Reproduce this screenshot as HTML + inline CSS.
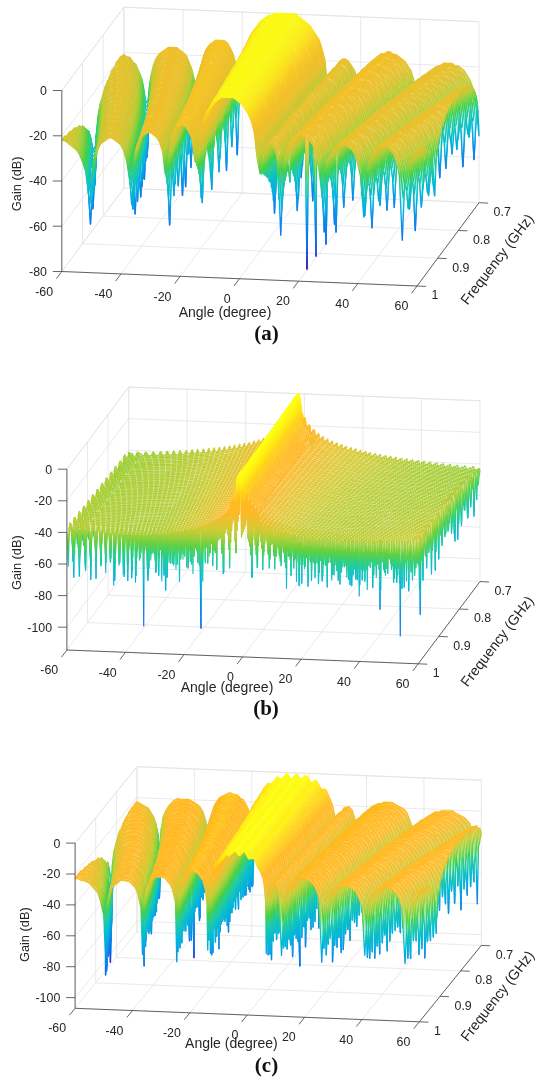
<!DOCTYPE html><html><head><meta charset="utf-8"><title>Gain plots</title><style>html,body{margin:0;padding:0;background:#fff;width:550px;height:1085px;overflow:hidden}svg{display:block}</style></head><body><svg width="550" height="1085" viewBox="0 0 550 1085"><defs><linearGradient id="ga" gradientUnits="userSpaceOnUse" x1="0" y1="0" x2="29.5" y2="-722.8"><stop offset="0.0" stop-color="#251793"/><stop offset="0.04" stop-color="#221a9f"/><stop offset="0.08" stop-color="#1d20b2"/><stop offset="0.12" stop-color="#1b32ca"/><stop offset="0.16" stop-color="#124de6"/><stop offset="0.2" stop-color="#026cf5"/><stop offset="0.24" stop-color="#0377f3"/><stop offset="0.28" stop-color="#097fee"/><stop offset="0.32" stop-color="#0b8ae8"/><stop offset="0.36" stop-color="#089be5"/><stop offset="0.4" stop-color="#04ace1"/><stop offset="0.44" stop-color="#03b7d6"/><stop offset="0.48" stop-color="#0bbfc6"/><stop offset="0.52" stop-color="#19c7b0"/><stop offset="0.56" stop-color="#2ccd8a"/><stop offset="0.6" stop-color="#42d048"/><stop offset="0.64" stop-color="#81d03e"/><stop offset="0.68" stop-color="#bdcb36"/><stop offset="0.72" stop-color="#d4c430"/><stop offset="0.76" stop-color="#e6c22e"/><stop offset="0.8" stop-color="#efbf2a"/><stop offset="0.84" stop-color="#f4c226"/><stop offset="0.88" stop-color="#f8cc20"/><stop offset="0.92" stop-color="#fade1a"/><stop offset="0.96" stop-color="#faee16"/><stop offset="1.0" stop-color="#faf814"/></linearGradient><linearGradient id="la" gradientUnits="userSpaceOnUse" x1="0" y1="0" x2="29.5" y2="-722.8"><stop offset="0.0" stop-color="#d3d1e9"/><stop offset="0.04" stop-color="#d3d1ec"/><stop offset="0.08" stop-color="#d2d2f0"/><stop offset="0.12" stop-color="#d1d6f4"/><stop offset="0.16" stop-color="#d0dbfa"/><stop offset="0.2" stop-color="#cce2fd"/><stop offset="0.24" stop-color="#cde4fd"/><stop offset="0.28" stop-color="#cee5fc"/><stop offset="0.32" stop-color="#cee8fa"/><stop offset="0.36" stop-color="#ceebfa"/><stop offset="0.4" stop-color="#cdeef9"/><stop offset="0.44" stop-color="#cdf1f7"/><stop offset="0.48" stop-color="#c8f1f2"/><stop offset="0.52" stop-color="#b7ede6"/><stop offset="0.56" stop-color="#a1e9cb"/><stop offset="0.6" stop-color="#90e393"/><stop offset="0.64" stop-color="#a5dd75"/><stop offset="0.68" stop-color="#cbd660"/><stop offset="0.72" stop-color="#ddd059"/><stop offset="0.76" stop-color="#ebce58"/><stop offset="0.8" stop-color="#f2cc55"/><stop offset="0.84" stop-color="#f6ce51"/><stop offset="0.88" stop-color="#f9d64d"/><stop offset="0.92" stop-color="#fbe548"/><stop offset="0.96" stop-color="#fbf145"/><stop offset="1.0" stop-color="#fbf943"/></linearGradient><linearGradient id="gb" gradientUnits="userSpaceOnUse" x1="0" y1="0" x2="28.4" y2="-722.1"><stop offset="0.0" stop-color="#221ba1"/><stop offset="0.05" stop-color="#1d26ba"/><stop offset="0.1" stop-color="#183fd9"/><stop offset="0.15" stop-color="#0565f3"/><stop offset="0.2" stop-color="#0376f4"/><stop offset="0.25" stop-color="#0981ed"/><stop offset="0.3" stop-color="#0b8fe6"/><stop offset="0.35" stop-color="#05a4e4"/><stop offset="0.4" stop-color="#03b4da"/><stop offset="0.45" stop-color="#09bec8"/><stop offset="0.5" stop-color="#1ac8ad"/><stop offset="0.55" stop-color="#32cf7c"/><stop offset="0.6" stop-color="#61d041"/><stop offset="0.65" stop-color="#a2cf3a"/><stop offset="0.7" stop-color="#d1cb34"/><stop offset="0.75" stop-color="#ecc02f"/><stop offset="0.8" stop-color="#ffb727"/><stop offset="0.85" stop-color="#ffbb1c"/><stop offset="0.9" stop-color="#ffd315"/><stop offset="0.95" stop-color="#ffed0f"/><stop offset="1.0" stop-color="#fdff07"/></linearGradient><linearGradient id="lb" gradientUnits="userSpaceOnUse" x1="0" y1="0" x2="28.4" y2="-722.1"><stop offset="0.0" stop-color="#7a76c7"/><stop offset="0.05" stop-color="#777dd6"/><stop offset="0.1" stop-color="#748ce8"/><stop offset="0.15" stop-color="#69a3f8"/><stop offset="0.2" stop-color="#68adf8"/><stop offset="0.25" stop-color="#6bb3f4"/><stop offset="0.3" stop-color="#6dbcf0"/><stop offset="0.35" stop-color="#69c8ef"/><stop offset="0.4" stop-color="#68d2e9"/><stop offset="0.45" stop-color="#6bd8de"/><stop offset="0.5" stop-color="#76dece"/><stop offset="0.55" stop-color="#84e2b0"/><stop offset="0.6" stop-color="#a0e38d"/><stop offset="0.65" stop-color="#c7e289"/><stop offset="0.7" stop-color="#e3e085"/><stop offset="0.75" stop-color="#f4d982"/><stop offset="0.8" stop-color="#ffd47d"/><stop offset="0.85" stop-color="#ffd677"/><stop offset="0.9" stop-color="#ffe573"/><stop offset="0.95" stop-color="#fff46f"/><stop offset="1.0" stop-color="#feff6a"/></linearGradient><linearGradient id="gc" gradientUnits="userSpaceOnUse" x1="0" y1="0" x2="25.9" y2="-659.8"><stop offset="0.0" stop-color="#251793"/><stop offset="0.05" stop-color="#211ba3"/><stop offset="0.1" stop-color="#1d28bd"/><stop offset="0.15" stop-color="#1545df"/><stop offset="0.2" stop-color="#026cf5"/><stop offset="0.25" stop-color="#0579f2"/><stop offset="0.3" stop-color="#0a85eb"/><stop offset="0.35" stop-color="#0996e5"/><stop offset="0.4" stop-color="#04ace1"/><stop offset="0.45" stop-color="#04b9d2"/><stop offset="0.5" stop-color="#11c4bc"/><stop offset="0.55" stop-color="#27cc96"/><stop offset="0.6" stop-color="#42d048"/><stop offset="0.65" stop-color="#8ed03c"/><stop offset="0.7" stop-color="#c6ce36"/><stop offset="0.75" stop-color="#e6c230"/><stop offset="0.8" stop-color="#ffbb29"/><stop offset="0.85" stop-color="#ffb81d"/><stop offset="0.9" stop-color="#ffd116"/><stop offset="0.95" stop-color="#ffec0f"/><stop offset="1.0" stop-color="#fdff07"/></linearGradient><linearGradient id="lc" gradientUnits="userSpaceOnUse" x1="0" y1="0" x2="25.9" y2="-659.8"><stop offset="0.0" stop-color="#dedcef"/><stop offset="0.05" stop-color="#deddf1"/><stop offset="0.1" stop-color="#dddff5"/><stop offset="0.15" stop-color="#dce3fa"/><stop offset="0.2" stop-color="#d9e9fe"/><stop offset="0.25" stop-color="#daebfd"/><stop offset="0.3" stop-color="#daedfc"/><stop offset="0.35" stop-color="#daeffb"/><stop offset="0.4" stop-color="#d9f3fa"/><stop offset="0.45" stop-color="#d9f4f8"/><stop offset="0.5" stop-color="#cdf3f1"/><stop offset="0.55" stop-color="#b3edda"/><stop offset="0.6" stop-color="#9be69e"/><stop offset="0.65" stop-color="#b1de78"/><stop offset="0.7" stop-color="#d2d860"/><stop offset="0.75" stop-color="#ebce59"/><stop offset="0.8" stop-color="#ffc954"/><stop offset="0.85" stop-color="#ffc64a"/><stop offset="0.9" stop-color="#ffda45"/><stop offset="0.95" stop-color="#fff03f"/><stop offset="1.0" stop-color="#fdff39"/></linearGradient></defs><rect width="550" height="1085" fill="#fff"/><line x1="123.9" y1="188.2" x2="123.9" y2="7.2" stroke="#e3e3e3" stroke-width="0.8"/><line x1="183.1" y1="190.6" x2="183.1" y2="9.6" stroke="#e3e3e3" stroke-width="0.8"/><line x1="242.3" y1="193.0" x2="242.3" y2="12.0" stroke="#e3e3e3" stroke-width="0.8"/><line x1="301.5" y1="195.4" x2="301.5" y2="14.4" stroke="#e3e3e3" stroke-width="0.8"/><line x1="360.7" y1="197.9" x2="360.7" y2="16.9" stroke="#e3e3e3" stroke-width="0.8"/><line x1="419.9" y1="200.3" x2="419.9" y2="19.3" stroke="#e3e3e3" stroke-width="0.8"/><line x1="479.1" y1="202.7" x2="479.1" y2="21.7" stroke="#e3e3e3" stroke-width="0.8"/><line x1="123.9" y1="188.2" x2="479.1" y2="202.7" stroke="#e3e3e3" stroke-width="0.8"/><line x1="123.9" y1="142.9" x2="479.1" y2="157.4" stroke="#e3e3e3" stroke-width="0.8"/><line x1="123.9" y1="97.7" x2="479.1" y2="112.2" stroke="#e3e3e3" stroke-width="0.8"/><line x1="123.9" y1="52.4" x2="479.1" y2="66.9" stroke="#e3e3e3" stroke-width="0.8"/><line x1="123.9" y1="7.2" x2="479.1" y2="21.7" stroke="#e3e3e3" stroke-width="0.8"/><line x1="123.9" y1="7.2" x2="479.1" y2="21.7" stroke="#e3e3e3" stroke-width="0.8"/><line x1="61.8" y1="271.5" x2="123.9" y2="188.2" stroke="#e3e3e3" stroke-width="0.8"/><line x1="61.8" y1="226.2" x2="123.9" y2="142.9" stroke="#e3e3e3" stroke-width="0.8"/><line x1="61.8" y1="181.0" x2="123.9" y2="97.7" stroke="#e3e3e3" stroke-width="0.8"/><line x1="61.8" y1="135.8" x2="123.9" y2="52.4" stroke="#e3e3e3" stroke-width="0.8"/><line x1="61.8" y1="90.5" x2="123.9" y2="7.2" stroke="#e3e3e3" stroke-width="0.8"/><line x1="61.8" y1="90.5" x2="123.9" y2="7.2" stroke="#e3e3e3" stroke-width="0.8"/><line x1="123.9" y1="188.2" x2="123.9" y2="7.2" stroke="#e3e3e3" stroke-width="0.8"/><line x1="103.2" y1="216.0" x2="103.2" y2="35.0" stroke="#e3e3e3" stroke-width="0.8"/><line x1="82.5" y1="243.7" x2="82.5" y2="62.7" stroke="#e3e3e3" stroke-width="0.8"/><line x1="61.8" y1="271.5" x2="61.8" y2="90.5" stroke="#e3e3e3" stroke-width="0.8"/><line x1="61.8" y1="271.5" x2="123.9" y2="188.2" stroke="#e3e3e3" stroke-width="0.8"/><line x1="121.0" y1="273.9" x2="183.1" y2="190.6" stroke="#e3e3e3" stroke-width="0.8"/><line x1="180.2" y1="276.3" x2="242.3" y2="193.0" stroke="#e3e3e3" stroke-width="0.8"/><line x1="239.4" y1="278.8" x2="301.5" y2="195.4" stroke="#e3e3e3" stroke-width="0.8"/><line x1="298.6" y1="281.2" x2="360.7" y2="197.9" stroke="#e3e3e3" stroke-width="0.8"/><line x1="357.8" y1="283.6" x2="419.9" y2="200.3" stroke="#e3e3e3" stroke-width="0.8"/><line x1="417.0" y1="286.0" x2="479.1" y2="202.7" stroke="#e3e3e3" stroke-width="0.8"/><line x1="123.9" y1="188.2" x2="479.1" y2="202.7" stroke="#e3e3e3" stroke-width="0.8"/><line x1="103.2" y1="216.0" x2="458.4" y2="230.5" stroke="#e3e3e3" stroke-width="0.8"/><line x1="82.5" y1="243.7" x2="437.7" y2="258.2" stroke="#e3e3e3" stroke-width="0.8"/><line x1="61.8" y1="271.5" x2="417.0" y2="286.0" stroke="#e3e3e3" stroke-width="0.8"/><g transform="scale(0.25)" fill="url(#la)" stroke="url(#ga)" stroke-width="5.4" stroke-linejoin="round"><path transform="translate(491,758)" d="M0 -534l12 1 24 19 23 37 12 27 12 46 12 124 12-132 11-63 12-36 24-35 24-17 35 2 36 28 11 19 12 27 12 46 12 126 12-143 12-63 12-36 11-17 24-17 36 1 11 10 24 37 12 46 12 90 12-44 11-90 24-72 24-35 12-9 11-17 24-17 12 0 12-8 83 3 59 48 35 55 12 37 12 55 12 136 12-36 12-62 11-27 12-18 12-8 12 0 12 10 12 18 12 28 11 55 12 152 12-160 12-45 12-27 23-35 24-17 12 0 12-8 12 0 11 10 12 0 36 29 12 18 11 28 12 46 12 117 12-35 12-63 12-35 12-27 11-18 24-17 12 1 12-9 35 2 12 9 12 1 12 18 12 10 11 18 12 28 12 37 12 90 12-26 4 98-12-122-12-64-12-37-23-37-24-19-12 0-12-10-35-1-47 34-12 17-12 27-12 36-12 98-12-63-12-82-11-37-24-37-36-28-11-1-12-9-12-1-12 9-12-1-23 17-24 36-12 26-12 54-12 262-11-272-12-55-24-37-12-9-12-1-12 9-11 17-12 36-12 63-12 8-12-127-12-45-11-37-36-56-59-48-83-3-12 9-12-1-35 26-36 53-12 26-11 36-24 180-12-118-12-46-12-27-11-19-12-9-36-2-23 17-12 18-12 26-12 54-12 308-12-254-12-55-23-55-36-29-35-1-36 25-12 18-11 27-12 53-12 160-12-98-12-63-23-55-12-10-12-18-12-1-12-10z"/><path transform="translate(487,764)" d="M0 -534l12 1 35 28 24 37 12 37 12 81 12-17 11-90 12-44 12-27 12-9 12-17 12 0 11-8 36 1 24 19 11 19 12 27 12 37 12 91 12-63 12-81 12-36 23-35 12-8 36 1 23 19 12 28 12 36 12 73 12 1 11-99 12-45 24-53 12-18 12-9 11-17 24-17 12 0 12-8 83 3 59 48 35 55 12 37 12 55 12 163 12-72 12-53 11-27 12-18 12-8 12 0 12 10 12 18 12 37 11 64 12 81 12-116 12-45 12-27 12-17 35-26 12 0 12-8 12 0 11 10 12 0 24 19 24 37 11 28 12 55 12 257 12-220 12-54 12-26 23-36 36-25 47 2 36 28 23 37 12 28 12 55 12 224 12-232 4 39-12 26-12-90-12-37-11-27-12-19-12-9-12-19-12 0-12-10-35-1-12 8-12 0-23 17-12 17-12 27-12 36-12 62-12 36-12-118-11-45-12-28-12-19-36-28-11-1-12-9-12-1-12 9-12-1-23 17-24 36-12 26-12 45-12 160-11-152-12-55-12-27-12-19-12-9-12-1-12 9-11 17-12 27-12 63-12 35-12-136-12-54-11-37-36-56-59-48-83-3-12 9-12-1-23 17-12 18-12 8-24 36-23 71-12 90-12 45-12-91-12-46-23-37-12-9-36-2-23 17-12 18-12 36-12 62-12 144-12-126-12-46-11-28-12-18-36-29-35-1-24 17-24 35-11 36-12 62-12 133-12-125-12-45-12-28-23-37-24-19-12-1z"/><path transform="translate(483,769)" d="M0 -543l12 10 12 0 23 19 24 37 12 37 12 55 12 171 11-225 12-53 12-27 12-18 35-25 36 1 24 19 23 37 12 37 12 64 12 27 12-117 12-45 11-26 12-18 12-8 36 1 23 19 12 19 12 36 24 119 11-126 12-45 12-36 12-26 12-18 12-9 11-17 12-9 12 1 24-17 83 3 59 48 24 37 23 55 12 55 12 208 12-117 12-53 11-27 12-18 12-8 12 0 12 10 12 18 12 37 11 82 12 36 12-98 12-36 12-27 12-17 35-26 12 0 12-8 12 0 11 10 12 0 24 19 12 19 23 55 12 73 12 116 12-124 12-45 12-26 12-18 47-34 35 1 12 10 12 0 12 10 12 18 12 10 11 27 12 37 12 73 12 27 12-98 4 21-12 233-12-225-12-55-11-27-24-37-36-29-47-2-35 26-24 35-12 27-12 53-12 221-12-258-11-54-12-28-24-37-24-19-11-1-12-9-12-1-12 9-12-1-35 26-12 18-12 26-12 45-12 117-11-82-12-64-12-36-12-19-12-9-12-1-12 9-11 17-12 27-12 54-12 71-12-163-12-54-11-37-36-56-59-48-83-3-12 9-12-1-23 17-12 18-12 8-12 18-24 53-11 45-12 99-12 0-12-73-12-37-12-27-23-19-36-2-12 9-23 35-12 36-12 81-12 62-12-91-12-36-11-28-12-18-24-20-35-1-12 9-12-1-12 18-12 8-12 27-11 45-12 89-12 18-12-82-12-36-24-37-35-29-12-1z"/><path transform="translate(479,775)" d="M0 -543l12 10 12 0 35 29 12 18 12 28 12 45 12 117 11-107 12-71 12-36 24-35 23-17 36 1 35 29 12 18 12 37 12 55 12 210 12-273 12-44 11-36 12-9 12-17 36 1 23 19 12 19 12 27 12 64 12 118 11-171 12-54 12-36 36-53 11-8 12-18 12 1 24-17 83 3 59 48 24 37 11 27 12 37 12 55 12 281 12-208 12-53 11-27 24-17 24 19 12 18 12 37 11 91 12-9 12-81 12-35 35-53 12-9 24 1 12-8 12 9 11 1 12 9 12 1 36 56 11 45 12 91 12 27 12-89 12-36 12-27 12-8 11-18 12-8 12 0 12-8 35 1 48 38 12 19 11 27 12 46 12 142 12-114 12-63 4 13-12 98-12-27-12-73-11-36-12-28-12-9-12-19-12-9-12-1-11-9-36-2-47 34-12 18-12 27-12 44-12 125-12-117-11-72-24-56-12-18-24-19-11-1-12-9-12-1-12 9-12-1-35 26-12 18-12 26-12 36-12 99-11-37-12-82-12-36-12-19-12-9-12-1-12 9-11 17-12 27-12 54-12 116-12-208-12-54-23-56-24-37-59-48-83-3-24 17-12 0-11 8-12 18-12 8-12 18-12 27-12 35-11 45-12 126-24-118-12-37-12-18-23-19-36-2-12 9-11 17-12 27-12 45-12 117-12-28-12-64-12-36-23-37-24-20-35-1-36 26-12 17-12 27-11 54-12 224-12-171-12-55-12-36-23-37-24-20-12 0-12-10z"/><path transform="translate(475,781)" d="M0 -543l12 10 24 0 11 10 12 19 12 9 12 28 12 36 12 73 11 9 12-107 12-45 12-27 12-8 12-18 11-8 36 1 12 10 12 0 23 37 12 28 12 46 12 135 12-162 12-53 11-36 12-18 24-17 35 2 12 18 12 10 12 36 12 46 12 317 11-343 12-54 12-36 12-26 24-36 59-42 83 3 59 48 24 37 11 27 12 37 12 55 12 312 12-239 12-53 11-27 24-17 24 19 12 18 12 46 11 109 24-117 12-35 12-27 12-18 23-17 12 1 12-9 12 1 12 9 11 1 36 28 12 19 12 28 11 45 12 144 24-133 12-36 24-35 35-26 47 2 36 29 24 37 11 37 12 63 12 89 12-133 12-45 4 13-12 63-12 114-12-142-11-46-12-28-12-18-47-38-36-2-12 9-12-1-11 9-12 17-12 9-12 27-12 35-12 90-12-28-11-90-12-46-36-56-12 0-11-10-12 0-12-10-12 9-24-1-11 8-36 53-12 36-12 81-11 8-12-91-12-36-12-19-24-19-23 17-12 27-12 54-12 208-12-282-12-54-11-37-12-28-24-37-59-48-83-3-24 17-12 0-11 17-12 9-36 53-12 35-11 54-12 171-12-117-12-64-12-28-12-18-23-19-36-2-12 18-11 8-12 36-12 45-12 273-12-211-12-55-12-36-11-19-36-29-35-1-24 17-24 35-12 36-11 72-12 106-12-116-12-46-12-27-12-19-35-29-12 0-12-10z"/><path transform="translate(471,786)" d="M0 -543l12 0 12 10 12 0 23 20 24 37 12 27 12 55 11 218 12-262 12-54 12-27 12-17 35-26 36 2 23 19 12 18 12 28 12 36 12 91 24-143 11-36 12-27 24-17 35 2 12 9 12 19 12 27 12 46 12 172 11-180 12-63 12-36 12-26 24-36 59-42 83 3 59 48 24 37 11 27 12 37 12 64 12 241 12-186 12-44 11-27 24-17 24 19 12 18 12 46 11 153 12-107 12-63 12-35 24-36 23-17 12 1 12-9 12 1 12 9 11 1 24 19 24 37 12 28 11 54 12 236 12-208 12-44 12-36 12-18 47-34 36 2 11 9 12 1 12 9 36 56 11 46 12 99 12-44 12-72 12-36 4 4-12 45-12 133-12-89-11-64-12-37-24-37-35-28-48-2-35 25-24 36-12 35-24 134-11-144-12-46-12-28-12-18-35-29-12 0-12-10-12 0-12 8-12 0-23 17-12 18-12 26-12 36-23 116-12-108-12-46-12-19-24-19-23 17-12 27-12 54-12 239-12-313-12-54-11-37-12-28-24-37-59-48-83-3-59 43-24 35-12 27-12 36-11 53-12 344-12-317-12-46-12-37-12-9-11-19-36-1-24 17-11 17-12 36-12 54-12 161-12-135-12-46-12-27-23-38-12 0-12-10-35-1-12 9-12 17-12 9-12 26-12 45-11 108-12-10-12-72-12-37-12-27-12-10-12-19-11-9-24-1-12-10z"/><path transform="translate(467,792)" d="M0 -543l12 0 12 10 12 0 35 29 12 19 12 27 12 46 11 99 12-89 12-72 12-36 24-35 23-17 24 1 12 1 23 19 24 37 12 36 12 73 12 1 12-108 11-45 24-35 12-9 35 2 12 9 12 19 12 27 12 37 12 127 11-108 12-72 12-36 24-53 12-18 59-42 83 3 59 48 24 37 11 27 12 37 12 73 12 198 12-161 12-35 11-27 24-17 24 19 12 27 12 46 11 232 12-213 12-54 12-26 24-36 23-17 12 1 12-9 12 1 12 9 11 1 24 19 12 18 24 56 11 72 12 99 12-116 12-35 12-27 24-35 11-9 12 1 12-9 36 2 47 38 24 55 11 55 12 226 12-234 12-54 12-36 4 13-12 35-12 72-12 44-11-99-12-46-36-55-12-10-11 0-12-10-36-1-47 34-12 18-12 35-12 45-12 208-11-236-12-55-12-28-24-37-23-19-12 0-12-10-12 0-12 8-12 0-23 17-24 35-12 36-12 63-11 107-12-153-12-46-12-19-24-19-23 17-12 27-12 45-12 186-12-242-12-63-11-37-12-28-24-37-59-48-83-3-59 43-24 35-12 27-12 36-11 62-12 180-12-172-12-45-12-28-12-18-11-10-36-1-24 17-11 26-12 36-24 144-12-91-12-37-12-27-11-19-24-19-36-1-35 25-12 18-12 26-12 54-11 262-12-218-12-54-12-28-24-37-23-19-12-1-12-9-12-1z"/><path transform="translate(462,797)" d="M0 -534l12 -9 12 1 12 9 11 1 24 19 12 19 12 27 12 37 11 63 12 19 12-108 12-45 12-26 12-18 23-17 36 2 35 28 12 19 12 36 12 55 12 108 12-179 11-45 12-27 12-17 12-9 35 2 24 19 12 27 12 37 12 100 11-54 12-81 12-45 24-53 12-8 11-18 48-34 83 3 59 48 24 37 11 27 12 46 12 64 12 172 12-135 12-45 11-17 24-17 24 19 12 27 12 55 11 202 12-201 12-45 12-35 12-18 35-26 12 1 12-9 12 1 12 9 11 1 12 9 36 56 12 46 11 91 12 18 12-81 12-35 12-27 12-18 35-25 48 2 35 28 12 19 12 27 12 37 11 73 12 27 12-98 12-45 12-27 4 4-12 35-12 54-12 234-11-226-12-55-24-55-47-38-36-1-12 8-11 0-12 8-24 36-12 26-12 36-12 116-11-99-12-73-24-55-12-19-23-19-12 0-12-10-12 0-12 8-12 0-23 17-24 35-12 27-12 54-11 212-12-231-12-46-12-28-24-19-23 17-12 27-12 36-12 161-12-198-12-73-11-37-12-28-24-37-59-48-83-3-59 43-12 18-24 53-12 36-11 72-12 107-12-127-12-36-12-28-12-18-11-10-36-1-12 8-23 35-12 45-12 108-12 0-12-73-12-37-23-37-24-19-12-1-24 0-23 17-24 35-12 36-12 71-11 89-12-99-12-45-12-28-12-18-35-29-12-1-12-9-12-1z"/><path transform="translate(458,803)" d="M0 -534l12 -9 12 1 12 9 11 1 24 19 24 37 12 28 11 54 12 218 12-262 12-53 12-27 12-18 35-25 24 1 12 9 11 1 24 37 12 27 12 46 12 178 12-213 11-54 12-27 24-35 35 2 24 19 12 27 12 37 12 82 11-18 12-99 12-45 12-26 35-53 48-34 83 3 59 48 24 37 11 27 12 46 12 73 12 145 12-117 12-45 11-17 24-17 12 9 12 19 12 27 12 64 11 108 12-134 12-45 12-26 12-18 35-26 12 1 12-9 12 10 12 0 35 29 12 18 12 28 12 46 11 153 12-89 12-54 12-35 24-36 35-25 36 1 12 10 11 0 12 10 24 37 12 27 12 46 11 125 12-97 12-63 12-35 12-18 4-5-12 26-12 45-12 98-11-27-12-72-12-37-12-28-12-18-35-29-48-2-35 26-12 17-12 27-12 36-12 80-11-18-12-91-12-45-36-56-11-10-12 0-12-10-12 0-12 8-12 0-35 26-12 17-12 36-12 45-11 200-12-201-12-55-12-28-24-19-23 17-12 18-12 45-12 134-12-171-12-64-11-46-12-28-24-37-59-48-83-3-47 34-12 18-12 9-24 53-12 45-11 81-12 53-12-100-12-36-12-28-23-19-36-1-12 8-12 18-11 26-12 45-12 180-12-108-12-55-12-37-12-18-35-29-36-1-23 17-12 17-12 27-12 45-12 107-11-18-12-64-12-36-12-28-12-19-24-19-11 0-12-10-12 0-12 8z"/><path transform="translate(454,808)" d="M0 -534l12 1 12-9 12 9 11 1 36 29 12 18 12 28 11 36 12 108 12-89 12-71 12-36 23-35 24-17 36 1 23 19 12 19 12 27 12 46 12 109 12-108 11-72 12-36 12-17 36-26 35 29 12 18 12 37 12 73 11 27 12-117 12-45 12-35 35-53 36-26 12 1 12-9 71 3 59 48 12 18 23 56 12 36 12 82 12 118 12-108 12-36 23-35 12 1 12 9 12 19 12 27 23 137 12-108 12-36 12-26 24-36 11-8 12 0 12-8 12 0 12 10 12 0 35 29 24 55 12 55 11 226 12-198 12-54 12-26 12-18 12-9 12-17 11 0 12-8 36 1 47 38 24 56 12 63 11 132 12-167 12-45 12-26 12-18 4 4-12 17-12 36-12 63-11 97-12-125-12-46-12-28-24-37-11-9-12-1-12-9-36-2-35 26-24 35-12 36-12 53-11 89-12-153-12-45-12-28-12-19-35-28-12-1-12-9-12 8-12 0-35 26-12 17-12 27-12 45-11 134-12-108-12-64-12-28-12-18-12-10-23 17-12 18-12 45-12 116-12-144-12-73-11-46-12-28-24-37-59-48-83-3-47 34-36 53-12 27-12 45-11 99-12 17-12-82-12-36-12-28-23-19-36-1-24 35-11 26-12 54-12 213-12-178-12-45-12-28-23-37-12-1-12-9-24-1-35 26-12 17-12 27-12 54-12 261-11-217-12-55-12-27-24-38-23-19-12 0-12-10-12 0-12 8z"/><path transform="translate(450,814)" d="M0 -534l12 1 12-9 12 0 11 10 12 0 24 20 12 18 12 28 11 36 12 73 12 0 12-98 12-45 12-27 11-17 24-17 12 0 24 1 23 19 24 37 12 37 12 82 12-36 11-90 12-36 12-26 24-17 35 1 24 37 12 28 12 64 11 81 12-144 12-54 24-53 23-35 36-26 12 1 12-9 71 3 59 48 12 18 23 56 12 36 24 182 12-90 12-36 11-26 12-9 12 1 12 9 12 19 12 37 12 81 11 19 12-90 12-36 12-26 12-9 12-18 11-8 12 0 12-8 12 0 12 10 12 0 23 19 24 38 12 36 12 73 11 99 12-116 12-45 36-53 12-8 11 0 12-8 36 1 35 29 12 18 12 28 12 37 12 90 11-17 12-81 12-36 12-26 12-18 4 4-12 17-12 27-12 45-11 166-12-131-12-64-24-55-47-38-36-2-11 9-12-1-12 18-12 8-12 18-12 27-12 53-11 198-12-226-12-54-24-56-35-28-12-1-12-9-12-1-12 9-11-1-12 9-24 35-12 27-12 35-11 108-24-136-12-28-12-18-12-10-12 0-23 35-12 36-12 107-12-117-12-82-11-37-24-55-12-19-59-48-71-2-12 8-12 0-35 25-36 53-12 36-12 45-11 117-12-28-12-73-12-36-12-19-35-29-36 26-12 18-11 36-12 71-12 108-12-109-12-45-12-28-12-18-23-20-36-1-23 17-24 35-12 36-12 72-12 89-11-108-12-37-12-27-12-19-36-29-11 0-12-10-12 9-12-1z"/><path transform="translate(446,819)" d="M0 -534l12 1 12-9 12 0 11 10 12 0 36 29 23 55 12 55 12 202 12-246 12-54 12-27 23-35 12 1 12-9 24 1 35 29 24 55 12 64 12 36 11-126 12-45 24-35 12-8 35 1 12 10 12 18 12 37 12 55 11 162 12-207 12-53 12-36 12-27 12-17 11-9 12-18 24-17 12 1 12-9 71 3 59 48 12 18 23 56 12 45 24 164 12-90 12-36 11-17 12-9 12 1 12 9 12 19 12 37 12 99 11-17 12-72 12-36 12-26 12-18 23-17 12 0 12-8 12 0 12 10 12 0 11 10 12 18 12 10 12 28 12 36 12 100 11 18 12-80 12-36 12-26 12-18 35-26 36 2 12 9 12 1 11 9 24 37 12 28 12 46 12 166 11-147 12-63 24-53 12-9 4-6-12 18-12 27-12 35-11 81-12 18-12-91-12-37-12-27-12-19-35-28-36-2-11 9-12-1-12 9-36 53-12 44-11 116-12-99-12-72-12-37-24-37-23-19-12-1-12-9-12-1-12 9-11-1-12 9-12 18-12 8-12 27-12 35-11 90-12-18-12-82-12-37-12-18-12-10-12 0-11 8-12 27-12 36-12 89-24-181-11-37-24-55-12-19-59-48-71-2-12 8-12 0-35 25-24 36-24 53-12 54-11 144-12-82-12-64-12-27-24-38-35-1-24 17-12 27-11 36-12 90-12 35-12-82-12-36-24-37-23-20-36-1-23 17-12 18-12 26-12 45-12 99-12-1-11-72-12-37-12-27-12-19-24-19-12-1-11-9-12-1-12 9-12-1z"/><path transform="translate(442,825)" d="M0 -525l12 -8 12 0 12-9 11 1 12 9 12 1 12 9 24 38 11 27 12 46 12 116 12-115 12-72 23-53 36-26 24 1 11 10 12 0 24 37 12 28 12 55 12 219 11-273 12-54 12-26 12-18 12-8 35 1 12 10 12 18 12 28 12 55 11 239 12-266 12-62 12-36 12-18 12-26 11-9 12-18 24-17 12 1 12-9 71 3 59 48 12 18 23 56 12 45 12 91 12 64 12-81 12-36 11-17 12-9 12 1 12 9 12 28 12 37 12 117 11-53 12-72 12-36 24-35 23-17 12 0 12-8 12 0 12 10 12 0 11 10 24 37 12 28 12 45 12 136 11-71 12-54 12-36 12-27 47-34 36 2 47 38 12 27 12 37 12 64 12 80 11-124 12-45 12-27 24-35 4 3-12 9-24 53-11 63-12 148-12-167-12-46-12-27-23-37-12-10-12 0-12-10-35-1-36 25-12 18-12 27-12 35-11 81-12-19-12-99-12-37-12-28-12-9-11-19-12-9-12-1-12-9-12-1-12 9-11-1-24 17-12 18-12 27-12 35-11 72-12 18-12-100-12-37-12-18-12-10-12 0-11 8-12 18-12 36-12 89-24-163-11-46-24-55-12-19-59-48-71-2-12 8-12 0-24 17-11 17-12 9-12 18-12 26-12 36-12 54-11 206-12-162-12-55-12-36-12-19-12-10-35-1-12 9-24 35-11 45-12 126-12-37-12-64-24-55-35-29-24-1-12 9-12 0-23 35-12 26-12 54-12 246-12-202-11-54-24-55-36-29-11-1-12-9-12-1-12 9-12-1z"/><path transform="translate(438,831)" d="M0 -525l12 -8 12 0 12-9 11 1 12 9 12 1 24 19 12 19 11 27 12 37 12 72 12-8 12-99 12-36 11-26 12-18 24-17 35 1 24 20 12 18 12 28 12 45 12 153 11-170 12-63 24-53 12-8 35 1 12 10 12 18 12 28 12 46 11 144 12-153 12-62 12-36 12-27 35-53 24-17 12 1 12-9 71 3 59 48 12 18 23 56 12 45 12 100 12 46 12-72 12-36 11-17 12-9 24 19 12 19 12 46 12 144 11-107 12-63 24-53 35-26 12 0 12-8 12 9 12 1 35 28 12 19 12 37 12 54 12 255 11-227 12-53 12-27 24-35 12-9 12 1 11-9 36 2 35 28 12 19 12 27 12 37 12 100 12-36 11-81 12-35 24-35 12-9 4-6-24 36-12 26-11 45-12 125-12-81-12-63-12-37-12-28-47-38-35-1-48 34-12 27-12 35-11 54-12 71-12-135-12-46-12-28-23-37-12-9-12-1-12-9-12-1-12 9-11-1-24 17-24 36-12 35-11 72-12 54-12-118-12-37-12-27-12-10-12 0-11 8-12 18-12 36-12 80-12-63-12-91-11-46-24-55-12-19-59-48-71-2-12 8-12 0-24 17-11 17-12 9-12 27-12 17-12 36-12 63-11 265-12-239-12-55-12-27-12-19-12-10-35-1-12 9-12 17-12 27-11 54-12 273-12-220-12-55-12-27-24-38-11 0-12-10-24-1-35 26-24 53-12 72-12 116-12-117-11-45-12-28-24-37-12-10-12 0-11-10-12 0-12 8-12 0-12 9z"/><path transform="translate(434,836)" d="M0 -516l24 -17 12 0 11-8 12 9 12 1 36 29 23 55 12 63 12 123 12-185 12-45 11-26 24-35 12-9 35 1 24 20 12 18 12 28 12 36 12 100 11-90 12-71 12-36 24-35 35 1 24 19 12 28 12 45 11 118 12-98 12-72 12-45 12-27 23-35 12-9 12-17 12-9 12 1 12-9 71 3 59 48 12 18 23 56 12 54 12 100 12 28 12-72 12-27 11-17 12-9 24 19 12 19 12 55 12 210 11-191 12-54 12-36 12-17 35-26 12 0 12-8 12 9 12 1 23 19 24 37 12 37 12 63 12 117 11-125 12-44 36-53 24-17 35 1 12 10 12 0 12 10 23 37 12 28 12 54 12 199 12-198 11-54 12-35 12-18 12-8 12-18 4 3-12 9-24 35-11 36-12 81-12 35-12-99-12-37-12-28-11-18-36-29-36-1-11 8-12 0-12 8-24 36-12 26-11 54-12 226-12-254-12-55-12-37-12-18-35-29-12 0-12-10-12 9-11-1-36 26-24 53-12 63-11 107-12-144-12-46-12-18-24-19-11 8-12 18-12 36-12 71-12-45-12-100-11-46-24-55-12-19-59-48-71-2-12 8-12 0-24 17-35 53-12 26-12 36-12 63-11 153-12-145-12-46-12-27-12-19-12-10-35-1-12 9-24 53-12 63-11 170-12-153-12-46-12-27-12-19-23-19-36-2-24 18-11 17-12 27-12 36-12 98-12 9-12-73-11-36-12-28-12-19-24-19-12 0-12-10-11 0-12 8-12 0-12 9z"/><path transform="translate(429,842)" d="M0 -516l24 -17 12 0 11-8 12 0 12 10 12 0 12 10 23 37 12 28 12 45 12 134 12-142 12-62 11-36 12-18 36-25 23 0 36 29 12 28 12 36 12 73 11-26 12-90 12-36 12-27 35-25 36 28 12 28 12 36 11 91 12-53 12-81 12-45 12-27 23-35 12-9 12-17 12-9 12 1 12-9 71 3 47 38 36 56 11 37 12 45 12 109 12 19 12-72 12-27 11-17 12-9 24 19 12 28 12 55 12 222 11-221 12-54 12-27 24-35 12-9 11 1 12-9 12 1 12 9 12 1 23 19 12 18 12 28 12 37 12 82 12 45 11-90 12-35 12-27 12-18 36-25 35 1 47 38 12 28 12 37 24 126 12-116 11-45 12-26 12-18 24-17 4-6-12 18-12 9-12 17-11 36-12 54-12 197-12-198-12-55-12-28-23-37-12-9-12-1-12-9-23-1-12-1-24 17-36 53-11 45-12 125-12-117-12-64-12-37-23-37-24-19-12 0-12-10-12 9-11-1-36 26-12 18-12 35-11 54-12 192-12-211-12-55-12-18-24-19-11 8-12 18-12 27-12 71-12-27-12-100-11-55-24-55-12-19-59-48-71-2-12 8-12 0-12 8-12 18-11 8-24 36-12 26-12 45-12 72-11 99-12-118-12-46-12-27-24-20-35-1-24 35-12 36-11 72-12 90-12-100-12-37-12-27-12-19-23-19-36-2-12 9-23 35-12 27-12 45-12 185-12-123-12-64-23-55-36-29-12 0-11-10-12 9-12-1-24 18z"/><path transform="translate(425,847)" d="M0 -507l12 -17 12-9 12 0 11-8 12 0 12 10 12 0 24 19 11 19 12 28 12 36 12 82 12-36 12-89 11-36 24-35 24-17 23 0 12 10 12 0 24 38 12 36 12 64 11 46 12-135 12-45 12-27 24-17 35 2 24 37 12 36 11 82 12-17 12-90 12-45 24-53 11-18 12-9 12-17 12 0 24-17 71 3 47 38 36 56 11 37 12 45 12 127 12-8 12-63 12-36 23-17 24 19 12 28 12 64 12 134 11-151 12-45 12-27 24-35 12-9 11 1 12-9 12 1 12 9 12 1 12 9 11 19 12 9 12 28 12 46 12 117 12-35 11-63 12-35 12-27 48-34 35 1 36 29 11 18 12 28 12 46 12 99 12-53 12-72 11-36 24-35 24-17 4-6-24 18-12 17-11 27-12 45-12 116-24-127-12-37-11-27-48-38-35-2-36 26-12 17-12 27-11 36-12 89-12-45-12-82-12-36-12-28-11-19-24-19-12 0-12-10-12 0-11 8-12 0-12 8-24 36-12 26-12 54-11 222-12-223-12-55-12-27-24-19-11 8-12 18-12 27-12 71-12-18-12-109-11-46-12-37-36-55-47-39-71-2-12 8-12 0-12 8-12 18-11 8-24 36-12 26-12 45-12 81-11 54-12-91-12-37-12-27-35-29-36 26-12 26-12 36-12 90-11 27-12-73-12-37-12-27-35-29-24-1-36 26-11 17-12 36-12 63-12 141-12-133-12-46-11-27-24-38-12-9-12-1-12-9-12-1-11 9-12-1-24 18z"/><path transform="translate(421,853)" d="M0 -507l36 -26 11 1 12-9 12 10 12 0 24 19 23 38 12 27 24 127 12-134 11-45 12-27 12-17 24-17 35 1 12 9 24 38 12 27 12 55 11 247 12-300 12-54 12-27 12-17 12-9 35 2 24 37 12 36 11 64 12 28 12-108 12-54 24-53 11-18 60-43 71 3 47 38 36 56 11 37 12 45 12 145 12-35 12-63 12-27 23-17 24 19 12 37 12 64 12 81 11-116 12-45 12-27 12-8 12-18 12-9 11 1 12-9 12 1 12 9 12 1 12 9 23 38 12 27 12 55 12 209 12-163 11-54 12-35 24-36 12-8 12 0 12-8 23 1 12 9 12 1 12 9 23 37 12 28 12 55 12 220 12-228 12-54 11-27 24-35 12-9 12 1 4-6-24 18-23 35-12 35-12 72-12 53-12-99-12-46-11-27-12-19-36-28-35-2-48 34-12 27-11 36-12 63-12 35-12-118-12-45-12-28-11-10-12-18-12-10-12 0-12-10-12 0-11 8-12 0-12 8-24 36-12 26-11 45-12 152-12-135-12-64-12-27-24-19-23 17-12 36-12 62-12 9-12-127-11-46-12-37-36-55-47-39-71-2-24 17-12-1-12 18-11 8-12 18-24 53-12 45-12 90-11 18-12-82-12-37-24-37-35-1-24 17-12 26-12 45-11 135-12-45-12-64-12-37-24-37-12-1-11-9-24-1-24 17-23 35-12 36-12 90-12 35-12-81-12-37-11-27-12-19-24-19-12-1-12-9-11-1-12 9-12-1-12 9-12 18z"/><path transform="translate(417,858)" d="M0 -498l12 -17 24-18 11 1 12-9 12 1 12 9 12 1 12 9 23 38 12 27 12 55 12 177 12-212 11-54 12-27 24-35 12-8 35 1 24 19 12 19 12 27 12 46 11 144 12-170 12-54 12-36 12-17 12-9 35 2 12 9 12 19 12 36 23 128 12-135 12-45 12-36 35-53 48-34 71 3 47 38 36 56 11 37 12 54 12 155 24-117 12-27 23-17 12 10 12 18 12 28 12 73 12 45 11-98 12-36 12-27 12-17 24-18 11 1 12-9 12 1 47 38 24 55 12 64 12 160 12-150 11-45 12-26 24-36 24-17 35 2 12 9 12 1 12 18 12 10 11 27 12 37 24 118 12-107 12-45 11-27 12-17 24-18 12 1 4-6-12 0-12 8-23 36-12 26-12 54-12 228-12-220-12-55-11-27-24-37-12-10-12 0-12-10-23-1-12 9-12-1-12 9-24 35-11 36-12 53-12 163-12-209-12-54-12-28-23-37-12-10-12 0-12-10-12 0-11 8-12 0-12 8-12 18-12 9-12 26-11 45-12 117-12-82-12-64-12-36-24-19-23 17-12 26-12 63-12 36-12-145-11-46-12-37-36-55-47-39-71-2-59 42-12 18-24 53-12 54-12 108-11-27-12-64-12-37-24-37-35-1-12 8-12 18-12 26-12 54-12 300-11-247-12-54-12-28-24-37-12-10-35-1-24 17-12 18-11 26-12 45-12 134-24-126-12-28-23-37-24-19-12-1-12-9-12 8-11 0-36 26z"/><path transform="translate(413,864)" d="M0 -489l24 -35 12-9 11 1 12-9 12 1 12 9 12 1 23 19 12 19 12 27 12 46 12 99 23-161 24-53 36-26 23 1 24 19 24 37 12 46 11 100 12-90 12-72 12-36 24-35 35 2 12 9 12 19 12 27 11 64 12 127 12-180 12-54 12-36 35-53 48-34 71 3 47 38 36 56 11 37 12 54 12 181 12-89 12-54 12-27 23-17 12 10 12 18 12 37 12 82 12 9 11-80 12-45 24-35 24-18 11 1 12-9 12 10 12 0 24 19 23 38 12 36 24 154 12-107 11-36 12-26 12-18 36-26 12 1 23 1 36 28 12 19 11 27 12 37 12 109 12-54 12-71 12-36 11-27 36-26 12 1 4-6-12 0-24 17-11 18-12 26-12 45-12 107-24-117-11-37-12-28-12-9-12-19-12 0-12-10-35-1-24 17-24 35-11 27-12 44-12 150-12-160-12-63-23-56-48-38-12 0-11 8-12 0-24 17-12 18-12 26-11 36-12 99-12-46-12-73-12-27-12-19-12-9-23 17-12 26-24 117-12-154-11-55-12-37-36-55-47-39-71-2-48 34-35 53-12 35-12 45-12 135-23-127-12-37-12-18-12-10-35-1-12 8-12 18-12 35-12 54-11 170-12-144-12-45-12-28-12-19-24-19-35-1-12 9-24 35-11 26-12 54-12 213-12-178-12-54-12-28-23-37-12-10-12 0-12-10-12 0-12 8-11 0-24 17-12 18z"/><path transform="translate(409,869)" d="M0 -480l12 -26 35-26 12 0 12-8 12 9 12 1 23 19 24 37 12 37 12 72 12 10 11-108 12-45 24-35 24-17 23 1 36 29 12 27 12 37 11 73 12-27 12-99 12-36 24-35 35 2 12 9 12 19 12 27 11 55 12 290 12-325 12-54 12-36 12-26 23-36 48-34 71 3 47 38 24 37 23 56 12 63 12 208 12-125 12-54 12-27 23-17 12 10 12 18 12 37 12 100 12-27 11-72 12-35 24-35 24-18 11 1 12-9 12 10 12 0 24 19 11 19 12 28 12 36 12 100 12 10 12-81 11-36 12-26 48-35 35 2 24 19 24 37 11 28 12 54 12 209 12-217 12-54 12-26 23-35 12-9 24 1 4-6-12 0-35 26-12 26-12 36-12 72-12 53-12-108-11-37-12-28-12-18-36-29-35-1-36 25-12 18-11 27-12 35-12 108-24-154-12-37-23-37-24-19-12-1-12-9-11 8-12 0-24 17-24 35-11 45-12 81-12-10-12-82-12-36-12-19-12-9-23 17-12 26-12 54-12 90-12-181-11-55-12-37-36-55-47-39-71-2-48 34-35 53-12 35-12 54-12 180-11-126-12-64-12-28-12-18-12-10-35-1-24 35-12 35-12 72-11 90-12-100-12-45-24-38-24-19-23-1-36 26-23 53-24 161-12-99-12-45-12-28-11-19-24-19-12 0-12-10-12 0-11 8-12 0-12 9-24 35z"/><path transform="translate(405,875)" d="M0 -471l12 -26 12-18 23-17 12 0 12-8 12 0 12 10 12 0 11 19 12 10 12 18 12 37 12 54 12 162 11-215 12-54 12-26 12-18 24-17 35 1 12 10 24 37 12 37 11 64 12 36 12-126 12-45 12-26 23-17 24 1 24 19 12 27 11 55 12 181 12-198 12-63 12-36 12-26 23-36 48-34 71 3 47 38 24 37 12 28 11 37 12 54 12 291 12-217 12-54 12-18 23-17 12 10 12 18 12 46 12 118 23-135 24-53 47-34 12 0 12 10 12 0 24 19 11 19 12 28 12 54 12 136 24-134 11-36 24-35 12-9 12 1 12-9 23 1 12 10 12 0 12 19 12 9 23 56 24 135 12-116 12-45 12-26 11-18 24-17 24 1 4-6-24-1-12 9-23 35-12 27-12 54-12 216-12-208-11-55-12-28-24-37-24-19-35-1-48 34-11 27-12 35-12 81-12-9-12-100-12-37-11-28-12-18-24-19-12-1-12-9-11 8-12 0-24 17-24 35-11 36-12 72-12 26-12-100-12-36-12-19-12-9-23 17-12 26-12 54-12 126-12-208-11-64-24-55-24-37-47-39-71-2-48 34-23 35-12 27-12 35-12 54-12 326-11-290-12-55-12-28-12-18-12-10-35-1-24 35-12 35-12 99-11 27-12-73-12-36-12-28-36-29-23-1-24 18-24 35-11 45-12 107-12-9-12-73-12-36-23-38-24-19-12 0-12-10-12 9-11-1-36 26-12 27z"/><path transform="translate(400,881)" d="M0 -462l12 -26 24-35 11-9 12 0 12-8 12 0 12 10 12 0 11 10 36 56 12 54 12 134 11-151 12-63 12-26 24-35 12-9 35 1 24 20 24 55 11 55 12 160 12-223 12-54 24-35 11-8 24 1 24 19 12 27 11 46 12 136 12-135 12-63 12-45 12-26 23-36 48-34 71 3 47 38 24 37 12 28 11 37 12 54 12 331 12-257 12-54 23-35 12 0 12 10 12 27 12 37 12 153 12-107 11-63 12-35 12-18 12-8 12-18 12 0 11-8 12 0 12 10 12 0 12 10 23 37 12 28 12 54 12 270 12-232 12-54 11-27 24-35 24-17 35 1 36 29 12 18 12 28 11 37 12 99 12-44 12-72 12-36 12-26 35-26 24 1 4-6-24-1-23 18-12 17-12 27-12 45-12 116-23-136-24-55-12-10-12-18-12-1-11-9-24-1-12 8-12 0-12 8-23 36-12 35-24 134-12-135-12-55-11-28-12-18-24-19-12-1-12-9-11-1-48 35-23 53-24 134-12-117-12-46-12-19-12-9-23 17-12 17-12 54-12 217-12-290-11-55-12-37-12-27-24-37-47-39-71-2-48 34-23 35-12 27-12 35-12 63-12 198-11-181-12-54-12-28-24-19-23-1-24 17-12 27-12 45-12 126-11-37-12-64-12-36-24-38-12-9-35-2-24 18-12 17-12 27-11 54-12 215-12-162-12-55-12-36-12-19-11-10-12-18-12-1-12-9-12-1-12 9-12-1-23 18-12 17-12 27z"/><path transform="translate(396,886)" d="M0 -443l12 -36 24-35 23-18 12 1 12-9 12 10 12 0 23 19 24 38 12 45 12 82 11-45 12-80 12-36 12-27 35-26 24 1 24 20 12 18 12 28 11 45 12 179 12-214 12-54 12-26 12-18 11-8 36 1 12 19 12 27 11 37 12 109 24-162 12-36 23-53 12-18 48-34 71 3 47 38 24 37 12 28 11 37 12 63 12 259 12-203 12-45 23-35 12 0 24 37 12 46 12 204 12-176 11-63 12-26 24-36 12-8 12 0 11-8 12 0 12 10 12 0 12 19 12 9 11 19 12 37 12 63 12 135 12-134 12-44 11-27 12-18 36-25 24 1 11 0 36 29 12 18 12 37 11 46 12 182 12-172 12-63 12-27 23-35 12-9 36 2 4-6-24-1-35 26-12 27-12 35-12 72-12 45-11-100-12-37-12-27-12-19-35-28-36-2-24 17-23 36-12 26-12 54-12 232-12-269-12-55-11-28-24-37-12-9-12-1-12-9-11-1-12 9-12-1-12 18-12 9-12 17-11 36-12 63-12 107-12-153-12-37-12-28-12-9-11-1-24 35-12 54-12 257-12-330-11-55-12-37-12-27-24-37-47-39-71-2-48 34-23 35-12 27-12 45-12 62-12 135-11-136-12-45-12-28-24-19-23-1-12 9-24 35-12 54-12 222-11-160-12-55-24-55-24-19-35-2-12 9-24 35-12 27-11 63-12 150-12-133-12-55-35-56-12-9-12-1-12-9-12-1-12 9-11-1-12 9-24 35-12 27z"/><path transform="translate(392,892)" d="M0 -425l12 -45 12-27 12-17 23-18 12 1 12-9 12 1 47 38 24 55 23 118 12-134 12-36 12-27 12-17 23-18 24 1 24 20 24 37 11 45 12 118 12-126 12-63 12-35 12-18 11-8 36 1 24 37 11 37 12 100 12-54 12-81 12-45 23-53 12-9 12-17 36-26 71 3 47 38 24 37 12 28 11 37 12 63 12 225 12-169 12-45 12-27 11-8 12 0 24 37 12 55 12 254 12-244 11-54 12-26 24-36 12-8 12 0 11-8 12 0 48 38 11 28 12 37 12 82 12 54 12-90 12-44 23-36 36-25 35 1 24 19 24 37 12 37 11 64 12 89 12-133 12-45 12-27 12-17 23-18 36 2 4-6-36-1-11 9-24 35-12 26-12 63-12 172-11-182-12-45-12-37-12-19-35-28-24-1-12-1-36 26-11 18-12 26-12 45-12 133-12-134-12-64-11-37-12-18-12-10-12-18-12-1-12-9-11-1-12 9-12-1-12 9-24 35-11 27-12 63-12 176-12-204-12-46-24-37-11-1-24 35-12 45-12 203-12-258-11-64-12-37-12-27-24-37-47-39-71-2-48 34-11 17-24 54-12 36-24 161-11-109-12-36-12-28-12-19-35-1-12 9-12 17-12 27-12 54-12 213-11-178-12-46-12-27-12-19-24-19-23-1-36 26-12 26-12 36-11 81-12 44-12-81-12-46-24-37-23-19-12-1-12-9-12 8-12 0-23 17-24 35-12 36z"/><path transform="translate(388,897)" d="M0 -389l12 -63 12-36 12-17 11-9 12-18 12 1 12-9 12 1 12 9 11 1 12 9 24 38 12 27 12 55 11 220 12-264 12-45 12-36 12-17 23-18 24 1 36 29 12 28 11 36 12 91 12-63 12-80 12-36 23-35 36 1 12 10 12 27 11 37 12 82 12-18 12-99 12-45 12-26 35-53 36-26 71 3 47 38 24 37 12 28 11 37 12 73 12 189 12-152 12-36 12-27 11-8 24 19 12 27 12 55 12 153 12-161 11-54 12-26 12-18 24-17 12 0 11-8 12 9 12 1 24 19 12 18 11 28 12 37 12 100 12 0 12-72 12-35 11-27 12-18 12-8 12 0 12-8 24 1 11 9 12 1 12 18 12 10 12 27 12 37 11 91 12-18 12-80 12-36 12-27 35-26 36 2 4-6-36-1-23 17-12 18-12 26-12 45-12 134-11-90-12-63-12-37-24-37-23-19-36-2-36 26-23 35-12 45-12 89-12-54-12-82-11-36-12-28-48-38-11-1-12 9-12-1-12 9-24 35-11 27-12 54-12 243-12-253-12-55-24-37-11-1-12 9-12 26-12 45-12 170-12-225-11-64-12-37-12-27-24-37-47-39-71-2-36 25-12 18-11 8-24 54-12 45-12 81-12 53-11-100-12-36-24-38-35-1-12 9-12 17-12 36-12 63-12 126-11-118-12-46-24-37-24-19-23-1-24 17-12 18-12 26-12 36-11 135-24-118-24-56-47-38-12 0-12 8-12 0-23 17-12 18-12 26-12 45z"/><path transform="translate(384,903)" d="M0 -353l12 -81 12-45 23-35 24-17 12 0 12-8 12 9 11 1 24 19 12 19 12 27 12 46 11 116 12-115 12-63 12-36 24-35 11-9 24 1 12 1 12 9 24 38 11 36 12 73 12-8 12-99 12-45 23-35 36 1 12 10 12 18 11 37 12 73 12 18 12-108 12-45 12-35 35-53 36-26 71 3 47 38 24 37 12 28 11 37 12 73 12 171 12-134 12-45 12-18 11-8 24 19 12 27 12 64 12 100 12-126 11-45 12-26 12-18 24-17 12 0 11-8 12 9 12 1 24 19 12 18 11 28 12 46 12 153 12-89 12-54 12-35 23-36 24-17 36 2 35 28 12 19 12 28 12 45 11 152 12-133 12-63 12-26 24-35 11-9 48 2 4-6-36-1-35 26-12 26-12 36-12 81-11 17-12-90-12-37-12-28-12-9-12-19-11 0-12-10-24-1-12 9-12-1-12 9-11 17-12 27-12 36-12 72-12-1-12-100-11-36-12-28-12-19-24-19-12 0-11-10-12 9-12-1-24 17-12 18-11 27-12 54-12 160-12-152-12-55-12-28-23-19-12 9-12 26-12 36-12 153-12-190-11-73-12-37-12-27-24-37-47-39-71-2-36 25-35 53-12 27-12 45-12 99-12 17-11-82-12-36-12-28-12-10-35-1-24 35-12 36-12 81-12 63-11-91-12-37-12-28-36-28-23-1-24 17-12 18-12 35-12 45-11 264-12-220-12-54-12-28-24-37-11-10-12 0-12-10-12 0-12 8-12 0-11 18-12 8-12 18-12 35-12 63z"/><path transform="translate(380,908)" d="M0 -252l12 -164 12-45 23-53 24-17 12 0 12-8 12 0 35 29 24 37 12 37 11 81 12-26 12-90 12-36 12-26 35-26 24 1 24 19 23 55 24 137 12-153 12-45 12-27 23-17 24 1 12 10 12 18 11 37 24 118 12-126 12-54 23-53 24-35 36-26 71 3 47 38 24 37 12 28 11 46 12 73 12 144 12-116 12-45 12-18 11-8 24 19 12 27 24 137 12-108 11-36 12-26 12-18 24-17 12 0 11-8 12 9 12 1 12 9 24 38 11 27 12 55 12 263 12-235 12-45 12-35 11-18 36-26 36 2 23 19 24 37 12 28 12 63 11 141 12-167 12-54 12-26 12-18 23-17 48 2 4-6-47-2-12 9-24 35-12 27-12 63-11 132-12-151-12-46-12-28-12-18-35-29-36-1-24 17-23 35-12 36-12 54-12 88-12-153-11-45-12-28-12-19-24-19-12 0-11-10-12 9-12-1-24 17-12 18-11 27-12 45-12 125-12-99-12-64-12-28-23-19-12 9-12 17-12 45-12 135-12-172-11-73-12-37-12-27-24-37-47-39-71-2-36 25-35 53-12 36-12 45-12 108-12-19-11-73-12-36-12-19-12-10-35-1-24 35-12 45-12 99-12 9-11-73-12-37-24-37-12-10-24-1-11 0-12 8-24 36-12 35-12 63-11 116-12-117-12-45-12-28-12-19-23-19-12 0-12-10-12 9-12-1-23 18-24 35-12 44-12 81z"/><path transform="translate(376,914)" d="M0 -252l12 -137 12-63 12-35 23-35 12-9 12 0 12-8 12 0 11 10 12 0 12 10 24 37 12 37 23 126 12-134 12-45 12-26 12-18 23-17 24 1 24 19 12 19 11 27 12 55 12 271 12-324 12-54 12-27 23-17 24 1 12 10 12 18 11 28 12 64 12 99 12-162 12-54 23-53 24-35 24-17 12 0 12-8 59 2 47 38 24 37 12 28 11 46 12 73 12 136 12-117 12-36 12-18 11-8 24 19 12 36 12 73 12 37 12-90 11-45 24-35 36-26 11 1 12 9 12 1 12 9 24 38 11 36 12 64 12 134 12-133 12-45 12-26 11-18 36-26 24 1 12 10 11 0 12 10 12 18 12 28 12 37 12 72 11 19 12-99 12-36 12-26 35-26 36 1 12 10 4-15-47-2-24 18-12 17-12 27-12 54-11 167-12-141-12-64-12-28-24-37-23-19-36-1-35 25-12 18-12 36-12 44-12 236-12-264-11-54-12-28-24-37-12-10-12 0-11-10-12 9-12-1-24 17-12 18-11 27-12 35-12 108-24-136-12-28-23-19-12 9-12 17-12 45-12 117-12-145-11-73-12-46-12-27-24-37-47-39-71-2-36 25-23 36-24 53-12 54-12 126-23-119-12-36-12-19-12-10-24-1-23 18-12 26-12 45-12 153-23-136-24-56-24-19-24-1-35 26-12 27-12 35-12 90-11 27-12-82-12-36-24-38-35-28-12-1-12 9-12-1-24 18-23 53-12 45-12 164z"/><path transform="translate(371,919)" d="M0 -318l12 -17 12-98 12-45 23-35 24-18 12 1 12-9 11 10 12 0 12 10 24 37 12 28 11 45 12 204 12-230 12-63 12-26 12-18 23-17 24 1 24 19 12 19 11 27 12 46 12 144 12-170 12-63 12-27 11-17 12-9 24 1 12 10 12 18 11 28 12 55 12 189 12-234 12-54 12-35 11-27 12-18 12-8 12-18 12-8 12 0 12-8 59 2 47 38 24 37 12 28 11 46 12 82 12 109 12-99 12-36 12-18 11-8 12 9 12 19 12 27 12 91 12 1 12-81 11-36 12-26 48-35 11 1 12 9 12 1 12 18 12 10 12 28 11 36 24 137 12-90 12-45 12-26 11-9 12-18 12 1 12-9 24 1 35 29 12 18 12 28 12 37 12 117 11-80 12-63 12-36 24-35 12-8 11 0 12-9 12 10 12 0 12 10 4-6-12-9-35-2-36 26-12 27-12 36-11 98-12-18-12-73-12-37-12-27-12-19-11-9-12-1-12-9-24-1-35 25-12 18-12 27-12 44-12 134-12-135-11-63-12-37-24-37-12-10-12 0-11-10-12 0-36 25-23 36-12 44-12 90-12-36-12-73-12-37-23-19-12 9-12 17-12 36-12 117-12-136-11-73-12-46-12-27-24-37-47-39-59-2-12 9-12-1-24 17-23 36-24 53-12 54-12 162-12-100-11-64-12-27-12-19-12-10-24-1-23 18-12 26-12 54-12 324-12-271-11-54-12-28-12-19-24-19-24-1-23 18-12 17-12 27-12 45-12 134-23-127-12-37-24-37-12-9-11-1-12-9-12-1-12 9-12-1-12 9-23 35-12 36-12 63-12 137z"/><path transform="translate(367,925)" d="M0 -353l12 140 12-202 12-45 23-53 24-18 12 1 12-9 11 10 12 0 24 19 12 19 12 28 11 36 12 117 12-107 12-63 12-35 23-35 12-9 24 1 36 29 11 27 12 37 12 109 12-99 12-72 12-36 11-17 12-9 24 1 24 19 11 28 12 54 12 249 12-275 12-63 12-35 11-27 12-18 12-8 12-18 12-8 12 0 12-8 59 2 47 38 24 37 23 74 24 182 12-90 12-36 12-18 11-8 12 9 12 19 12 37 12 99 12-26 12-81 23-53 12-18 12-9 12 1 12-9 11 1 36 28 24 38 11 45 12 100 12 1 12-72 12-36 12-26 11-18 24-17 36 1 35 29 12 18 12 37 12 46 12 244 11-252 12-45 12-36 12-17 24-17 35 1 24 19 4-15-12-9-12-1-12-9-11 8-12 0-12 9-24 35-12 35-11 63-12 80-12-117-12-37-12-27-12-19-35-28-24-1-12 8-12 0-11 17-12 9-12 27-12 44-12 90-23-136-12-37-12-28-12-9-12-19-12 0-11-10-12 0-48 34-11 27-12 35-12 81-12 0-12-91-12-28-12-18-11-10-12 9-12 17-12 36-12 99-12-109-11-82-12-46-12-27-24-37-47-39-59-2-12 9-12-1-12 9-12 17-12 9-11 18-12 26-12 36-12 54-12 233-12-189-11-55-12-27-12-19-12-10-24-1-11 9-12 18-12 26-12 63-12 170-12-144-11-45-12-28-12-19-24-19-24-1-23 18-12 17-12 27-12 63-12 230-11-204-12-46-12-28-24-37-12-9-11-1-12-9-12 8-12 0-24 17-23 35-12 45-12 98-12 17z"/><path transform="translate(363,931)" d="M0 -380l12 113 12-112 12-72 11-36 24-35 12-9 12 1 12-9 11 1 48 38 12 28 11 36 12 82 12-27 12-89 12-36 12-27 11-17 12-9 36 1 12 10 23 37 12 37 12 91 12-54 12-81 12-36 11-26 12-9 36 1 12 19 11 28 12 45 12 163 12-171 12-63 12-35 23-54 12-8 12-18 12-8 12 0 12-8 59 2 47 38 24 37 23 74 24 172 12-89 12-27 12-18 11-8 12 9 12 19 12 37 12 117 24-125 11-36 24-35 12-9 12 1 12-9 11 1 36 28 12 19 12 28 11 45 12 136 12-71 12-54 12-36 23-35 24-17 36 1 23 19 24 37 12 37 24 127 11-116 12-45 24-35 24-17 35 1 24 19 4-6-24-19-35-1-24 17-12 18-12 35-11 45-12 253-12-245-12-45-12-37-12-19-35-28-36-2-23 17-12 18-12 27-12 35-12 72-12 0-11-100-12-46-24-37-35-29-12 0-12 8-12 0-12 8-12 18-23 53-12 81-12 27-12-100-12-37-12-18-11-10-12 9-12 17-12 36-12 90-23-182-24-73-24-37-47-39-59-2-12 9-12-1-12 9-12 17-12 9-11 18-12 26-12 36-12 63-12 274-12-248-11-55-12-27-24-20-24-1-11 9-12 18-12 35-12 72-12 99-12-109-11-36-12-28-36-29-24-1-11 9-24 35-12 36-12 63-12 107-11-117-12-37-12-28-12-18-24-19-11-1-12-9-12 8-12 0-24 17-23 53-12 45-12 203-12-141z"/><path transform="translate(359,936)" d="M0 -398l12 72 12-9 12-98 11-45 24-35 36-26 11 1 12 9 12 1 12 9 24 38 11 36 24 127 12-143 12-45 12-27 35-26 24 1 12 10 23 37 12 37 12 64 12 9 12-108 12-45 23-35 36 1 23 38 12 45 12 127 12-117 12-72 12-35 11-27 24-35 12-9 12-17 12 0 12-8 59 2 47 38 12 19 24 55 11 46 12 91 12 63 12-80 12-36 23-17 12 9 12 19 12 46 12 144 12-107 12-63 11-27 24-35 12-9 12 1 12-9 11 10 12 0 24 19 12 19 12 37 11 45 12 262 12-215 12-54 12-36 12-18 35-25 24 1 12 9 12 1 11 9 12 19 12 28 12 36 12 100 12-36 11-80 12-36 24-35 12-9 47 2 12 10 12 18 4-15-24-19-12 0-23-1-24 17-24 35-11 45-12 117-24-127-12-37-23-37-24-19-36-2-23 17-24 36-12 35-12 54-12 71-11-135-12-46-12-28-12-18-35-29-12 0-12 8-12 0-12 8-23 36-12 35-24 126-12-118-12-37-12-18-11-10-12 9-12 17-12 27-12 90-23-173-24-73-24-37-47-39-59-2-12 9-12-1-12 9-12 17-12 9-23 53-12 36-12 63-12 171-12-163-11-46-12-27-12-19-36-2-11 9-12 27-12 35-12 81-12 54-12-91-11-36-24-38-12-9-36-2-11 9-12 18-12 26-12 36-12 90-12 26-11-81-12-37-12-28-47-38-12 0-12 8-12 0-12 8-23 36-12 35-12 72-12 113-12-114z"/><path transform="translate(355,942)" d="M0 -416l12 54 12 159 12-212 11-45 12-35 12-18 24-17 12 0 11-8 12 9 12 1 24 19 12 18 11 37 12 46 12 213 12-248 12-54 12-27 11-17 24-18 24 1 24 19 11 19 12 37 12 54 12 82 12-153 12-45 11-26 12-18 36 1 23 38 12 36 12 109 24-152 12-45 11-27 24-35 12-9 12-17 12 0 12-8 59 2 47 38 12 19 24 55 11 46 12 91 12 63 12-80 12-36 23-17 12 9 12 28 12 46 12 187 12-168 12-54 23-53 24-18 12 1 12-9 11 10 12 0 12 10 24 37 12 28 11 63 12 161 12-151 12-44 12-27 12-18 35-25 24 1 35 28 12 19 12 28 12 45 12 152 12-133 11-63 24-53 24-17 35 1 24 20 12 18 4-14-12-19-12-10-47-2-12 9-24 35-11 36-12 81-12 35-12-99-12-37-12-28-11-18-12-10-12 0-12-10-24-1-35 26-12 18-12 35-12 54-12 216-11-262-12-46-12-37-12-18-24-19-11-1-12-9-12 8-12 0-12 8-23 36-12 26-12 63-12 108-12-145-12-46-12-18-11-10-24 17-12 36-12 81-12-64-11-91-12-46-24-55-12-18-47-39-59-2-12 9-12-1-12 18-12 8-23 36-12 26-12 36-12 72-12 117-12-127-11-46-24-37-36-2-23 36-12 44-12 109-12-10-12-64-11-36-24-38-12-9-24-1-35 26-12 26-12 45-12 143-23-126-12-37-24-37-12-10-12 0-11-10-12 0-36 25-23 36-12 44-12 99-12 8-12-72z"/><path transform="translate(351,947)" d="M0 -425l12 45 12 114 12-122 11-63 12-35 24-36 12-8 12 0 11-8 12 0 36 29 12 18 11 28 12 37 12 117 12-107 12-72 23-53 24-18 24 1 24 19 11 19 12 28 12 54 12 272 12-325 12-54 11-26 24-17 24 0 12 10 11 28 12 36 12 91 12-44 12-90 12-45 11-27 24-35 48-34 59 2 47 38 12 19 24 55 11 46 12 100 12 45 12-71 12-36 23-17 12 9 12 28 12 46 12 290 12-280 12-45 11-36 12-17 24-18 12 1 12-9 11 10 12 0 12 10 24 37 12 37 11 73 12 90 12-108 12-44 12-27 12-9 11-17 12 0 12-8 24 1 35 28 24 56 12 54 12 150 12-176 11-45 12-26 12-18 24-17 12 1 23 0 24 20 12 18 4-5-12-19-24-19-35-2-24 18-23 53-12 63-12 132-12-151-12-46-12-28-11-18-36-29-24-1-35 26-12 18-12 26-12 45-12 150-11-160-12-64-12-27-24-38-12-9-11-1-12-9-12 8-12 0-24 17-23 53-12 54-12 169-12-188-12-46-12-27-11-10-24 17-12 36-12 81-12-64-11-91-12-46-24-55-12-18-47-39-59-2-12 9-12-1-12 18-12 8-23 36-12 26-12 45-24 153-12-109-11-37-24-37-36-2-11 18-12 27-12 45-12 153-12-82-12-55-11-36-12-19-24-19-24-1-23 17-12 18-12 26-12 54-12 248-12-213-11-45-12-37-12-19-24-19-12 0-11-10-12 9-12-1-24 17-12 18-11 36-12 44-12 212-12-158-12-55z"/><path transform="translate(347,953)" d="M0 -434l12 36 12 72 12-8 11-99 12-44 24-35 35-26 12 0 12 10 12 0 12 19 12 9 11 28 12 37 12 81 12-35 12-90 12-36 23-35 12-9 24 1 35 29 12 28 12 45 12 162 12-188 12-54 11-26 12-18 12-8 24 0 12 10 11 19 12 36 12 82 12-17 12-90 12-45 11-36 24-35 48-34 59 2 47 38 12 19 24 55 11 46 12 109 12 27 12-71 12-27 23-17 12 9 12 28 12 55 12 186 12-185 12-54 11-27 12-17 36-26 12 0 11 10 12 0 12 10 12 18 12 28 12 37 11 91 12 27 12-81 12-35 12-27 12-18 23-17 36 2 24 19 23 37 12 37 12 72 12 28 12-99 11-36 12-26 12-18 12-8 47 1 12 10 24 37 4-14-12-19-24-19-35-2-24 18-12 17-11 27-12 45-12 176-12-150-12-55-23-55-36-29-24-1-12 9-11-1-12 18-12 9-12 26-12 45-12 107-11-90-12-73-12-36-24-38-12-9-11-1-12-9-12 8-12 0-24 17-11 18-12 35-12 45-12 280-12-290-12-46-12-27-11-10-24 17-12 36-12 72-12-46-11-100-12-46-24-55-12-18-47-39-59-2-48 34-23 36-12 26-12 45-12 90-12 45-12-91-11-37-12-28-12-9-24-1-23 17-12 27-12 54-12 325-12-272-12-55-11-27-12-19-24-19-24-1-23 17-24 53-12 72-12 107-12-117-11-36-12-28-12-19-36-28-11-1-12 9-12-1-12 9-24 35-12 36-11 63-12 121-12-113-12-46z"/><path transform="translate(342,958)" d="M0 -443l12 27 12 55 12 149 11-202 12-54 12-27 12-17 24-18 11 1 12-9 12 10 12 0 12 10 23 37 12 37 12 63 12 46 12-126 12-45 11-26 12-18 12-9 36 2 12 9 11 19 12 28 12 36 12 118 12-117 12-72 11-26 12-18 12-8 24 0 12 10 11 19 12 36 12 73 12 10 12-108 12-45 23-54 12-17 48-34 59 2 47 38 12 19 24 55 11 55 12 109 12 18 12-71 12-27 23-17 24 37 12 64 12 126 12-143 12-45 11-27 12-17 36-26 12 0 35 29 24 37 12 46 11 118 12-36 12-63 12-35 24-36 23-17 36 2 24 19 11 18 12 28 12 46 12 99 12-53 12-72 11-36 24-35 12-8 35 1 24 19 12 19 12 27 4-23-24-38-12-9-47-2-12 9-12 17-11 27-12 36-12 98-12-27-12-73-12-37-23-37-24-19-36-1-23 17-12 18-12 26-12 36-12 81-11-28-12-91-12-36-12-28-12-19-12-9-11-1-12-9-12-1-36 26-11 18-12 26-12 54-12 186-12-187-12-55-12-27-11-10-24 17-12 27-12 72-12-28-11-109-12-46-24-55-12-18-47-39-59-2-48 34-23 36-12 35-12 45-12 90-12 18-12-82-11-37-12-19-12-9-24-1-12 9-11 17-12 27-12 54-12 188-12-162-12-46-11-28-36-28-24-1-12 8-23 36-12 35-12 90-12 36-12-82-11-36-12-28-12-10-12-18-12-1-12-9-11-1-36 26-24 35-11 45-12 98-12 9-12-72-12-37z"/><path transform="translate(338,964)" d="M0 -453l12 28 12 46 12 113 11-121 12-63 12-36 24-35 12-9 11 1 12-9 12 10 12 0 24 19 11 19 12 37 12 54 12 223 12-267 12-54 11-26 12-18 24-17 24 1 12 9 23 38 12 36 12 91 12-63 12-81 11-35 12-18 12-8 24 0 12 10 11 19 12 27 12 73 12 37 12-117 12-54 23-54 12-17 48-34 59 2 47 38 12 19 24 55 11 55 12 118 12 0 12-62 12-27 12-18 11 1 12 18 12 28 12 64 12 90 12-125 12-45 23-35 36-26 12 0 35 29 12 19 12 27 12 46 11 170 12-115 12-54 12-35 12-18 35-26 24 1 12 10 12 0 23 37 12 28 12 55 12 189 12-188 12-63 11-27 12-17 24-17 35 1 24 19 24 55 4-14-12-28-12-18-23-20-36-1-12 9-23 35-12 36-12 71-12 54-12-100-12-46-11-27-12-19-24-19-36-1-23 17-24 35-12 36-12 63-11 35-12-118-12-45-24-38-35-28-12-1-36 26-11 18-12 26-12 45-12 143-12-126-12-64-23-37-24 17-12 27-12 72-12-19-11-109-12-55-24-55-12-18-47-39-59-2-48 34-12 18-23 53-12 45-12 108-12-9-12-73-11-37-12-19-12-9-12-1-12 0-12 9-11 17-12 27-12 72-12 117-12-118-12-37-11-28-12-18-12-10-36-1-12 8-11 18-12 27-12 44-12 126-12-45-12-64-11-37-24-37-12-9-12-1-12-9-11 8-12 0-24 17-12 18-12 26-11 54-12 203-12-150-12-54-12-28z"/><path transform="translate(334,969)" d="M0 -462l12 28 12 37 12 72 11-18 12-98 12-36 12-26 12-9 12-18 11 1 12-9 12 1 36 28 11 19 12 28 12 45 12 134 12-142 12-63 11-35 12-18 24-17 24 1 23 19 24 55 12 82 12-18 12-99 11-35 12-27 12-8 24 0 23 20 12 36 12 64 12 82 12-144 12-54 11-36 12-27 12-17 48-34 47 2 12 0 47 38 12 19 24 55 11 55 12 127 12-9 12-62 12-27 12-18 11 1 12 18 12 28 12 73 12 54 12-98 12-45 11-27 12-8 12-18 12 0 12-8 12 0 35 29 12 19 12 36 12 55 11 240 12-212 12-54 12-26 24-36 11 1 12-9 24 1 36 29 23 55 12 64 12 107 12-151 12-45 11-27 12-8 12-18 47 2 12 10 24 37 12 45 4-23-24-55-23-20-36-1-24 17-11 18-12 26-12 63-12 188-12-189-12-54-11-28-24-37-12-1-12-9-24-1-35 25-12 18-12 36-12 54-11 115-12-171-12-45-12-28-12-19-35-28-12-1-36 26-23 35-12 45-12 126-12-91-12-64-12-27-11-19-12 0-12 17-12 27-12 63-12-1-11-118-12-55-24-55-12-18-47-39-59-2-48 34-12 18-23 53-12 54-12 117-12-36-12-73-11-28-12-19-12-9-24-1-12 9-11 17-12 36-12 81-12 63-12-91-12-37-23-37-12-10-24-1-24 18-11 17-12 27-12 54-12 266-12-222-12-55-11-37-12-18-24-19-12-1-12-9-11 8-12 0-12 8-24 36-12 35-11 63-12 122-12-114-12-45-12-28z"/><path transform="translate(330,975)" d="M0 -471l24 56 12 63 11 102 12-173 12-45 12-26 12-18 35-26 12 1 12 9 12 1 12 18 11 10 12 28 12 36 12 91 12-54 12-81 11-35 12-27 24-17 24 1 23 19 12 19 12 36 12 64 12 46 12-135 11-45 24-35 24 0 23 20 12 27 12 64 12 136 12-189 12-54 11-36 36-53 36-25 59 2 47 38 12 19 12 27 12 37 11 46 12 145 12-36 12-63 24-35 23 19 12 28 12 82 12 27 12-89 12-36 11-27 12-17 12-9 12 0 12-8 12 9 11 1 24 19 24 55 12 64 11 135 12-134 12-45 12-26 12-9 12-18 11-8 36 1 24 19 23 38 12 36 12 82 12 9 12-89 12-45 23-35 12-9 47 2 24 37 12 28 12 46 4-24-12-46-24-37-11-10-48-1-12 17-11 9-12 26-12 45-12 152-12-108-12-63-23-56-36-28-24-1-11 8-12 0-24 35-12 27-12 53-11 212-12-240-12-54-12-37-12-19-35-28-12-1-12 9-12-1-12 18-11 9-12 26-12 45-12 99-12-55-12-73-12-27-11-19-12 0-12 17-12 27-12 63-12 8-11-127-12-55-24-55-12-18-47-39-59-2-48 34-12 18-11 27-12 35-12 54-12 144-12-81-12-64-11-37-24-19-24-1-12 9-11 26-12 36-12 99-12 18-12-82-23-56-24-19-24-1-24 18-11 17-12 36-12 63-12 142-12-134-12-46-11-28-12-18-36-29-12 0-11 8-12 0-12 17-12 9-12 27-12 35-11 99-12 17-12-72-12-37-12-27z"/><path transform="translate(326,980)" d="M0 -471l12 19 12 28 12 45 11 137 12-154 12-63 12-26 24-36 11-8 12 0 12-8 12 9 12 1 12 9 23 38 12 36 12 73 12 9 12-108 11-35 12-27 12-18 12-8 24 1 23 19 12 19 12 27 12 55 12 144 12-206 11-45 12-27 12-17 36 1 11 19 12 27 12 55 12 263 12-298 12-63 23-53 24-36 36-25 59 2 47 38 12 19 12 27 12 37 11 55 12 145 12-45 12-63 12-26 12-9 23 19 12 37 12 82 12 9 12-80 12-45 23-35 12-9 12 0 12-8 12 9 11 1 12 9 24 38 12 36 23 146 12-99 12-36 12-26 12-18 23-17 36 1 24 19 12 19 11 28 12 45 12 109 24-143 23-54 24-17 36 2 23 19 12 18 12 37 12 64 4-33-12-46-12-27-23-38-48-1-12 8-23 35-12 45-12 90-12-10-12-81-11-37-24-37-24-19-35-2-12 9-12 17-12 9-12 27-12 44-11 134-12-135-12-63-24-56-23-19-12 0-12-10-12 9-12-1-12 9-11 18-12 26-12 36-12 90-12-28-12-82-12-27-23-19-24 35-12 63-12 35-11-145-12-45-12-37-12-28-12-18-47-39-59-2-36 26-35 53-12 35-12 54-12 189-12-136-12-63-11-28-24-19-24-1-23 35-12 45-12 135-12-46-12-63-12-37-11-19-24-19-24-1-24 18-11 26-12 36-12 81-12 53-12-90-12-37-11-28-12-9-12-19-12 0-12-10-12 0-35 25-12 18-12 27-12 44-11 174-12-103-12-63-24-55z"/><path transform="translate(322,986)" d="M0 -480l12 19 12 28 12 36 11 81 12-44 12-81 12-35 12-27 12-18 11-8 12 0 12-8 12 9 12 1 23 19 12 18 12 37 12 55 12 124 12-177 11-54 12-27 12-8 12-18 36 1 11 19 12 9 12 28 12 55 12 203 12-247 11-54 12-27 12-17 36 1 11 19 12 27 12 46 12 216 12-233 12-63 11-36 12-26 24-36 36-25 59 2 47 38 12 19 12 27 12 37 11 55 12 172 12-81 12-54 12-26 12-9 23 19 12 37 12 100 12-27 12-72 12-35 23-35 12-9 12 0 12-8 12 9 11 1 12 9 12 19 12 28 12 36 12 91 11 19 12-81 12-36 24-35 23-17 24 1 12 9 12 1 24 37 11 28 12 54 12 218 12-226 12-54 12-26 11-18 24-17 36 2 11 9 24 37 12 46 12 91 4-51-12-64-12-36-12-19-23-19-36-1-23 17-24 53-24 143-12-108-11-46-12-28-12-18-24-19-35-2-24 17-12 18-12 27-12 35-11 99-24-145-12-37-24-37-11-10-12 0-12-10-12 9-12-1-12 9-23 35-12 45-12 81-12-10-12-82-12-36-23-19-12 8-12 27-12 63-12 44-11-145-12-54-12-37-12-28-12-18-47-39-59-2-36 26-24 35-23 53-12 63-12 299-12-264-12-54-11-28-12-19-36-1-12 18-11 26-12 45-12 206-12-144-12-54-12-28-11-19-24-19-24-1-12 9-12 18-11 26-12 36-12 108-12-10-12-72-12-37-23-37-12-10-12 0-12-10-12 9-11-1-12 9-24 35-12 27-12 63-11 153-12-136-12-46-12-28-12-18z"/><path transform="translate(318,992)" d="M0 -489l12 19 24 55 23 134 12-142 12-44 12-27 12-18 35-25 12 0 35 29 12 18 12 28 12 46 12 174 12-200 11-54 12-27 12-17 24-18 24 1 11 10 12 18 12 28 12 46 12 126 12-143 11-63 12-36 24-17 24 1 23 37 12 46 12 163 12-162 12-72 11-36 12-26 24-36 36-25 59 2 47 38 12 19 12 27 12 37 11 55 12 190 12-99 12-54 12-26 12-9 11 10 12 18 12 37 12 109 24-117 12-35 11-27 24-17 12 0 12-8 12 9 11 1 12 18 12 10 12 28 12 45 12 118 11-35 12-72 24-53 35-26 24 1 36 28 12 19 11 37 12 63 12 90 12-134 12-45 12-26 11-18 12-8 48 2 23 37 12 27 12 46 12 177 4-110-12-91-12-45-23-37-12-10-36-1-23 17-12 17-12 27-12 54-12 225-12-217-11-55-12-28-24-37-12 0-12-10-23-1-24 17-24 36-12 35-11 81-12-18-12-91-12-37-12-28-12-18-11-10-12 0-12-10-12 9-12-1-12 9-23 35-12 36-12 72-12 26-12-100-12-36-23-19-12 8-12 27-12 54-12 80-11-172-12-54-12-37-12-28-12-18-47-39-59-2-36 26-24 35-11 27-12 35-12 63-12 233-12-216-12-45-11-28-12-19-36-1-12 18-11 26-12 54-12 247-12-203-12-54-12-28-11-10-12-18-36-2-12 18-12 9-11 26-12 54-12 178-12-125-12-54-12-37-11-19-24-19-12 0-12-10-12 9-11-1-12 9-12 18-12 26-12 36-12 80-11 44-12-80-12-37-12-28-12-18z"/><path transform="translate(313,997)" d="M0 -489l24 37 12 28 11 55 12 158 12-193 12-54 12-36 12-18 35-25 12 0 12 10 12 0 11 19 12 9 12 28 12 46 12 108 12-98 11-72 12-36 12-17 24-18 24 1 11 10 24 37 12 46 12 100 12-99 11-72 12-27 12-17 12-9 24 1 11 10 12 27 12 46 12 127 12-126 12-63 11-45 12-26 24-36 36-25 59 2 47 38 12 28 12 18 12 37 11 55 12 226 12-144 12-45 12-26 12-9 11 10 12 18 12 37 12 136 12-90 12-63 23-53 36-26 12 1 35 28 12 19 12 28 12 45 12 179 11-123 12-54 12-36 12-17 35-26 24 1 24 19 24 37 11 37 12 81 12 1 12-81 12-45 23-35 12-8 36 1 23 19 12 19 12 36 12 64 12 108 4 36-12-177-12-45-12-28-23-37-48-2-11 9-12 17-12 27-12 45-12 134-12-90-12-64-11-37-12-18-36-29-12 0-11-1-36 26-24 53-11 72-12 36-12-118-12-46-12-28-12-9-11-19-12 0-12-10-12 9-12-1-24 18-11 26-12 36-24 116-12-109-12-36-11-19-12-9-12 8-12 27-12 54-12 98-11-190-12-54-12-37-12-28-12-18-47-39-59-2-36 26-24 35-11 27-12 35-12 72-12 162-12-163-12-45-23-38-24-1-24 18-11 35-12 63-12 144-12-127-12-45-12-28-12-19-11-9-24-1-24 17-12 18-11 26-12 54-12 201-12-175-12-45-12-28-11-19-36-28-12-1-35 26-12 18-12 26-12 45-12 141-23-134-24-55-12-18z"/><path transform="translate(309,1003)" d="M0 -489l12 10 12 18 12 28 11 37 12 98 24-151 12-36 23-35 12-9 12 1 12-9 12 10 12 0 11 10 24 37 12 37 12 81 12-26 11-90 12-36 12-26 24-18 12 1 12 0 23 19 12 28 12 37 12 82 12-45 11-90 12-36 12-17 12-9 24 1 11 10 12 27 12 37 12 109 24-162 23-71 24-36 36-25 59 2 35 29 36 55 12 37 11 64 12 284 12-211 12-54 12-17 12-9 11 10 12 18 12 46 12 162 12-134 12-54 12-35 11-18 36-26 12 1 35 28 12 19 12 28 12 54 12 244 11-215 12-45 12-27 24-35 12-9 35 2 24 19 12 18 12 28 11 46 12 108 24-143 12-36 12-17 23-17 36 1 12 10 23 37 12 36 12 91 12 1 4 65-12-107-12-64-12-37-11-18-24-20-36-1-11 9-24 35-12 45-12 80-12 0-11-82-12-37-24-37-24-19-23-1-36 26-12 18-12 35-11 54-12 124-12-179-12-46-12-28-12-18-35-29-12 0-35 26-24 53-12 63-12 89-12-136-12-36-11-19-12-9-12 8-12 27-12 45-12 143-11-226-12-54-12-37-12-19-12-27-47-39-59-2-36 26-24 35-11 27-12 44-12 63-12 126-12-127-12-45-11-28-12-10-24-1-12 9-12 18-11 26-12 72-12 99-12-100-12-45-23-38-12-9-24-1-24 17-12 18-11 35-12 72-12 98-12-108-12-46-12-27-11-10-12-18-12-1-12-9-12-1-35 26-12 18-12 35-12 54-12 194-11-159-12-55-12-27-24-37z"/><path transform="translate(305,1008)" d="M0 -498l12 10 12 18 12 28 11 37 12 63 12 18 12-107 12-45 12-26 11-9 12-18 12 1 12-9 12 10 12 0 23 19 24 56 12 72 12 37 11-126 12-36 12-26 12-18 12-9 24 1 23 19 12 19 12 37 12 73 12-9 11-99 12-45 12-17 12-9 24 1 11 10 12 18 12 37 12 100 12-54 12-90 11-36 24-53 12-9 12-17 24-17 59 2 35 29 36 55 12 37 11 64 12 355 12-282 12-54 12-17 12-9 11 10 12 18 12 46 12 229 12-210 12-54 12-26 11-18 36-26 12 1 35 28 12 19 12 37 12 64 12 134 11-134 12-44 12-27 12-18 24-17 35 2 12 9 24 37 12 28 11 46 12 216 12-215 12-54 12-27 23-35 48 2 12 10 11 18 12 28 12 45 12 170 12-132 4 30-12 0-12-91-12-37-23-37-12-10-36-1-23 17-12 18-12 35-24 144-12-109-11-45-12-28-12-19-24-19-35-1-12 8-24 36-12 26-11 45-12 216-12-244-12-55-12-28-12-18-35-29-12 0-36 26-11 17-12 36-12 54-12 134-12-162-12-46-11-19-12-9-12 8-12 18-12 54-12 211-11-285-12-63-12-37-36-56-35-29-59-2-36 26-24 35-23 71-24 162-12-109-12-36-11-28-12-10-24-1-12 9-12 18-11 35-12 90-12 45-12-82-12-36-12-28-23-19-24-1-24 17-12 27-11 35-12 90-12 27-12-82-12-37-23-37-12-9-12-1-12-9-12 8-12 0-11 8-24 36-12 35-24 151-12-98-11-37-12-27-12-19-12-9z"/><path transform="translate(301,1014)" d="M0 -498l12 10 24 37 11 28 12 54 12 189 12-233 12-54 12-26 11-18 36-26 12 1 35 28 12 19 12 28 12 54 12 199 11-243 12-54 12-26 12-18 12-9 24 1 23 19 12 19 12 28 24 118 11-135 12-45 12-26 12-9 24 1 11 10 12 18 12 37 12 82 12-27 12-90 11-45 24-53 12-9 12-17 24-17 59 2 35 29 36 55 12 37 11 64 12 299 12-235 12-45 12-17 12-9 11 10 12 18 12 55 12 263 12-253 12-54 12-26 11-18 36-26 12 1 35 28 12 28 12 37 24 145 11-99 12-35 12-27 12-18 24-17 23 1 36 29 12 18 12 37 11 64 12 99 12-143 12-45 12-27 12-17 11-9 36 2 24 19 11 18 12 37 12 55 12 125 12-142 4 21-12 132-12-169-12-46-11-27-12-19-12-10-47-1-24 35-12 26-12 54-12 216-11-217-12-45-12-28-24-37-12-10-35-1-24 17-12 18-12 26-11 45-12 134-12-135-12-64-12-37-12-18-35-29-12 0-35 26-12 17-12 27-12 54-12 209-12-228-12-46-11-19-12-9-12 8-12 18-12 54-12 282-11-356-12-63-12-37-36-56-35-29-59-2-24 17-12 18-12 8-23 54-12 35-12 90-12 54-12-100-12-36-11-19-12-10-24-1-12 9-12 18-11 44-12 99-12 9-12-73-12-37-12-18-23-19-24-1-12 8-12 18-12 27-11 35-12 126-12-36-12-73-24-55-23-19-12-1-12-9-12 8-12 0-11 17-12 9-12 27-12 44-12 108-12-19-11-63-12-37-12-27-12-19-12-9z"/><path transform="translate(297,1019)" d="M0 -507l12 19 12 9 12 19 11 27 12 46 12 115 12-114 12-72 23-53 24-17 12 0 12-8 12 9 11 1 36 56 12 54 12 143 11-160 12-63 12-26 12-18 24-17 23 1 12 18 12 10 12 37 12 54 12 153 11-215 12-54 24-35 24 1 11 10 12 18 12 28 12 82 12 0 12-108 11-45 12-26 36-53 24-17 59 2 35 29 24 37 12 27 12 37 11 64 12 251 12-196 12-45 12-17 12-9 11 10 12 27 12 55 12 170 12-178 12-45 12-26 23-36 12 1 12-9 12 10 12 0 11 10 24 37 12 46 12 82 12 27 11-81 12-35 12-27 36-26 23 1 36 29 12 28 12 36 11 73 12 18 12-89 12-45 24-35 11-9 36 2 24 19 11 27 12 37 12 82 12 18 12-90 4 13-12 142-12-125-12-55-11-36-12-19-24-19-35-1-12 8-12 18-12 26-12 45-12 143-12-99-11-63-12-37-12-19-36-28-23-1-24 17-12 18-12 26-11 36-12 99-24-146-12-36-12-28-35-29-12 0-36 26-11 17-12 27-12 54-12 252-12-262-12-55-11-19-12-9-12 8-12 18-12 45-12 235-11-300-12-63-12-37-36-56-35-29-59-2-24 17-12 18-12 8-23 54-12 44-12 90-12 27-12-82-12-36-11-19-12-10-24-1-12 9-12 27-11 44-12 136-24-119-12-28-12-18-23-19-24-1-12 8-12 18-12 27-11 53-12 243-12-198-12-55-12-28-12-18-35-29-12 0-35 25-12 18-12 27-12 53-12 233-12-188-12-55-11-28-24-37-12-9z"/><path transform="translate(293,1025)" d="M0 -507l12 10 35 55 12 37 12 81 12-26 12-90 12-35 11-27 12-18 12-8 12 0 12-8 12 9 11 1 12 9 12 19 12 28 12 36 12 100 23-153 12-35 12-18 24-17 23 1 12 9 12 19 12 28 12 54 12 203 11-247 12-54 12-26 12-18 24 1 23 19 12 37 12 73 12 18 12-108 11-45 12-35 36-53 24-17 59 2 35 29 24 37 12 27 12 37 11 64 12 225 12-170 12-45 12-17 12-9 11 10 12 27 12 55 12 127 12-144 12-45 12-26 11-18 12-9 12 1 12-9 12 10 12 0 11 10 12 19 12 27 12 37 12 118 12-27 11-72 12-35 12-18 36-26 23 1 24 19 12 19 12 28 12 36 11 109 24-134 12-36 12-18 23-17 36 2 12 9 12 19 11 27 12 46 12 135 12-98 12-63 4 13-12 90-12-19-12-82-11-36-12-28-24-19-35-1-12 8-24 35-12 45-12 90-11-19-12-72-12-37-12-28-36-28-23-1-36 25-12 27-11 36-12 81-12-28-12-82-12-45-23-38-12-9-12-1-12-9-12 8-12 0-23 35-12 27-12 45-12 178-12-170-12-55-11-28-12-9-12 8-12 18-12 45-12 195-11-251-12-63-12-37-12-28-24-37-35-29-59-2-24 17-36 53-11 27-12 44-12 109-12-1-12-82-12-27-11-19-12-10-24-1-24 36-11 54-12 214-12-152-12-55-12-37-12-9-11-19-24-1-24 17-12 18-12 27-11 63-12 159-12-142-12-55-35-56-12 0-12-10-12 9-12-1-23 17-24 54-12 71-12 114-12-114-11-46-12-28-12-18-12-10-12-18z"/><path transform="translate(289,1030)" d="M0 -507l24 19 23 37 12 37 12 63 12 79 12-150 12-53 35-53 12 0 12-8 12 9 11 1 12 9 24 37 12 37 12 82 11-18 12-99 12-35 12-27 24-17 23 1 12 9 12 19 12 28 12 36 12 145 11-162 12-63 12-26 12-18 35 1 12 19 12 37 24 118 12-135 11-45 12-35 36-53 24-17 59 2 35 29 24 37 12 27 12 37 11 64 12 199 12-153 12-36 12-17 12-9 11 10 12 27 12 64 12 91 12-117 12-45 12-26 11-18 12-9 12 1 12-9 12 10 12 0 11 10 12 19 12 27 12 46 12 162 12-98 11-63 12-26 24-36 12 1 12-9 23 1 24 19 12 19 12 28 12 54 11 176 12-175 12-53 12-27 24-35 11 0 12-8 12 9 12 1 24 37 11 27 12 55 12 176 12-175 12-54 4 4-12 63-12 98-12-136-11-45-12-28-12-18-12-10-35-1-24 17-12 17-12 36-24 134-11-108-12-37-12-28-12-18-24-19-23-1-36 25-12 18-11 36-12 72-12 26-12-118-12-36-12-28-11-19-12-9-12-1-12-9-12 8-12 0-12 8-11 18-12 27-12 45-12 143-12-126-12-55-11-28-12-9-12 8-12 18-12 45-12 170-11-226-12-63-12-37-12-28-24-37-35-29-59-2-24 17-36 53-11 36-12 45-12 108-12-19-12-73-12-37-23-19-12 0-12-1-12 18-12 27-11 54-12 247-12-203-12-55-12-28-12-18-12-10-23-1-24 17-12 18-12 36-23 152-12-99-12-37-12-28-12-18-11-10-12 0-12-10-12 9-12-1-12 9-11 17-12 27-12 36-12 89-12 27-12-82-12-36-35-56-12-9z"/><path transform="translate(284,1036)" d="M0 -507l12 1 12 18 12 10 11 18 12 37 12 46 12 156 12-183 12-53 11-36 12-18 36-25 12 0 35 29 12 18 12 37 23 118 12-135 12-44 24-36 12-8 23 1 24 19 12 28 12 45 12 100 11-99 12-72 12-35 24-18 23 1 12 19 12 28 12 64 12 90 12-153 11-54 24-53 24-35 24-17 59 2 35 29 24 37 12 27 12 37 11 73 12 181 12-144 12-36 12-17 12-9 11 10 12 36 24 128 12-108 12-36 12-26 11-18 12-9 12 1 12-9 12 10 12 0 23 38 12 27 12 55 12 279 12-242 11-54 12-26 24-36 12-8 35 1 12 10 24 37 12 28 12 63 11 134 12-169 12-45 12-26 12-18 12-8 35 1 24 19 23 55 12 82 12 37 12-99 12-36 4 4-12 54-12 174-12-175-11-55-12-28-24-37-12 0-12-10-11 9-12-1-24 35-12 27-12 54-11 175-12-176-12-55-12-28-12-18-24-19-23-1-12 8-12 0-24 35-11 27-12 63-12 97-12-162-12-45-12-28-11-19-12-9-12-1-12-9-12 8-12 0-11 8-12 18-12 27-12 45-12 116-12-90-12-64-11-28-12-9-12 8-12 18-12 36-12 152-11-199-12-63-12-37-12-28-24-37-35-29-59-2-24 17-36 53-11 36-12 45-12 135-24-119-12-37-11-18-36-2-12 18-12 27-11 63-12 161-12-144-12-37-12-28-12-18-11-10-24-1-24 17-12 27-12 36-11 99-12 17-12-81-12-37-24-37-11-10-12 0-12-10-12 9-12-1-35 53-12 54-12 150-12-79-12-64-11-36-24-37-24-19z"/><path transform="translate(280,1042)" d="M0 -516l24 19 23 37 12 28 12 37 12 98 24-151 11-36 12-27 36-25 12 0 35 29 12 18 12 28 12 55 11 220 12-264 12-54 12-27 12-18 12-8 23 1 24 19 12 28 12 36 12 82 11-54 12-81 12-35 12-18 12-9 23 1 12 19 12 28 12 54 12 145 12-189 11-63 24-53 24-35 24-17 59 2 35 29 24 37 12 27 12 37 11 73 12 163 12-126 12-45 24-17 11 19 12 27 12 73 12 37 12-90 12-45 23-35 12-9 12 1 12-9 35 29 12 19 12 27 12 64 12 169 12-159 11-45 12-26 12-18 24-17 23 1 36 28 12 19 12 37 12 72 11 37 12-99 12-45 24-35 12-8 35 1 12 10 24 37 11 45 12 118 24-125 12-36 4 4-12 35-12 99-12-36-11-82-24-55-24-19-35-2-12 9-12 17-12 27-12 45-12 168-11-133-12-64-12-28-24-37-12-9-35-2-12 9-24 35-11 27-12 54-12 242-12-280-12-54-12-28-23-37-12-1-12-9-12 8-12 0-12 8-11 18-12 27-12 35-12 108-24-127-11-37-12-9-12 8-12 18-12 36-12 143-11-181-12-72-12-37-12-28-24-37-35-29-59-2-24 17-24 35-23 54-12 54-12 153-12-91-12-64-12-28-11-18-24-1-24 17-12 36-11 72-12 99-12-100-12-46-12-28-24-19-23-1-12 9-24 35-12 45-11 135-24-118-12-37-12-19-35-28-12-1-36 26-11 18-12 35-12 54-12 183-12-157-12-46-12-36-11-19-12-9-12-19-12 0z"/><path transform="translate(276,1047)" d="M0 -516l36 29 11 18 12 28 12 37 12 72 12 0 12-107 11-36 12-26 12-18 12-9 12 1 12-9 11 10 12 0 12 10 12 18 12 28 12 46 11 151 12-159 12-63 12-27 24-35 23 1 24 19 12 19 12 36 12 73 11-18 12-99 12-35 12-18 12-9 23 1 24 38 12 54 12 258 12-293 11-54 12-35 12-27 12-18 12-8 12-18 12 1 11-9 48 2 35 29 24 37 12 27 12 37 11 73 12 154 12-117 12-45 24-17 11 19 12 27 12 82 12 19 12-90 12-36 23-35 24-17 12 0 35 29 12 19 12 36 12 73 12 99 12-116 2 290 9-326 12-26 12-18 24-17 12 0 11 1 24 19 24 37 12 46 12 90 11-35 12-81 24-53 24-17 35 1 12 10 12 18 12 37 11 46 12 262 12-252 12-54 12-27 4 4-12 35-24 125-11-117-12-46-24-37-12-9-35-2-12 9-24 35-12 45-11 98-12-36-12-73-12-37-12-18-35-29-24-1-24 17-12 18-11 27-12 44-12 160-12-170-12-63-12-28-11-19-36-28-12 8-12 0-11 8-24 36-12 44-12 90-12-36-12-73-11-28-12-18-24 17-12 45-12 125-11-163-12-72-12-37-12-28-24-37-35-29-59-2-24 17-24 35-23 54-12 63-12 189-12-145-12-55-12-28-11-18-24-1-12 9-12 17-12 36-11 81-12 54-12-82-12-37-12-28-23-19-24-1-12 9-12 18-12 26-12 54-11 264-12-220-12-55-12-27-12-19-35-28-12-1-36 26-11 27-12 35-24 151-12-98-12-37-11-27-24-37-24-19z"/><path transform="translate(272,1053)" d="M0 -516l36 29 23 37 12 27 12 64 12 145 12-207 11-45 12-26 24-36 12 1 12-9 11 10 12 0 12 10 12 18 12 28 12 37 11 99 24-152 12-36 12-17 24-18 23 1 24 38 12 27 12 64 11 37 12-127 12-44 12-18 12-9 23 1 12 10 12 28 12 54 12 233 12-259 11-63 12-35 12-27 12-18 12-8 12-18 12 1 11-9 48 2 35 29 24 37 12 27 12 37 11 82 12 136 12-117 12-36 24-17 11 19 12 27 12 91 12-8 12-72 12-36 12-26 35-26 12 0 35 29 12 28 12 36 12 82 12 46 12-90 11-36 12-26 36-26 23 1 24 19 12 18 12 28 12 46 12 143 11-124 12-63 12-27 24-35 35 2 24 19 12 18 12 37 11 64 12 81 12-117 12-44 12-18 4-5-12 26-12 54-12 252-11-262-12-46-12-36-12-19-12-9-35-2-24 17-24 54-12 80-11 36-12-91-12-45-24-38-23-19-24-1-24 17-12 18-11 27-10 325-2-290-12 117-12-99-12-73-12-37-11-19-36-28-12-1-24 17-23 36-12 35-12 90-12-18-12-82-11-28-12-18-24 17-12 45-12 116-11-154-12-72-12-37-12-28-24-37-35-29-48-1-11 8-12 0-12 17-12 9-12 17-12 27-11 36-12 54-12 292-12-257-12-55-23-37-24-1-12 9-12 17-12 36-11 99-12 17-12-72-12-37-12-19-24-19-23-1-24 36-12 26-12 63-11 160-12-152-12-46-12-27-12-19-12-9-11-1-12-9-12 8-12 0-12 8-12 18-11 27-12 35-12 108-12-1-12-72-12-37-12-27-11-19-36-28z"/><path transform="translate(268,1058)" d="M0 -516l12 1 24 19 23 37 12 27 12 46 12 138 12-146 11-63 12-35 12-18 36-26 11 1 36 28 12 28 12 37 11 81 12-26 12-90 12-36 12-26 24-18 23 1 12 10 12 18 12 37 12 55 11 99 12-171 12-44 12-27 24-17 23 19 12 28 12 45 12 172 12-180 11-72 12-35 12-27 12-18 12-8 12-18 12 1 11-9 48 2 35 29 24 37 12 27 12 46 11 73 12 127 12-108 12-36 12-17 12 0 11 19 12 37 12 99 12-35 12-72 12-36 12-17 35-26 12 0 24 19 23 38 12 45 6 365 6-274 12 10 12-81 23-53 36-26 23 1 24 19 12 18 12 37 12 55 12 229 11-246 12-54 12-27 12-17 12-9 35 2 24 19 12 27 12 37 11 100 12-18 12-81 12-35 12-18 4 4-12 17-12 45-12 116-11-81-12-64-12-36-12-19-24-19-35-1-24 35-12 26-11 63-12 125-12-144-12-45-12-28-12-19-23-19-24-1-36 26-11 27-12 35-12 90-12-45-12-82-12-37-11-28-36-28-12-1-35 26-12 27-12 35-12 72-12 9-12-91-11-28-12-18-24 17-12 36-12 116-11-136-12-81-12-37-12-28-24-37-35-29-47-1-12 8-12 0-12 17-12 9-12 17-12 27-11 36-12 63-12 259-12-233-12-55-12-28-11-9-24-1-12 9-12 17-12 45-11 126-12-37-12-63-12-28-24-37-23-1-24 17-12 18-12 35-23 153-12-100-12-37-12-27-12-19-12-9-11-1-12-9-12 8-12 0-24 35-11 27-12 44-12 207-12-145-12-63-12-28-23-37-36-28z"/><path transform="translate(264,1064)" d="M0 -516l12 1 35 28 12 19 12 27 12 46 12 81 12-53 11-81 12-35 12-27 36-26 11 1 36 28 12 19 12 37 11 63 12 46 12-126 12-45 24-35 12-9 23 1 12 10 12 18 12 28 12 55 11 281 12-334 12-54 12-27 12-9 23 1 12 10 12 28 12 36 12 145 12-144 11-63 12-35 24-54 47-34 48 2 35 29 24 37 12 27 12 46 11 82 12 109 12-99 12-36 12-17 23 19 12 37 12 117 12-62 8 71 4-134 12-36 12-17 35-26 12 9 12 1 12 9 11 19 12 28 12 36 12 127 12-44 12-63 11-36 24-35 12-9 24 1 11 1 12 9 24 38 12 36 24 136 11-125 12-45 24-35 12-9 35 2 12 9 12 19 12 27 12 46 11 170 12-142 12-54 24-53 4 4-12 17-12 36-12 81-11 17-12-100-12-36-12-28-24-19-35-1-12 8-12 18-12 26-12 54-11 246-12-229-12-54-12-37-12-19-23-19-24-1-36 26-23 53-12 81-12-9-6 273-6-364-12-46-23-37-24-19-12-1-35 26-12 18-12 35-12 72-12 36-12-100-11-37-12-18-12-1-12 18-12 36-12 107-11-127-12-72-12-46-12-28-24-37-35-29-48-1-11 8-12 0-12 17-12 9-12 17-12 27-11 36-12 72-12 180-12-172-12-46-12-28-23-19-24 18-12 26-12 45-11 171-12-100-12-54-12-37-12-19-12-9-23-1-24 17-12 27-12 35-12 90-11 27-12-82-12-37-12-27-35-29-12 0-36 25-12 18-11 36-12 62-12 147-12-139-12-45-12-28-23-37-24-19-12 0z"/><path transform="translate(260,1069)" d="M0 -525l47 38 24 37 12 37 12 72 12 27 11-116 12-44 12-27 12-18 12-8 12 0 11-8 12 9 12 1 24 37 12 28 11 54 12 173 12-226 12-45 12-26 12-18 12-9 23 1 12 10 12 18 12 28 12 46 11 170 12-205 12-54 12-27 12-18 23 1 12 10 12 19 12 45 12 118 12-108 11-72 12-35 12-27 24-35 35-26 48 2 35 29 24 37 12 27 12 46 23 182 12-90 12-36 12-17 23 19 12 46 12 126 12-89 12-54 12-36 23-35 12 0 12-8 12 9 12 1 12 9 9 485 2-466 12 28 12 45 12 180 12-124 12-54 11-27 24-35 12-9 24 1 35 29 12 28 12 36 12 82 12 0 11-89 12-36 12-27 24-17 35 2 24 37 12 27 12 64 11 134 12-151 12-45 12-26 12-18 4-6-24 54-12 54-11 141-12-170-12-45-12-28-12-18-12-10-35-1-12 8-24 35-11 45-12 126-24-136-12-37-24-37-11-10-36-1-12 8-23 36-12 35-12 63-12 45-12-127-12-37-11-28-12-18-12-10-12 0-12-10-35 26-12 18-12 35-4 135-8-72-12 63-12-118-11-37-24-19-12 18-12 36-12 98-11-108-12-82-12-46-12-28-24-37-35-29-47-1-48 34-24 53-11 36-12 63-12 144-12-145-12-37-12-28-11-9-24-1-12 9-12 26-12 54-11 334-12-281-12-54-12-28-12-19-12-9-23-1-12 8-24 36-12 44-12 126-11-45-12-64-12-37-12-18-35-29-12 0-36 25-12 27-11 36-12 80-12 53-12-81-12-45-12-28-11-18-36-29-12 0z"/><path transform="translate(255,1075)" d="M0 -525l12 10 12 0 12 10 11 18 12 10 24 55 12 55 12 188 11-242 12-44 12-27 24-35 12 0 11-8 12 9 12 1 12 9 12 19 12 27 11 46 12 168 12-185 12-54 12-35 12-18 12-9 23 1 24 19 12 28 12 46 11 126 12-143 12-63 12-27 12-18 23 1 12 10 12 19 12 36 12 109 23-153 12-44 12-27 24-35 35-26 48 2 35 29 24 37 12 27 12 46 23 173 12-90 12-27 12-17 12 9 11 19 9 211 3-174 12 162 12-125 12-63 12-27 23-35 12 0 12-8 12 9 12 1 12 9 11 19 12 37 12 54 12 273 12-244 12-54 11-27 12-17 24-18 24 1 23 19 24 38 12 45 12 109 23-134 12-36 24-35 35 1 24 19 12 19 12 36 12 82 11 28 12-90 12-36 12-26 12-9 4-6-12 18-12 27-12 44-11 152-12-134-12-64-12-28-24-37-35-1-24 17-12 26-11 36-12 90-12-1-12-81-12-37-12-28-35-28-24-1-12 8-23 36-12 26-12 54-12 124-12-179-12-46-11-28-2 466-10-484-12-10-12 0-12-10-12 9-11-1-24 36-12 35-12 54-12 90-12-127-11-46-24-19-12 18-12 36-12 89-23-181-12-46-12-28-24-37-35-29-47-1-36 25-24 35-12 27-11 36-12 72-12 108-12-118-12-46-12-19-11-9-24-1-12 18-12 26-12 54-11 206-12-171-12-45-12-28-12-19-12-9-23-1-12 8-12 18-12 27-12 44-12 226-11-172-12-55-12-28-24-37-12 0-11-10-12 9-12-1-12 9-12 17-12 27-11 45-12 116-12-27-12-73-12-36-23-37-48-38z"/><path transform="translate(251,1080)" d="M0 -525l12 10 12 0 23 19 24 37 12 28 12 46 12 122 11-131 12-62 12-36 12-18 35-25 12 9 12 1 12 9 12 19 12 27 11 37 12 108 12-98 12-72 12-26 24-36 23 1 24 19 12 28 12 37 11 100 12-90 12-72 12-36 12-18 23 1 12 10 12 19 12 36 12 91 12-54 11-81 12-44 12-27 24-35 35-26 48 2 35 29 24 37 12 27 12 46 23 173 12-90 12-27 12-17 12 9 11 19 12 46 12 205 12-186 12-54 12-27 23-35 12 0 12-8 12 9 6 536 6-535 23 37 12 28 12 64 12 161 12-151 12-45 11-27 12-17 24-18 24 1 23 19 12 19 12 28 12 45 12 177 12-167 11-53 12-36 12-18 12-8 35 1 12 10 24 37 12 46 12 117 23-134 12-27 24-35 4 3-12 9-12 27-12 35-11 90-12-27-12-82-12-37-12-18-23-19-36-2-24 35-11 36-24 134-12-108-12-46-24-37-23-19-24-1-24 17-11 18-12 26-12 54-12 244-12-272-12-55-11-37-12-18-12-10-12 0-12-10-12 9-11-1-24 36-12 26-12 63-12 125-12-162-3 175-8-212-12-18-12-10-12 18-12 27-12 89-23-172-12-46-12-28-24-37-35-29-47-1-36 25-24 35-12 27-11 45-24 153-12-109-12-37-12-19-11-9-24-1-12 18-12 26-12 63-11 144-12-127-12-46-12-27-24-19-23-1-12 8-12 18-12 36-12 54-12 184-11-167-12-46-12-28-12-18-12-10-12 0-11-10-12 9-12-1-24 35-12 27-11 45-12 242-12-189-12-55-24-55-11-9-12-19-12-9-12-1-12-9z"/><path transform="translate(247,1086)" d="M0 -525l12 1 47 38 12 18 12 28 12 36 12 90 11-53 12-80 12-36 12-27 35-25 12 0 36 29 12 27 11 37 12 82 12-36 12-90 12-35 12-18 23-17 12 0 24 19 12 19 12 37 11 91 12-54 12-90 12-27 12-17 12-9 11 0 12 10 12 19 12 27 12 91 12-26 11-100 12-44 12-27 24-35 35-26 48 2 35 29 24 37 12 27 12 46 11 100 12 64 12-81 12-27 12-17 12 9 11 19 12 46 12 299 12-289 12-54 12-27 12-17 11-9 12 0 12-8 36 28 11 19 12 37 12 64 12 108 12-117 12-44 23-35 24-18 24 1 23 19 12 19 12 37 12 54 12 159 12-185 11-44 12-27 12-18 12-8 35 1 12 10 12 18 12 28 12 55 12 263 11-253 12-54 12-27 12-17 12-9 4-6-24 36-12 26-23 135-12-118-12-46-24-37-11-9-36-2-12 9-12 17-11 36-12 54-12 167-12-177-12-46-12-28-12-18-23-19-24-1-24 17-11 18-12 26-12 45-12 151-12-161-12-64-11-27-24-38-6 535-6-535-12-10-12 9-11-1-24 36-12 26-12 54-12 186-12-205-11-46-12-18-12-10-12 18-12 27-12 89-23-172-12-46-12-28-24-37-35-29-47-1-36 25-24 35-12 27-11 45-12 81-12 54-12-91-12-37-12-19-11-9-24-1-12 18-12 35-12 72-11 90-12-100-12-37-12-27-24-19-23-1-24 35-12 27-12 72-12 98-11-108-12-37-12-28-12-18-12-10-12 0-11-10-36 26-12 17-12 36-11 63-12 131-12-123-12-46-12-27-23-37-24-19-12-1-12-9z"/></g><line x1="61.8" y1="271.5" x2="61.8" y2="90.5" stroke="#404040" stroke-width="0.8"/><line x1="61.8" y1="271.5" x2="417.0" y2="286.0" stroke="#404040" stroke-width="0.8"/><line x1="417.0" y1="286.0" x2="479.1" y2="202.7" stroke="#404040" stroke-width="0.8"/><line x1="61.8" y1="271.5" x2="52.8" y2="271.5" stroke="#404040" stroke-width="0.8"/><line x1="61.8" y1="226.2" x2="52.8" y2="226.2" stroke="#404040" stroke-width="0.8"/><line x1="61.8" y1="181.0" x2="52.8" y2="181.0" stroke="#404040" stroke-width="0.8"/><line x1="61.8" y1="135.8" x2="52.8" y2="135.8" stroke="#404040" stroke-width="0.8"/><line x1="61.8" y1="90.5" x2="52.8" y2="90.5" stroke="#404040" stroke-width="0.8"/><line x1="61.8" y1="271.5" x2="56.4" y2="278.7" stroke="#404040" stroke-width="0.8"/><line x1="121.0" y1="273.9" x2="115.6" y2="281.1" stroke="#404040" stroke-width="0.8"/><line x1="180.2" y1="276.3" x2="174.8" y2="283.5" stroke="#404040" stroke-width="0.8"/><line x1="239.4" y1="278.8" x2="234.0" y2="286.0" stroke="#404040" stroke-width="0.8"/><line x1="298.6" y1="281.2" x2="293.2" y2="288.4" stroke="#404040" stroke-width="0.8"/><line x1="357.8" y1="283.6" x2="352.4" y2="290.8" stroke="#404040" stroke-width="0.8"/><line x1="417.0" y1="286.0" x2="411.6" y2="293.2" stroke="#404040" stroke-width="0.8"/><line x1="479.1" y1="202.7" x2="488.1" y2="203.1" stroke="#404040" stroke-width="0.8"/><line x1="458.4" y1="230.5" x2="467.4" y2="230.8" stroke="#404040" stroke-width="0.8"/><line x1="437.7" y1="258.2" x2="446.7" y2="258.6" stroke="#404040" stroke-width="0.8"/><line x1="417.0" y1="286.0" x2="426.0" y2="286.4" stroke="#404040" stroke-width="0.8"/><g font-size="12.4" font-family="Liberation Sans, Arial, Helvetica, sans-serif" fill="#262626"><text x="47.0" y="275.9" text-anchor="end">-80</text><text x="47.0" y="230.7" text-anchor="end">-60</text><text x="47.0" y="185.4" text-anchor="end">-40</text><text x="47.0" y="140.2" text-anchor="end">-20</text><text x="47.0" y="94.9" text-anchor="end">0</text><text x="53.1" y="295.7" text-anchor="end">-60</text><text x="112.3" y="298.1" text-anchor="end">-40</text><text x="171.5" y="300.5" text-anchor="end">-20</text><text x="230.7" y="303.0" text-anchor="end">0</text><text x="289.9" y="305.4" text-anchor="end">20</text><text x="349.1" y="307.8" text-anchor="end">40</text><text x="408.3" y="310.2" text-anchor="end">60</text><text x="493.6" y="216.1">0.7</text><text x="472.9" y="243.8">0.8</text><text x="452.2" y="271.6">0.9</text><text x="431.5" y="299.4">1</text></g><text transform="translate(21.0,183.8) rotate(-90)" text-anchor="middle" font-size="12.8" font-family="Liberation Sans, Arial, Helvetica, sans-serif" fill="#262626">Gain (dB)</text><text x="225" y="317.3" text-anchor="middle" font-size="14" font-family="Liberation Sans, Arial, Helvetica, sans-serif" fill="#262626">Angle (degree)</text><text transform="translate(467.6,305.8) rotate(-52.5)" font-size="14.3" font-family="Liberation Sans, Arial, Helvetica, sans-serif" fill="#262626">Frequency (GHz)</text><text x="266.6" y="339.9" text-anchor="middle" font-family="Liberation Serif, serif" font-weight="bold" font-size="21" fill="#111">(a)</text><line x1="128.7" y1="567.8" x2="128.7" y2="387.0" stroke="#e3e3e3" stroke-width="0.8"/><line x1="187.2" y1="570.1" x2="187.2" y2="389.3" stroke="#e3e3e3" stroke-width="0.8"/><line x1="245.8" y1="572.4" x2="245.8" y2="391.6" stroke="#e3e3e3" stroke-width="0.8"/><line x1="304.4" y1="574.7" x2="304.4" y2="393.9" stroke="#e3e3e3" stroke-width="0.8"/><line x1="362.9" y1="577.0" x2="362.9" y2="396.2" stroke="#e3e3e3" stroke-width="0.8"/><line x1="421.4" y1="579.3" x2="421.4" y2="398.5" stroke="#e3e3e3" stroke-width="0.8"/><line x1="480.0" y1="581.6" x2="480.0" y2="400.8" stroke="#e3e3e3" stroke-width="0.8"/><line x1="128.7" y1="545.0" x2="480.0" y2="558.8" stroke="#e3e3e3" stroke-width="0.8"/><line x1="128.7" y1="513.4" x2="480.0" y2="527.2" stroke="#e3e3e3" stroke-width="0.8"/><line x1="128.7" y1="481.8" x2="480.0" y2="495.6" stroke="#e3e3e3" stroke-width="0.8"/><line x1="128.7" y1="450.2" x2="480.0" y2="464.0" stroke="#e3e3e3" stroke-width="0.8"/><line x1="128.7" y1="418.6" x2="480.0" y2="432.4" stroke="#e3e3e3" stroke-width="0.8"/><line x1="128.7" y1="387.0" x2="480.0" y2="400.8" stroke="#e3e3e3" stroke-width="0.8"/><line x1="128.7" y1="387.0" x2="480.0" y2="400.8" stroke="#e3e3e3" stroke-width="0.8"/><line x1="66.9" y1="627.2" x2="128.7" y2="545.0" stroke="#e3e3e3" stroke-width="0.8"/><line x1="66.9" y1="595.6" x2="128.7" y2="513.4" stroke="#e3e3e3" stroke-width="0.8"/><line x1="66.9" y1="564.0" x2="128.7" y2="481.8" stroke="#e3e3e3" stroke-width="0.8"/><line x1="66.9" y1="532.4" x2="128.7" y2="450.2" stroke="#e3e3e3" stroke-width="0.8"/><line x1="66.9" y1="500.8" x2="128.7" y2="418.6" stroke="#e3e3e3" stroke-width="0.8"/><line x1="66.9" y1="469.2" x2="128.7" y2="387.0" stroke="#e3e3e3" stroke-width="0.8"/><line x1="66.9" y1="469.2" x2="128.7" y2="387.0" stroke="#e3e3e3" stroke-width="0.8"/><line x1="128.7" y1="567.8" x2="128.7" y2="387.0" stroke="#e3e3e3" stroke-width="0.8"/><line x1="108.1" y1="595.2" x2="108.1" y2="414.4" stroke="#e3e3e3" stroke-width="0.8"/><line x1="87.5" y1="622.6" x2="87.5" y2="441.8" stroke="#e3e3e3" stroke-width="0.8"/><line x1="66.9" y1="650.0" x2="66.9" y2="469.2" stroke="#e3e3e3" stroke-width="0.8"/><line x1="66.9" y1="650.0" x2="128.7" y2="567.8" stroke="#e3e3e3" stroke-width="0.8"/><line x1="125.5" y1="652.3" x2="187.2" y2="570.1" stroke="#e3e3e3" stroke-width="0.8"/><line x1="184.0" y1="654.6" x2="245.8" y2="572.4" stroke="#e3e3e3" stroke-width="0.8"/><line x1="242.6" y1="656.9" x2="304.4" y2="574.7" stroke="#e3e3e3" stroke-width="0.8"/><line x1="301.1" y1="659.2" x2="362.9" y2="577.0" stroke="#e3e3e3" stroke-width="0.8"/><line x1="359.6" y1="661.5" x2="421.4" y2="579.3" stroke="#e3e3e3" stroke-width="0.8"/><line x1="418.2" y1="663.8" x2="480.0" y2="581.6" stroke="#e3e3e3" stroke-width="0.8"/><line x1="128.7" y1="567.8" x2="480.0" y2="581.6" stroke="#e3e3e3" stroke-width="0.8"/><line x1="108.1" y1="595.2" x2="459.4" y2="609.0" stroke="#e3e3e3" stroke-width="0.8"/><line x1="87.5" y1="622.6" x2="438.8" y2="636.4" stroke="#e3e3e3" stroke-width="0.8"/><line x1="66.9" y1="650.0" x2="418.2" y2="663.8" stroke="#e3e3e3" stroke-width="0.8"/><g transform="scale(0.25)" fill="url(#lb)" stroke="url(#gb)" stroke-width="4.4" stroke-linejoin="round"><path transform="translate(511,2277)" d="M0 -443l5 -15 2-4 5 1 4 11 7 44 5 0 2-2 7-47 3-6 2-2 2 0 5 10 3 11 4 35 5 0 7-43 2-8 5-6 5 8 2 10 5 39 4-1 7-45 3-8 2-3 2 0 5 11 5 39 2 6 2 0 3-3 4-42 3-8 2-4 2 0 5 13 5 43 5 0 7-49 4-9 5 10 5 40 2 7 2-1 7-48 5-9 5 11 4 45 5 0 7-51 2-6 3 0 4 17 5 39 2 0 3-8 5-41 2-7 2-2 5 15 5 42 2-1 2-5 5-44 2-7 3-1 4 17 5 39 2 0 5-40 5-18 2 1 2 7 5 48 5 0 4-47 3-9 2-2 5 17 4 39 3 0 5-43 4-15 3 3 2 10 5 43 2 0 5-42 4-16 3 2 2 11 5 43 2-1 5-42 4-16 3 4 2 12 5 40 2 0 5-46 2-10 2-2 5 21 2 33 3 1 2 0 2-34 5-24 3 1 2 10 5 44 2 0 5-44 2-11 2-3 5 20 2 34 3 1 2-2 2-35 5-21 2 2 3 11 4 42 3-1 4-49 3-8 2-1 2 9 5 46 2-1 5-46 2-11 3-1 2 6 5 48 2 0 5-45 2-12 3-2 4 22 3 32 2 0 5-44 2-13 2-3 5 22 2 33 3-1 4-44 3-13 2-3 5 23 2 31 2-1 5-45 2-12 3-3 2 6 5 47 2-1 5-47 2-11 2-2 3 7 5 45 2-1 7-60 2-1 3 9 4 41 3-1 2-33 5-29 2 0 2 11 3 28 2 9 2-2 3-39 4-26 3 2 2 13 2 33 3-3 4-49 5-24 2 6 5 50 2-67 3 0 7-64 2-9 5-8 5 4 2 7 9 72 3 0 2 64 2-36 3-15 2-1 5 32 2 38 2 4 5-37 2-8 3 1 7 65 2 2 5-43 2-6 2 3 3 13 4 48 3 2 2-32 2-15 3-5 4 21 3 35 2 8 3-5 2-32 2-12 3-2 4 25 3 35 2 2 5-41 2-11 2 0 3 9 4 51 3 1 4-45 3-8 2 2 7 58 2 1 5-47 2-6 3 2 2 12 5 46 2 0 2-31 5-23 2 4 3 13 5 43 2 1 2-33 3-17 2-5 2 4 3 14 4 42 3 1 2-34 5-21 2 4 2 13 5 43 2 0 3-33 4-22 3 4 2 12 5 44 2 0 2-30 5-24 2 2 3 11 4 45 3 1 4-46 3-8 2 0 3 9 4 49 3 0 4-41 3-11 2-2 5 21 2 34 2 4 3 0 2-34 5-21 2 2 2 11 5 45 2 1 5-44 2-9 3-2 4 22 3 33 2 4 2 0 3-33 4-22 3 1 2 9 5 48 2 0 5-37 5-18 2 3 2 11 5 45 2 0 5-40 5-15 2 3 2 11 5 44 2 1 5-39 5-17 2 3 2 9 5 47 2 0 3-5 2-30 5-20 2 1 2 7 5 45 2 5 3 0 5-43 2-10 2-2 5 13 5 45 2 0 2-2 5-45 2-7 3-1 4 17 5 41 2 1 3-6 4-42 3-7 2-1 5 16 4 42 5 1 5-45 4-11 5 11 5 43 2 5 2 0 8-49 2-6 2 0 5 13 5 44 4 1 7-49 3-5 2-2 5 12 4 39 3 8 2 0 2-5 5-39 5-12 2 1 2 5 3 9 4 43 5 1 7-44 2-8 3-3 2 0 5 11 7 46 5 1 4-37 3-10 4-9 5 5 2 7 7 46 5 1 7-43 2-8 5-5 5 6 2 7 7 45 5 1 2-1 7-46 3-5 4-4 4 8-4 27-3 29-2 5-2 0-10-66-4-10-3-1-2 2-7 25-5 47-5 0-4-52-5-20-5-5-4 7-3 10-7 57-2 0-7-61-2-10-5-6-5 8-2 10-5 50-2 6-2 0-5-54-5-20-2-3-2 1-5 14-5 49-2 10-3 0-4-56-3-12-4-9-5 8-7 67-2-1-7-65-5-12-2 1-3 6-2 12-5 56-2-1-7-66-5-11-2 2-2 7-7 65-3 0-4-58-3-13-2-5-3-1-4 17-5 57-2 0-5-55-2-14-3-7-2-1-5 16-4 58-3 0-4-57-3-13-2-7-2 0-5 19-5 55-2 0-5-63-4-15-3 2-2 9-5 60-2 3-5-54-2-15-3-7-2 0-5 21-4 52-3-10-2-39-5-27-2-1-2 5-3 14-4 55-3-6-4-61-3-9-2-2-5 20-4 54-3-11-4-57-3-9-2 0-5 23-4 50-5-56-5-21-2 1-3 9-4 63-3 0-4-63-3-12-2-3-5 19-4 55-5-53-5-24-2 1-2 9-5 63-2 0-5-66-2-10-3-2-4 23-3 39-2 11-5-60-4-18-3 4-2 14-5 55-4-55-5-23-3 2-2 12-5 59-2-9-2-43-5-26-2 1-3 11-4 61-3-4-2-46-5-28-2 0-2 10-5 62-2-2-5-68-2-9-3 1-2 10-5 62-2-5-2-47-5-28-2 2-3 10-4 60-3-10-2-44-5-25-2 1-3 12-4 58-5-57-5-23-2 3-2 13-5 55-5-61-4-20-3 4-2 16-2 39-3 11-4-65-3-14-2-3-5 24-2 46-2-2-3-43-4-37-3-2-2 7-5 61-2-3-3-51-4-32-3-1-2 9-5 54-7-82-2-10-2 1-5 50-2-64-3 0-9-71-2-7-5-5-5 8-2 9-7 64-2 1-3 85-2-45-5-30-4 20-5 72-3-2-2-42-2-16-3-4-4 21-5 65-5-50-2-14-2-4-5 23-5 60-4-54-3-13-2-2-5 24-4 57-5-58-2-11-3-2-4 27-3 43-2 10-5-59-2-11-2-1-5 27-3 45-2 7-5-60-2-11-2-1-5 27-2 44-3 8-4-60-3-11-2-2-5 25-2 41-2 12-5-58-2-12-3-3-4 22-5 56-5-55-2-14-2-4-5 18-5 60-2-12-2-39-5-23-3 2-2 11-5 65-2 0-5-64-2-9-2-1-5 25-5 52-4-56-5-18-2 4-3 12-4 62-3 0-4-65-3-8-2-1-5 23-4 54-5-53-5-21-2 1-2 9-5 65-3 1-4-57-5-17-2 3-3 10-4 64-3 0-4-59-5-16-2 3-3 10-4 64-3 0-4-57-5-17-2 1-3 9-4 56-3 10-7-67-2-7-2 0-5 19-5 57-2 0-5-60-5-15-2 3-2 8-7 66-7-64-3-9-2-2-5 13-4 56-3 8-7-64-4-11-5 11-7 65-2 0-5-60-5-15-2 1-2 6-3 12-4 58-3 0-7-65-5-11-4 9-7 68-3 0-4-49-3-15-4-11-3 1-2 5-2 11-5 55-2 4-3-3-4-55-3-10-4-7-5 9-2 12-5 55-2 0-3-6-4-51-3-11-5-7-4 6-3 10-7 60-2 0-7-61-2-9-5-6-5 7-2 9-7 60-2 0-3-7-4-47-5-17-5-4-4 7-3 8-7 61-4 0-8-59-4-14-5-2z"/><path transform="translate(507,2282)" d="M0 -424l5 0 7-32 4-6 5 3 2 7 5 26 2 1 7 0 3-4 4-25 5-9 5 4 2 7 5 27 9-1 5-26 2-8 3-3 2 0 5 10 4 27 7 0 3-3 4-28 5-8 5 8 4 30 7 0 3-3 4-29 3-5 2-1 5 10 5 27 7 0 4-29 5-10 5 10 4 28 5 0 2 0 5-30 2-7 3-2 4 12 5 26 5-1 2-4 2-19 5-15 2 1 3 7 4 29 8 0 2-21 5-17 2 0 2 6 5 31 7-1 2-22 5-16 2 1 3 8 4 28 5 0 5-28 2-9 2-2 5 16 2 21 7 0 3-22 4-17 3 2 2 9 5 26 5 0 4-33 3-5 2 1 2 8 5 27 5 0 4-33 3-6 2 2 2 8 5 27 5-1 4-34 3-4 2 2 2 11 3 24 4-1 3-5 2-22 2-10 3-2 2 6 5 31 4-1 8-39 2 2 5 32 2 3 2-1 3-4 2-23 2-10 3-2 7 36 4 0 5-35 2-5 3 4 4 33 5-1 7-39 2 2 3 11 2 23 5-1 7-39 2 1 2 10 3 24 5 0 7-40 2 1 2 10 3 23 4 0 7-39 3 1 2 10 2 24 5-1 7-40 2 1 3 11 2 23 5-2 7-41 2 2 5 33 4-2 5-36 2-6 3 4 5 31 4-3 3-24 2-14 2-4 7 33 5-7 5-37 2-2 2 8 3 23 4-3 7-45 3 0 4 29 5-7 7-50 2 3 5 33 2-48 3 0 7-63 2-9 5-9 2 0 3 3 4 18 7 62 3 0 2 47 5-34 2-1 7 51 5 8 2-22 2-8 3 2 7 45 2 3 7-31 2 4 5 40 5 3 4-30 3-2 2 6 5 36 5 3 2-22 2-11 3 0 4 32 3 10 2 1 7-34 2 3 3 12 2 26 5 2 4-29 3-5 2 4 5 37 4 1 5-32 2-3 3 7 4 34 5 2 2-22 3-12 2-1 7 40 5 1 2-24 3-10 2-1 7 40 2 0 3-2 2-23 2-9 3 0 4 31 3 8 2 1 2-3 5-32 2 0 5 31 2 8 3 1 2-1 5-33 2-1 7 39 5 1 2-23 2-11 3-2 7 40 5 1 4-33 3-4 2 5 5 35 4 1 7-36 3 2 2 10 2 22 3 5 2 1 2-1 3-23 2-10 2-2 3 6 4 33 5 1 7-36 2 1 3 10 4 28 5 1 3-21 2-12 2-4 5 16 2 23 5 1 2-2 3-22 2-10 2-2 5 17 2 22 5 1 2-4 3-21 2-9 2-3 5 17 2 22 7 1 3-22 4-14 3 3 7 36 4 1 8-37 2 1 2 6 5 32 5 1 2-4 2-20 5-13 5 11 4 28 5 1 5-26 4-11 5 12 5 27 4 1 3-6 2-18 5-13 2 2 2 7 5 30 7 1 5-30 2-6 3-1 4 14 5 25 7 1 5-31 2-5 2-1 5 13 5 26 7 1 4-29 5-8 5 8 4 31 10 0 4-29 5-7 5 8 5 29 2 2 7 1 5-26 4-11 3 0 2 4 2 7 5 28 9 1 7-32 5-5 5 6 7 33 9 1 7-31 5-6 5 3 4 15 4-23-4 3-3 6-7 45-2 1-5 0-7-45-2-8-5-5-4 5-3 8-7 42-5 0-7-46-2-8-5-4-4 8-3 11-4 36-5 0-7-46-5-12-2 0-2 4-3 7-7 44-4 0-5-43-2-10-3-4-2-1-5 11-5 40-2 4-2 0-3-8-4-39-5-11-2 1-3 6-7 48-4 0-5-45-5-13-2 1-2 6-7 48-3 0-2-5-5-43-4-10-5 10-5 46-4-1-5-43-5-15-2 1-3 7-4 41-3 6-2 0-5-42-4-16-3 1-2 7-5 45-2 2-2 0-5-45-5-14-2 3-2 9-5 44-2 0-3-6-4-45-3-7-2 0-5 20-2 29-2 5-3 0-5-46-2-10-2-2-5 16-5 39-2 0-5-45-2-10-2-4-5 16-5 40-2-1-5-45-2-10-2-3-5 17-5 38-2 0-5-48-2-9-2-2-5 23-2 33-3-1-2-4-2-33-5-21-3 1-2 10-5 43-2 0-5-45-2-11-2-3-5 21-2 35-3-1-2-4-2-33-5-22-2 2-3 12-4 41-3-1-4-49-3-8-2 0-2 8-5 46-2-1-5-46-2-11-3-2-4 25-3 30-2-1-5-43-2-13-3-3-4 22-3 33-2-1-5-42-2-14-2-3-5 20-2 34-3 0-4-43-3-13-2-4-2 5-3 16-2 33-2 0-5-44-2-13-3-3-4 23-3 31-2-1-5-45-2-12-2-3-3 7-4 47-3-1-7-59-2-1-3 8-4 44-3-1-4-50-3-9-2 0-2 10-5 41-2-1-3-35-4-26-3 2-2 13-2 32-3 4-2-7-2-35-5-21-2 4-3 16-2 32-2-2-5-48-2-13-3-4-2 7-5 43-2-3-7-64-3-2-2 9-5 36-2-3-2-39-5-31-2 1-3 15-2 36-2-65-3 0-9-72-2-7-5-4-5 8-2 10-7 64-2 0-3 66-4-50-3-5-4 23-5 49-3 4-2-34-2-12-3-2-4 25-3 39-2 3-2-9-3-28-2-11-2-1-5 29-2 33-3 2-4-42-3-9-2 1-7 60-2 2-5-45-2-8-3 2-2 12-5 47-2 1-5-47-2-7-2 3-3 13-5 45-2 1-2-32-5-22-2 3-3 13-4 43-3 1-2-32-5-22-2 3-2 13-5 43-2 1-3-32-4-23-3 3-2 12-5 44-2 1-5-48-2-7-2 2-3 10-4 47-3 0-4-46-3-8-2 0-3 9-4 49-3 0-4-42-3-11-2-2-5 22-2 34-2 3-3-2-2-33-5-21-2 3-2 11-5 45-2 0-5-45-2-9-3-1-4 23-3 34-2 1-2-2-3-33-4-20-3 1-2 10-5 46-2 1-5-41-2-12-3-3-4 15-5 43-2 0-5-43-2-10-3-3-4 17-5 41-2 1-5-43-2-11-3-2-4 15-5 42-2 1-5-40-5-16-2 2-2 9-5 46-5 1-4-48-3-7-2-1-5 18-5 39-2 0-5-39-4-17-3 2-2 7-5 43-2 6-2 0-5-41-5-15-2 1-2 7-5 42-2 7-3 1-4-39-5-17-2 0-3 5-7 52-4 0-5-45-5-11-5 8-7 49-2 0-2-7-5-39-5-10-4 8-7 49-5 0-5-42-4-14-3 0-2 4-2 9-5 41-2 3-3 0-2-5-5-39-4-12-3 0-2 4-3 8-7 45-4 0-5-38-2-11-5-7-5 5-2 8-7 44-5 0-4-36-3-11-4-9-3-1-2 3-2 5-7 47-3 2-4 0-7-44-5-11-5 0-2 3-5 16z"/><path transform="translate(502,2288)" d="M0 -449l7 72 7-67 5-22 4-8 5 3 5 14 7 71 2 2 5-58 5-24 4-9 14 10 141-4 117-9 70-8 59-10 47-11 46-15 36-16 23-15 25-23 18-29 7 0 1-10 3 0 1-6 7-61 3-11 4-4 4 4 3 12 7 61 1 7 3 0 1 9 7 1 14 24 20 23 23 20 24 14 46 22 47 16 59 16 82 17 105 17 117 14 150 14 2-4 8 34 4 86 4-100-4-15-5-4-5 7-7 30-9-1-7-32-5-7-5 6-7 31-9-1-5-28-2-7-2-3-3 0-4 10-5 26-7 0-2-3-5-28-5-9-4 7-5 29-9 0-5-30-5-8-5 8-4 28-7 0-5-26-5-13-2 0-2 6-5 30-7 0-5-26-4-13-3 1-2 6-5 30-7-1-4-30-3-8-2-1-5 12-2 19-2 5-5 0-5-27-5-12-4 11-5 25-5 0-4-28-5-12-5 14-2 20-2 3-5-1-5-31-2-7-2 0-7 36-5-1-7-36-2-3-5 14-2 23-8-1-2-23-5-16-2 2-2 10-3 21-2 3-5-1-2-21-5-18-2 3-2 10-3 21-2 3-5-1-2-24-5-15-2 3-2 12-3 21-4 0-5-29-2-9-3-2-7 36-4 0-5-34-3-6-2 2-2 10-3 24-2 0-2 0-3-5-2-23-2-10-3-2-7 36-4-1-5-35-2-4-3 4-4 32-5-1-7-39-2 2-3 11-2 23-5-1-7-39-2 0-5 33-2 2-2-1-3-9-5-30-2 0-5 32-2 3-2-1-3-9-4-30-3 0-2 9-2 23-3 2-2-1-7-39-2 0-3 10-2 25-5-2-7-40-2 2-2 11-3 22-4-1-5-35-2-6-3 3-4 32-5-2-5-36-2-5-3 5-4 30-5-2-2-27-3-12-2-2-7 33-2-1-3-9-4-32-3 0-2 10-2 23-5-3-5-36-2-7-2 3-5 30-5-4-4-39-3-5-7 31-2-2-7-46-3-2-2 8-2 22-5-7-7-51-2 1-5 34-2-48-3 0-7-61-4-18-3-3-2-1-5 9-2 10-7 63-2 0-3 47-4-32-3-4-7 50-5 7-4-28-3 0-7 45-4 2-3-22-2-8-2 2-5 37-5 7-7-33-2 3-2 14-3 25-4 2-5-30-2-4-3 5-4 36-5 2-5-32-2-2-7 40-5 2-2-23-3-11-2-1-7 40-5 2-2-25-2-10-3 0-7 39-4 0-3-24-2-10-2 0-7 39-5 1-2-24-3-11-2-1-7 40-5 1-2-23-2-12-3-2-7 40-5 0-4-32-3-4-2 4-5 35-4 1-7-36-3 1-2 11-2 23-3 4-2 0-2-2-5-33-2-1-7 39-5 0-5-31-2-5-2 2-3 10-2 22-2 5-5 0-3-23-2-11-2-3-3 5-4 34-5 0-5-26-2-9-2-1-3 6-4 32-5 1-5-28-2-8-2-1-3 6-4 32-5 1-5-26-2-9-2-2-5 16-2 22-7 1-3-22-4-15-3 2-2 9-5 27-5 1-4-28-3-8-2-1-5 16-2 22-7 0-5-30-2-6-2-1-5 18-2 20-7 1-5-30-2-6-3-1-4 14-3 20-2 4-5 0-4-25-5-12-3 2-2 6-5 30-2 0-5 0-4-28-5-9-5 10-4 28-7 1-5-27-5-11-2 1-2 6-5 29-2 2-7 1-5-30-5-8-4 8-5 28-3 2-7 0-4-27-5-10-2 0-3 4-2 7-5 27-9 0-5-27-2-7-5-3-4 8-5 25-2 5-7 0-3-2-4-26-3-6-4-4-5 7-7 31-5 0z"/><path transform="translate(498,2293)" d="M0 -474l5 10 4 24 5 55 2 1 7-71 5-16 5-3 4 7 3 9 7 73 2 0 5-59 5-24 11 3 106-3 82-4 82-6 105-15 47-10 35-10 47-18 35-21 25-24 18-29 7 0 2-10 2 0 1-5 7-62 4-11 3-4 4 4 3 12 7 63 1 5 3 0 1 9 7 1 19 31 26 27 36 23 46 22 47 16 47 13 117 24 164 23 185 17 5 74 2 104 3-98 4-58 4 90-4-86-7-35-3 4-150-14-117-14-105-17-82-17-59-16-46-16-47-21-24-15-23-19-20-23-14-24-7-1-1-10-3 0-1-6-7-62-3-11-4-4-3 3-4 11-7 61-1 7-2 0-2 9-7 0-18 30-25 23-23 15-36 16-46 15-47 11-59 9-70 9-117 8-141 5-14-10-4 8-5 24-5 58-2-1-7-71-5-15-4-3-5 8-5 22-7 68-7-72z"/><path transform="translate(494,2299)" d="M0 -467l2 -5 5-2 5 7 2 9 9 80 7-76 7-20 3-1 2 3 5 15 7 75 2-8 3-35 11-40 152-5 129-9 106-16 47-11 35-11 35-14 35-21 25-23 19-29 7-1 1-10 2 0 1-3 7-64 4-11 3-4 4 4 3 12 7 64 2 4 2 0 1 9 6 0 20 33 26 26 36 24 46 21 47 17 47 13 117 23 164 23 185 17 2 62 5-47 7-22 4 23-4 58-3 99-2-105-5-73-185-18-164-22-117-24-47-13-46-16-47-22-35-23-27-27-19-31-7-1-1-10-2 0-2-5-7-63-3-11-4-4-3 3-4 12-7 62-1 5-2 0-1 9-7 1-19 29-25 23-35 21-47 18-35 10-47 10-105 15-82 7-82 4-106 3-11-3-5 24-5 58-2 0-7-72-2-9-5-8-5 4-4 16-7 70-3 0-5-55-4-24-5-10z"/><path transform="translate(490,2304)" d="M0 -419l7 -46 2-6 5-4 5 7 4 20 7 72 7-77 3-11 4-11 3 0 2 3 3 6 7 52 11-51 164-5 129-10 59-8 58-12 47-12 35-13 24-11 23-15 25-24 20-31 7 1 1-10 2-1 6-59 4-15 5-7 4 7 4 15 6 60 2 2 1 9 7 0 20 33 26 27 36 23 46 22 47 16 59 16 129 24 140 18 187 18 3-6 5-3 4 6 4-10-7 22-4 48-3-63-185-17-164-22-117-24-47-13-46-16-47-22-35-23-27-27-20-32-6 0-1-10-2 0-1-3-8-65-3-11-4-4-3 3-4 12-7 64-1 3-2 0-1 9-7 1-19 29-25 24-35 21-35 14-35 11-47 10-106 16-128 10-153 4-11 41-3 35-2 8-7-76-5-15-2-2-2 0-7 21-7 75-10-80-2-8-5-8-5 2-2 5z"/><path transform="translate(486,2310)" d="M0 -426l5 49 7-75 4-18 3-4 2-1 2 1 7 24 7 75 7-79 3-11 5-10 2 0 2 3 3 7 140-3 129-8 70-8 59-10 47-11 46-15 36-16 23-15 26-25 19-30 7 1 1-10 3 0 7-66 3-12 4-4 3 4 4 12 7 68 2 0 1 9 7 0 20 33 26 27 24 16 35 19 47 19 58 17 59 14 82 14 140 19 153 14 44 4 2-9 8 18 4 37 4-53-4-7-5 4-2 6-188-18-140-18-129-25-59-16-46-16-47-22-35-23-27-27-20-32-7 0-1-10-2-1-6-60-4-15-4-7-5 6-4 15-5 59-3 2-1 9-7 0-20 31-25 23-23 15-24 11-35 13-47 13-58 11-59 8-129 10-164 5-11 52-7-53-3-6-2-2-2 0-5 10-2 11-7 78-7-73-5-20-5-6-5 4-2 6-7 46z"/><path transform="translate(482,2315)" d="M0 -470l7 37 5 58 4-55 5-31 5-13 2-2 2 2 3 4 4 20 7 74 8-80 2-11 5-8 11 10 141-4 117-7 58-6 59-10 47-10 47-13 35-14 35-21 27-25 18-31 7 1 1-10 3 0 7-66 3-12 4-4 3 4 4 13 7 67 2 0 1 9 7 0 19 32 27 28 24 17 35 18 47 19 47 14 47 12 70 14 164 22 208 19 7 57 3 64 4-69 4-10-4-37-7-19-3 9-44-3-152-15-141-18-82-15-58-13-59-18-47-18-35-19-23-17-27-26-20-33-7 0-1-10-2 0-7-67-4-12-3-4-4 4-3 11-7 67-3 0-1 9-7 0-19 30-26 25-23 15-36 16-46 14-47 11-59 10-70 8-129 8-140 3-3-6-2-3-2 0-5 9-2 11-7 80-7-75-7-24-3-2-2 1-2 5-5 18-7 74-5-48z"/><path transform="translate(478,2321)" d="M0 -474l2 -2 3 1 2 4 5 17 7 76 9-83 5-13 2-2 2 2 5 12 2 13 8 69 7-79 11-7 152-3 129-9 94-13 47-10 35-10 47-18 35-21 27-25 18-30 7 0 2-10 2 0 7-66 3-12 4-4 4 4 3 13 7 67 2 0 2 9 7 1 18 32 27 27 36 24 46 22 47 16 59 16 105 20 164 21 185 16 2 160 5-118 7-43 4 47-4 70-3-65-7-56-208-19-164-23-70-13-47-12-47-15-47-18-35-19-23-16-28-28-18-32-7 0-2-10-2 0-7-67-4-12-3-4-4 4-3 12-7 66-2 0-2 9-7 0-18 30-27 25-35 21-35 14-47 14-47 10-58 9-59 7-117 7-141 3-11-10-5 9-2 11-7 80-7-74-5-21-2-4-3-1-2 2-5 12-4 31-5 55-5-58-7-36z"/><path transform="translate(474,2326)" d="M0 -447l7 -27 2-2 3 0 2 3 7 32 5 61 7-68 4-22 5-6 5 7 5 23 4 62 3-5 11-77 152-3 129-8 59-8 58-10 47-12 35-12 36-15 23-15 27-26 19-30 7 0 1-10 2 0 7-65 4-13 3-4 4 5 3 12 7 67 3 0 1 9 7 1 18 32 27 27 36 24 46 22 47 16 59 16 105 20 164 21 185 15 2 17 5-20 3-4 2-2 2 2 4 1-7 43-4 118-3-160-185-16-164-21-105-20-59-16-46-16-47-22-35-23-28-28-18-32-7 0-1-10-3 0-7-67-3-12-4-4-3 4-4 12-7 66-2 0-1 9-7 0-19 31-27 25-35 21-47 18-35 9-47 10-94 14-128 8-153 4-11 7-7 79-7-69-3-13-4-13-3-1-2 1-5 14-9 83-7-77-5-17-2-3-3-1-2 1z"/><path transform="translate(469,2331)" d="M0 -386l2 0 7-72 3-9 4-9 3 0 2 3 5 16 7 78 7-70 4-22 5-5 5 8 5 27 11-25 176-4 82-5 47-5 58-8 59-12 47-14 35-14 23-13 24-17 20-22 14-25 7 0 1-10 2 0 7-65 4-13 3-4 4 5 3 12 7 67 3 0 1 9 7 1 19 32 26 28 36 23 35 17 58 22 59 16 129 22 140 17 157 14 28 1 2-8 3-1 5 7 4 21 4-31-2-1-2 1-3 4-4 20-3-16-185-16-164-21-105-19-59-16-46-17-47-21-35-24-27-28-19-31-7-1-1-10-3 0-7-66-3-13-4-4-3 4-4 12-7 66-2 0-1 9-7 1-19 30-27 25-23 15-36 16-35 12-46 11-59 11-59 7-128 9-153 3-11 76-3 5-4-61-5-24-5-6-4 6-5 22-7 68-5-61-7-32-2-3-3 0-2 2-7 27z"/><path transform="translate(465,2337)" d="M0 -460l9 81 7-77 5-17 2-3 3 0 2 3 7 32 5 65 7-76 2-13 5-11 2 0 3 3 11 7 141-2 117-7 58-6 59-9 47-10 47-14 35-14 35-20 27-26 20-31 6 0 1-10 2 0 7-65 4-13 3-4 4 5 3 13 8 66 2 0 1 9 6 0 20 34 26 27 36 24 46 22 47 16 59 16 105 19 82 11 94 10 140 12 33 2 2-2 8 47 4 93 4-124-4-21-5-7-2 1-3 8-28-2-157-13-140-17-129-23-59-16-58-21-35-17-35-24-27-27-19-32-7-1-1-10-3 0-7-66-3-13-4-4-3 4-4 12-7 66-2 0-1 9-7 1-14 24-20 22-24 18-23 12-35 15-47 13-59 12-58 9-47 5-82 5-176 4-11 24-5-27-5-8-4 6-5 21-7 70-7-78-5-16-2-3-2 1-5 8-3 10-7 71-2 1z"/><path transform="translate(461,2342)" d="M0 -477l5 6 4 21 7 74 7-80 5-17 2-3 3 0 2 3 7 35 5 64 5-64 7-36 11 8 24 0 128-3 106-5 47-5 58-9 47-9 47-12 35-13 35-18 24-17 15-17 11-14 9-17 6 0 1-10 3 0 5-58 4-16 5-8 3 5 4 13 7 66 2 0 1 9 6 0 20 34 26 27 36 24 46 22 47 16 59 16 105 19 164 20 185 14 5 108 2 3 3-59 4-41 4 123-4-93-7-47-3 1-33-2-140-11-94-10-82-11-105-20-59-16-46-16-47-22-35-24-27-27-20-33-6 0-1-10-2 0-7-66-4-13-3-4-4 4-3 13-7 65-3 0-1 9-6 0-20 32-27 25-35 21-35 14-47 14-47 9-58 10-59 6-117 6-141 2-11-6-3-4-2 1-5 11-2 12-7 76-5-64-7-33-2-3-2 0-3 4-4 16-8 77-9-81z"/><path transform="translate(457,2348)" d="M0 -464l2 -7 5-6 5 5 2 8 5 31 4 57 7-80 5-18 2-3 3 1 2 3 5 20 7 75 5-66 11-22 152-2 129-8 106-15 47-11 35-11 35-14 35-20 27-26 20-32 6 0 1-10 3 0 7-64 3-14 4-3 3 4 4 13 7 66 2 0 1 9 6 0 11 21 11 16 24 24 24 17 35 19 35 15 47 15 47 13 117 20 152 18 185 14 2 47 5-39 3-9 4-8 4 15-4 41-3 58-2-2-5-108-185-14-164-20-105-19-59-16-46-17-47-22-35-23-27-27-20-34-6 0-1-10-2 0-7-66-4-13-3-4-5 7-3 17-6 58-3 0-1 9-6 0-9 17-11 15-15 16-24 18-35 18-35 12-47 13-47 9-58 9-47 4-105 6-129 2-24 0-11-7-7 36-5 64-5-64-7-36-2-3-2 0-3 3-4 18-7 79-8-74-4-20-5-7z"/><path transform="translate(453,2353)" d="M0 -397l5 -52 4-22 5-6 5 5 4 20 7 75 5-65 5-27 4-8 5 6 5 23 5 64 11-83 152-1 129-7 59-8 58-10 47-12 47-16 35-18 24-17 20-23 15-26 6 0 2-10 2 0 1-7 6-57 3-13 4-4 3 4 4 13 7 66 2 0 1 9 6 0 10 19 10 16 15 16 23 20 35 21 35 15 47 17 59 16 93 17 129 16 164 14 68 4 7-9 5 5 2 8 4-17-4 7-3 9-4 39-3-47-185-14-152-17-117-21-47-12-47-16-35-14-35-19-23-17-24-24-12-17-11-20-6 0-1-10-2 0-7-65-4-14-3-4-4 4-3 13-7 65-3 0-1 9-6 0-19 32-28 26-35 21-35 14-35 10-47 11-106 16-128 7-153 2-11 22-5 67-7-75-5-20-2-4-2 0-3 3-4 17-7 81-5-57-5-32-2-7-5-6-5 6-2 8z"/><path transform="translate(449,2359)" d="M0 -444l5 60 2-7 7-71 5-14 2-2 2 2 5 12 2 13 7 69 5-64 5-25 5-6 4 8 3 10 11-8 141-1 129-6 58-7 59-10 47-10 46-15 36-16 23-14 28-26 10-15 10-18 7 0 3-16 6-58 4-13 3-4 4 4 3 14 6 58 3 16 7 1 15 26 20 24 23 20 35 21 47 20 59 19 47 12 81 14 129 16 141 12 91 6 2-9 8 26 4 58 4-77-2-7-5-5-7 9-68-5-164-13-128-17-94-17-59-16-46-16-36-16-35-21-23-19-15-17-10-15-10-19-5 0-2-10-2 0-7-65-3-14-4-4-3 4-4 13-6 57-1 8-2 0-2 9-5 0-16 27-20 22-24 18-35 17-47 17-46 11-59 11-59 7-128 7-153 2-11 83-5-65-5-23-4-5-5 8-5 27-4 65-7-76-5-20-5-5-5 7-4 21-5 53z"/><path transform="translate(445,2364)" d="M0 -476l7 30 5 59 2-1 7-74 5-14 2-2 2 2 3 5 4 23 5 63 2-6 5-60 3-14 4-12 3 0 11 10 141-1 117-5 47-4 58-9 47-9 47-13 47-18 35-20 28-26 10-15 10-18 7 0 3-14 6-60 4-13 3-4 4 4 3 14 6 60 4 14 7 1 18 33 27 28 36 24 35 17 47 18 46 13 36 9 70 12 82 11 82 9 208 15 5 40 5 112 4-121 4 40-4-59-7-25-3 8-91-6-141-12-128-16-82-14-47-11-59-19-47-20-35-22-23-19-20-25-14-26-7 0-4-16-6-59-3-14-4-4-3 4-4 14-6 58-3 15-7 0-10 18-10 15-28 26-23 15-36 15-46 15-47 11-59 10-58 6-129 7-141 1-11 8-3-11-4-8-5 7-5 25-4 64-7-69-3-14-4-12-3-1-2 2-5 14-7 71-2 7-5-60z"/><path transform="translate(441,2370)" d="M0 -474l2 -4 3 0 2 2 5 14 7 76 2-3 7-74 5-14 2-1 2 2 5 16 2 17 5 68 5-63 5-30 46 1 106-1 140-6 106-16 47-11 35-10 35-14 35-20 28-27 11-15 9-18 7 0 1-10 2-3 6-60 4-14 3-4 4 4 3 14 6 61 3 4 1 9 7 1 18 33 27 28 36 24 46 22 47 17 59 16 93 16 164 19 197 13 2 141 5-112 7-34 4 32-4 121-5-112-5-40-208-15-82-9-82-11-70-13-35-8-47-14-47-17-35-17-35-24-28-29-18-33-7 0-4-15-6-60-3-14-4-4-3 4-4 14-6 59-3 14-7 1-9 18-11 14-28 27-35 20-47 18-47 12-47 10-58 8-47 5-117 5-141 0-11-9-3 0-4 12-3 14-4 59-3 7-4-63-5-24-2-5-3-1-2 2-5 14-7 73-2 2-5-60-7-29z"/><path transform="translate(437,2375)" d="M0 -436l7 -38 2-4 3-1 2 2 7 31 5 64 7-70 4-21 3-4 2-1 5 10 2 12 7 78 3-42 11-47 152-1 129-6 59-7 58-11 47-11 35-12 36-16 23-14 28-26 11-15 9-18 7-1 1-10 2 1 6-64 4-14 3-4 4 4 4 14 5 63 3 2 1 9 7 2 9 18 12 18 24 25 24 17 35 19 35 14 47 16 47 12 70 13 70 10 141 14 173 11 2 10 5-16 3-3 4 4 4-5-7 33-4 112-3-140-196-14-164-18-94-17-59-16-46-16-47-22-35-24-27-28-19-33-7-1-1-10-3-3-6-61-3-14-4-5-3 4-4 14-5 61-3 3-1 9-7 1-9 18-11 15-28 26-35 20-35 14-35 11-47 11-106 15-140 7-105 1-47-2-5 31-5 63-4-69-3-16-4-16-3-2-2 1-5 13-7 74-2 3-7-75-5-15-2-2-3 1-2 3z"/><path transform="translate(432,2381)" d="M0 -414l2 37 7-77 5-20 5-5 4 9 5 26 5 68 7-80 2-12 5-10 2 1 3 4 2 9 5 41 11-45 152 0 129-5 59-8 58-11 47-11 47-16 35-18 24-17 21-23 16-28 6 0 1-10 3 0 6-63 3-14 4-4 3 4 4 15 6 63 2 1 1 9 6 0 20 35 26 28 36 24 35 17 58 21 59 16 117 20 129 14 152 10 56 3 2-9 3 1 5 10 4 30 4-42-4-3-3 2-4 17-3-11-173-11-141-14-70-10-70-12-47-13-47-15-35-15-35-19-23-17-25-25-12-17-9-19-7-1-1-10-3-2-5-62-4-14-3-5-4 4-3 14-6 64-3 0-1 9-7 1-9 18-11 15-28 26-23 15-36 16-35 11-46 12-59 10-59 8-128 6-153 0-11 47-3 43-7-78-2-12-5-10-2 0-2 4-5 22-7 69-5-64-7-30-2-2-3 1-2 4-7 38z"/><path transform="translate(428,2386)" d="M0 -470l5 27 4 66 5-57 5-33 4-11 3-1 2 3 5 18 2 19 5 64 4-68 5-28 5-7 5 8 11 2 141 1 129-5 46-5 59-10 47-9 47-14 35-14 35-20 28-27 11-15 11-19 5 0 2-10 2 1 6-64 3-14 4-4 3 4 4 15 6 64 2 0 1 9 6 0 20 35 26 28 24 17 35 19 47 19 47 15 35 9 70 12 82 11 94 9 208 14 2 1 3 12 5 55 2 119 2-114 4-46-4-30-5-11-2 0-3 9-56-3-152-11-129-14-117-19-59-16-58-21-35-18-35-24-27-28-20-34-6 0-1-10-2 0-6-64-4-14-3-5-4 4-3 15-6 63-2 0-2 9-6 0-16 28-21 24-24 17-35 17-47 17-46 11-59 10-59 8-128 6-153 0-11 44-5-40-2-9-3-5-2 0-5 10-2 12-7 79-5-67-4-27-5-8-5 5-5 20-7 77-2-37z"/><path transform="translate(424,2392)" d="M0 -480l2 0 3 3 4 17 7 84 7-80 3-12 4-11 3 1 2 3 2 8 5 36 2 39 3 6 5-65 2-15 5-12 11 10 141 1 117-4 35-3 70-10 47-9 47-13 35-12 35-18 24-17 17-17 10-15 11-20 5 0 2-10 2 1 6-63 3-15 4-4 3 4 4 15 6 64 2 0 1 9 6 0 10 19 10 17 15 17 23 19 35 22 35 15 47 17 59 16 93 16 164 17 197 12 5 189 2-118 3-37 4-31 4 66-2 113-2-118-5-55-2-12-3-2-208-13-94-9-82-11-70-13-35-9-47-15-47-18-35-19-23-17-27-28-20-35-6 0-1-10-2 0-6-64-4-14-3-5-4 4-3 15-6 63-2 0-2 9-5 0-11 20-10 15-29 26-35 21-35 14-47 13-47 10-58 9-47 5-129 5-141 0-11-2-5-9-5 8-4 27-5 69-5-64-2-19-5-18-2-3-2 0-5 12-5 32-5 57-4-65-5-27z"/><path transform="translate(420,2397)" d="M0 -459l2 -11 5-10 2 0 3 3 2 7 5 30 4 65 7-85 5-17 2-2 3 1 4 15 3 16 5 71 7-83 11-9 152 1 129-5 106-16 47-11 35-10 35-14 35-20 12-9 18-19 10-16 10-18 6 0 1-10 2 1 6-63 4-15 3-4 4 4 3 15 6 64 2 0 1 9 6 0 11 22 12 17 23 25 24 17 35 19 35 14 47 16 47 12 105 17 164 17 185 10 2 35 5-32 3-7 2-4 2 0 4 6-4 32-3 37-2 118-5-189-196-12-164-18-94-15-59-17-46-16-36-16-35-21-23-20-15-17-10-16-10-19-6 0-1-10-2 0-6-63-3-15-4-5-4 5-3 14-6 63-2 0-1 9-6 0-11 20-10 15-17 18-24 17-35 17-35 13-47 12-47 9-70 10-35 3-117 4-141 0-11-10-5 12-2 14-5 66-2-7-3-38-4-36-3-8-2-4-2 0-5 10-2 12-7 81-8-84-4-17-3-3-2 0z"/><path transform="translate(416,2403)" d="M0 -376l7 -83 2-11 5-10 2 0 3 4 4 20 7 77 7-84 5-15 2-1 3 3 5 19 7 76 11-87 152 1 129-5 71-9 58-12 47-12 47-18 23-12 24-17 22-24 16-29 6 0 1-10 2 1 6-63 4-15 3-4 4 4 3 16 6 63 2 0 2 9 5 0 10 20 10 16 15 17 23 20 35 21 35 16 47 17 59 16 58 10 71 9 140 14 155 9 30 1 5-9 2 0 5 9 2 11 4-25-2 1-2 3-3 7-4 33-3-35-185-11-164-16-105-17-47-13-47-15-35-15-35-19-23-17-24-24-12-18-11-21-5 0-2-10-2 0-6-63-3-15-4-5-3 5-4 14-6 63-2 0-1 9-6 0-9 19-11 15-18 19-12 9-35 21-35 13-35 11-47 10-106 16-128 5-153-1-11 10-7 83-5-71-2-16-5-15-2-2-3 3-4 17-7 85-5-66-5-29-2-7-3-3-2 0-5 10-2 11z"/><path transform="translate(412,2408)" d="M0 -458l7 83 7-85 2-11 5-9 2 1 3 4 4 23 5 65 2-5 5-62 2-14 5-11 3 1 2 4 5 26 11-21 152 2 129-5 106-15 47-11 35-10 35-14 23-13 24-17 20-22 18-31 6 0 1-10 2 1 6-63 4-15 3-4 4 4 3 16 6 63 3 0 1 9 6 1 9 19 13 20 23 24 24 17 35 19 35 15 47 15 47 13 58 10 71 9 117 12 129 8 79 3 2-6 8 34 4 118 4-140-2-10-5-10-2 1-5 8-30-1-155-9-140-13-71-10-58-10-59-16-46-16-36-16-35-22-23-19-15-17-10-16-9-20-6 0-1-10-3 0-6-63-3-15-4-5-3 5-4 15-6 62-2 0-1 9-6 0-16 30-22 23-24 17-23 13-47 18-47 12-58 11-71 9-128 5-153-1-11 88-7-77-5-19-2-3-3 2-4 14-7 85-7-78-5-20-2-3-3 0-5 10-2 11-7 83z"/><path transform="translate(408,2414)" d="M0 -481l5 11 2 13 7 80 7-85 5-16 2-2 2 1 3 6 4 27 5 72 7-87 3-11 4-7 14 10 141 2 129-4 46-5 59-9 47-10 35-9 35-13 35-17 24-17 18-19 11-16 9-19 6 0 1-10 3 1 5-62 4-16 3-4 4 5 3 15 6 63 3 0 1 9 6 1 9 20 11 16 14 16 23 20 35 22 35 16 47 16 59 16 93 15 164 16 197 11 5 56 2 82 7-121 4 123-4-117-7-35-3 7-79-4-129-8-117-11-71-9-58-11-47-12-47-16-35-14-35-19-23-17-24-25-13-19-9-20-6 0-1-10-3 0-6-63-3-15-4-5-3 5-4 15-5 62-3 0-1 9-6 1-17 31-21 22-24 17-23 12-35 14-35 11-47 10-106 16-128 4-153-1-11 20-5-25-2-5-3 0-4 11-3 13-4 62-3 5-4-65-5-22-2-5-3 0-4 9-3 11-7 84-7-82z"/><path transform="translate(404,2419)" d="M0 -472l2 -7 3-2 2 0 5 12 9 86 2-42 5-41 5-13 2-1 2 3 5 20 7 73 5-68 5-23 11 6 71 2 117 0 93-4 106-16 47-10 35-11 35-13 23-13 24-17 21-22 17-31 6-1 1-10 3 1 6-62 3-16 4-4 3 5 4 16 5 62 3 0 1 9 6 1 9 20 13 19 23 24 24 18 35 19 35 14 47 16 47 13 105 16 164 15 185 9 2 93 5-75 3-13 4-13 4 21-7 120-2-82-5-56-196-10-164-16-94-15-59-16-46-17-36-16-35-21-23-20-14-16-11-17-9-19-6-1-1-10-3 0-5-62-4-16-3-5-4 5-3 15-6 62-3 0-1 9-6 1-9 19-11 15-18 19-24 17-35 18-35 12-35 10-47 10-58 9-47 5-129 3-141-1-14-11-4 8-3 11-7 86-4-71-5-27-2-6-3-2-2 2-5 16-7 86-7-81-2-12-5-11z"/><path transform="translate(399,2425)" d="M0 -419l5 -44 2-10 5-8 4 5 5 24 5 67 9-84 5-11 2 1 2 4 5 26 5 74 5-67 11-27 152 2 129-4 59-7 58-11 47-11 47-16 35-17 24-17 22-24 16-30 7-1 1-9 2 0 6-62 3-16 4-4 3 5 4 16 6 62 2 9 7 2 9 19 13 20 23 24 24 17 35 19 35 15 47 15 47 13 117 17 152 14 185 8 2 6 3-9 5-6 4 8 4-11-4 12-3 14-4 74-3-92-185-10-164-15-105-16-47-12-47-16-35-15-35-19-23-17-24-24-13-19-9-20-6-1-1-10-2 0-6-62-4-16-3-5-4 5-3 15-6 62-3 0-1 9-6 1-17 31-21 23-24 17-23 12-35 14-35 10-47 11-106 16-93 3-117 0-71-1-11-7-5 23-5 69-7-74-4-20-3-3-2 1-5 14-4 40-3 42-9-85-5-12-2-1-3 3-2 6z"/><path transform="translate(395,2430)" d="M0 -437l5 57 7-85 4-15 3-1 2 1 5 17 2 17 5 72 7-88 2-11 5-7 5 9 2 13 5 63 11-74 152 2 129-3 59-8 58-10 47-12 35-11 36-15 35-24 22-24 18-31 6 0 3-19 5-51 3-17 4-4 3 5 4 16 5 52 3 19 6 0 20 36 26 29 24 17 35 19 47 19 70 21 35 7 70 10 129 13 153 9 79 3 2-10 5 8 3 10 4 44 4-58-4-8-5 6-2 9-3-6-185-9-152-13-117-18-47-12-47-16-35-14-35-20-23-17-24-24-13-19-9-20-7-1-2-10-6-62-4-16-3-5-4 5-3 16-6 61-1 0-1 9-7 1-17 30-22 24-24 17-35 18-47 16-46 11-59 10-59 8-128 4-153-3-11 27-5 67-5-73-4-26-3-5-2-1-5 11-9 85-5-67-4-24-5-6-5 8-2 11-5 44z"/><path transform="translate(391,2436)" d="M0 -478l5 22 4 60 3 10 2-42 5-39 4-14 3 0 2 3 5 20 7 74 4-69 3-15 5-12 2 1 2 4 3 11 11-6 141 3 129-2 46-5 59-9 47-10 35-10 35-12 35-18 24-16 19-20 10-15 11-21 6 0 3-18 5-52 3-17 4-4 3 5 4 16 5 53 3 18 6 0 9 20 11 17 26 28 36 24 35 18 47 18 58 17 94 15 82 9 82 7 208 9 5 22 2 26 3 63 2-12 2-54 4 3-4-45-3-10-4-7-3 9-79-2-153-9-128-13-71-10-35-7-70-21-47-19-35-19-23-18-27-28-20-36-6 0-3-20-5-51-4-17-3-5-4 5-3 16-5 51-3 19-6 0-18 31-22 25-35 23-36 16-35 11-46 11-59 11-59 7-128 4-153-3-11 74-5-62-2-13-5-10-5 8-2 10-7 88-5-71-2-18-5-16-2-2-2 2-5 15-7 85-5-57z"/><path transform="translate(387,2441)" d="M0 -481l2 -2 3 1 4 14 5 40 2 43 10-85 4-11 3 0 2 5 5 26 4 73 8-85 2-11 2-6 3-1 11 10 141 3 129-2 46-5 59-9 47-10 35-9 35-13 35-17 24-17 19-20 12-17 9-19 6 0 0-9 2 0 1-8 5-53 4-16 3-5 4 5 3 17 5 53 3 17 6 0 11 22 11 18 24 25 24 18 35 19 35 15 47 15 47 13 93 14 164 14 197 9 2 93 3 22 2-66 3-28 4-24 4 42-2 55-2 12-3-63-2-27-5-21-208-10-82-6-82-9-94-16-58-17-47-18-35-17-35-24-27-29-11-16-9-20-6 0-3-18-5-53-3-17-4-5-3 5-4 16-5 53-3 17-6 0-11 21-10 15-19 20-24 17-35 17-35 13-35 9-47 10-58 9-47 5-129 3-141-3-11 5-3-10-2-5-2-1-5 13-2 14-5 70-7-75-5-20-2-3-2 1-5 13-5 40-2 42-3-10-4-60-5-22z"/><path transform="translate(383,2447)" d="M0 -450l2 -16 5-15 2-2 3 2 2 6 5 27 4 73 7-88 3-11 4-7 5 9 2 12 8 76 2-46 5-39 175 2 117-2 59-8 58-10 47-11 35-12 36-15 35-24 23-25 17-31 6 0 0-9 2 0 1-6 6-62 3-11 3-3 4 5 2 10 6 62 3 15 6 0 11 23 11 18 24 25 24 17 35 19 35 15 47 15 47 13 93 14 164 14 197 8 2 26 5-28 3-5 2-2 2 2 4-1-4 25-3 27-2 66-2-21-3-94-196-8-164-15-94-14-47-12-47-16-35-15-35-19-23-17-25-25-11-18-11-22-6 0-3-17-5-54-3-17-4-5-3 5-4 17-5 53-1 7-1 0-1 9-6 0-9 19-12 18-19 20-24 16-35 18-35 12-35 10-47 10-58 9-47 5-129 2-141-3-11-11-3 2-2 5-2 12-7 85-5-74-5-26-2-4-2-1-5 11-9 85-3-42-5-40-4-14-3-1-2 2z"/><path transform="translate(379,2452)" d="M0 -396l2 9 3-42 4-39 3-9 2-5 2-1 5 10 2 13 7 78 3-45 4-41 5-13 2 0 3 5 5 26 4 76 3-41 11-55 152 4 129-3 71-9 58-11 47-13 47-17 23-12 24-17 24-26 16-31 6 0 1-9 3-5 4-55 4-17 3-5 4 5 2 10 6 63 3 14 6 0 10 21 10 17 15 17 23 20 35 22 35 16 47 16 59 16 117 17 140 11 153 6 44 1 5-9 5 6 4 25 4-34-2-2-2 2-3 6-4 27-3-25-196-8-164-15-94-13-47-13-47-16-35-14-35-20-23-17-24-25-12-18-11-22-6 0-3-16-6-62-2-10-4-5-3 4-3 11-5 61-2 6-1 0-1 9-6 0-17 32-23 25-35 23-36 16-35 11-46 11-59 11-59 7-117 3-175-3-5 40-2 45-7-75-3-13-4-9-5 8-2 11-7 87-5-72-5-28-2-5-3-2-2 1-5 15-2 16z"/><path transform="translate(375,2458)" d="M0 -469l5 39 2 42 2-8 3-39 4-36 5-12 2 1 3 4 4 25 5 72 7-81 2-12 5-7 5 10 5 38 11-37 152 4 129-3 106-15 47-11 35-10 35-14 23-12 24-17 22-23 10-16 8-18 6 0 1-9 3-3 6-64 2-11 3-4 4 5 2 10 6 64 2 4 2 9 5 1 15 28 20 26 23 20 35 22 47 20 59 19 35 10 70 10 105 11 118 8 161 5 2-5 5 23 7 95 4-97-4-24-5-6-5 9-44-1-152-7-141-11-117-16-59-16-46-17-36-16-35-21-23-21-15-17-10-17-10-20-5 0-4-14-6-64-2-10-4-5-3 5-4 17-4 56-3 4 0 10-7-1-16 31-24 26-24 17-23 12-47 18-47 12-58 11-71 10-128 2-153-4-11 56-3 41-4-76-5-27-2-4-3-1-4 13-5 42-2 45-7-79-3-12-4-10-3 1-2 4-3 9-4 40-3 42-2-10z"/><path transform="translate(371,2463)" d="M0 -484l5 7 4 27 5 73 7-86 2-11 5-9 5 8 2 12 7 84 5-75 2-15 5-12 2 1 3 5 11 4 12 1 140 4 129-2 94-14 47-9 35-10 35-12 35-18 24-16 19-20 12-18 9-20 6 0 1-9 3-2 6-65 2-11 4-4 3 5 2 10 6 66 3 2 1 9 6 1 9 21 13 19 23 25 24 18 35 19 35 15 47 15 47 13 93 13 164 13 197 7 7 144 3-89 4-47 4 100-7-95-4-23-3 5-161-5-117-7-106-11-70-11-35-9-59-19-47-21-35-21-23-20-20-26-14-29-6 0-1-10-3-3-6-64-2-10-3-6-4 4-2 11-6 64-3 3 0 10-7 0-8 17-10 17-22 23-24 16-23 13-35 14-35 10-47 10-106 16-128 2-153-4-11 38-5-39-5-10-4 8-3 12-7 81-4-73-5-24-2-5-3 0-4 11-5 36-3 40-2 8-2-43-5-39z"/><path transform="translate(366,2468)" d="M0 -469l5 -14 2-1 2 2 3 7 4 31 5 66 2-46 5-44 5-14 2 0 2 4 5 24 5 76 5-66 2-20 5-17 11 10 24 1 140 4 117-2 106-15 47-11 35-10 35-14 23-12 24-17 22-23 10-17 9-17 5-1 2-9 2-1 5-59 3-17 4-5 3 5 4 18 4 59 3 1 1 9 6 1 10 23 14 21 21 21 24 18 35 19 47 19 82 24 105 15 164 12 185 6 2 67 5-57 3-11 4-9 4 13-4 47-3 88-7-143-196-7-164-13-94-14-47-12-47-16-35-15-35-19-23-17-24-25-13-20-9-20-6-1-1-10-3-2-6-65-2-10-3-6-4 5-2 10-6 65-2 2-1 10-6 0-10 20-12 17-19 20-24 17-35 17-35 13-35 9-47 10-94 13-128 2-141-4-12 0-11-4-3-6-2-1-5 12-2 16-5 74-7-83-2-12-5-8-4 8-3 12-7 85-5-73-4-27-5-7z"/><path transform="translate(362,2474)" d="M0 -392l5 -65 2-15 5-12 2 0 2 4 5 23 5 69 2-10 5-62 4-20 3-3 2 2 5 19 5 64 2 10 5-71 11-12 152 5 129-2 71-9 58-11 47-12 47-18 23-12 24-16 24-27 17-31 6-1 1-9 2 0 6-67 2-10 4-5 3 5 4 18 4 60 3 0 1 9 6 2 9 20 13 20 23 25 24 17 35 19 35 15 47 16 47 13 82 11 152 13 105 4 115 3 2 2 5-11 3 0 2 5 2 9 4-19-4 8-3 12-4 56-3-67-185-6-164-12-105-14-82-24-47-19-35-20-23-17-22-22-14-20-10-23-6-1-1-10-3 0-4-59-4-18-3-6-4 5-3 18-5 59-2 0-1 10-6 0-9 18-10 16-22 24-24 16-23 13-35 13-35 11-47 10-106 16-117 1-140-3-24-1-11-10-5 17-2 19-5 66-5-75-4-25-3-4-2 0-5 14-4 45-3 46-4-66-5-32-3-6-2-3-2 1-5 14z"/><path transform="translate(358,2479)" d="M0 -454l5 72 4-59 5-34 5-9 4 7 5 29 5 73 4-76 5-27 2-4 3 0 5 15 2 18 5 75 11-97 152 5 129-1 59-8 58-10 47-11 35-12 36-15 23-14 23-20 13-16 17-31 6-1 1-9 2 0 5-59 3-17 4-6 3 5 3 11 6 67 2 0 1 9 5 0 20 38 26 29 24 17 35 20 59 23 70 20 93 12 129 11 153 6 79 1 2-9 5 11 3 14 4 72 4-88-2-9-2-4-3-1-4 11-3-2-114-2-106-5-152-12-82-12-47-13-47-15-35-15-35-19-23-18-24-24-13-20-9-21-6-1-1-10-2 0-5-59-4-18-3-6-4 5-2 11-6 66-2 0-1 10-6 0-17 31-24 27-24 17-23 12-47 17-47 13-58 11-71 9-128 1-153-5-11 13-5 70-2-10-5-63-5-19-2-2-2 2-5 20-5 63-2 9-5-69-4-23-3-3-2 0-5 12-2 14-5 65z"/><path transform="translate(354,2485)" d="M0 -484l5 17 2 18 5 74 4-75 5-28 2-5 3-1 4 11 3 14 4 70 3-10 4-63 3-13 2-6 3-2 4 12 3 15 11-16 152 6 129-1 94-13 47-10 35-9 35-13 35-17 24-17 20-20 12-18 9-19 1-2 5 0 1-9 2 0 5-59 3-17 4-6 3 5 4 19 5 59 2 0 1 9 5 0 11 25 12 17 23 25 24 18 35 19 35 15 47 15 47 13 93 13 164 12 197 5 5 30 2 40 3 108 2-118 2-34 4 56-4-72-3-13-4-11-3 9-79-1-153-7-128-10-94-13-70-20-59-23-35-19-23-18-27-29-20-37-5 0-1-10-2 0-6-67-3-10-3-6-4 6-3 18-5 58-2 0-1 10-6 1-17 31-13 16-23 19-23 15-36 15-35 11-46 11-59 11-59 7-128 1-153-5-11 97-5-74-2-19-5-15-2 0-3 5-4 27-5 76-5-74-4-29-5-7-5 10-5 33-4 59-5-72z"/><path transform="translate(350,2490)" d="M0 -481l2 -4 3-1 4 11 10 87 4-70 5-23 2-3 3 1 4 17 3 19 4 70 5-78 3-16 4-12 14 11 12 1 140 5 129-1 94-13 47-10 35-9 35-12 35-18 24-16 20-21 12-17 10-22 5 0 1-9 2 0 5-58 4-19 3-5 4 5 3 19 5 59 2 0 1 9 5 0 11 23 12 20 23 24 24 18 35 19 35 15 47 16 47 12 93 13 164 11 197 5 2 144 5-110 3-22 4-19 4 29-2 33-2 119-3-109-2-39-5-31-196-5-164-12-94-12-47-13-47-16-35-15-35-19-23-17-24-25-12-18-11-24-5 0-1-10-2 0-5-59-3-18-4-6-4 6-3 18-5 58-2 0-1 10-5-1-1 2-9 20-12 17-20 21-24 16-35 18-35 12-35 10-47 9-94 14-128 0-153-5-11 16-3-16-4-11-3 2-2 6-2 13-5 63-2 10-5-70-2-15-5-11-2 1-3 6-4 28-5 74-5-73-2-18-5-17z"/><path transform="translate(346,2496)" d="M0 -438l2 -23 5-21 2-4 3 1 2 5 5 25 4 77 7-88 3-11 2-6 2-1 5 12 2 16 5 79 5-71 5-29 11 5 82 4 106 3 93-1 59-8 58-10 47-11 35-12 36-15 23-14 23-20 14-16 17-33 5 0 1-9 2 0 5-58 4-19 3-5 4 6 3 19 5 58 2 0 1 9 5 0 11 25 14 20 21 23 24 17 35 19 47 20 82 24 105 13 164 11 185 3 2 18 5-23 3-4 2 1 2 4 4-7-4 19-3 21-4 110-3-143-196-5-164-12-94-12-47-13-47-15-35-15-35-20-23-17-24-25-12-19-11-23-5 0-1-10-2 0-5-58-3-19-4-6-3 6-4 18-5 58-2 0-1 10-5-1-10 22-12 18-20 20-24 17-35 17-35 12-35 10-47 10-94 13-128 1-141-6-12 0-14-11-4 12-3 15-4 78-5-69-2-20-5-16-2-1-3 3-4 22-5 71-10-88-4-10-3 0-2 5z"/><path transform="translate(342,2501)" d="M0 -426l2 47 7-87 3-12 4-8 5 9 2 12 7 80 5-74 2-14 5-11 5 9 2 13 5 69 2-3 3-44 11-32 152 6 129 0 59-7 58-11 47-11 47-16 35-17 24-16 11-11 14-17 17-33 6 0 3-9 5-66 3-11 3-5 4 6 2 11 6 66 2 9 6 0 10 22 10 17 15 18 23 20 35 22 35 16 47 17 59 16 117 14 140 9 153 4 44 0 2-8 3-2 5 11 4 35 4-46-2-4-2 0-3 4-4 23-3-18-185-4-164-11-105-13-82-24-47-19-35-19-23-18-22-23-14-20-11-24-4 0-2-10-2 0-5-58-3-19-4-6-3 6-4 19-4 57-3 0-1 10-5-1-17 34-14 16-23 20-23 14-36 15-35 11-46 11-59 11-59 7-93 1-106-3-82-4-11-5-5 30-5 70-4-78-3-16-4-12-3 1-2 5-2 11-7 89-5-77-5-26-2-5-3 0-2 3-5 22-2 23z"/><path transform="translate(338,2507)" d="M0 -479l5 31 4 70 3-48 4-45 5-14 2 0 3 4 4 26 5 80 5-75 2-18 5-15 2 0 3 5 2 11 5 59 11-65 152 7 129 0 94-13 47-10 35-9 35-12 35-18 24-16 20-21 13-19 9-21 6 0 3-9 6-66 2-11 3-5 4 6 2 11 6 66 2 9 6 0 11 24 12 19 23 25 24 18 35 19 35 15 47 16 47 12 105 13 94 7 94 4 161 2 2-2 5 30 3 36 2 140 2-140 4-32-4-36-5-10-2 1-3 8-44 0-152-4-141-8-117-15-59-16-46-16-36-17-35-21-23-21-15-18-10-17-10-21-6 0-2-10-6-66-2-11-4-6-3 6-2 11-6 65-3 10-6-1-17 34-14 16-11 11-24 17-35 17-47 16-46 11-59 10-59 8-128 0-153-7-11 32-3 44-2 3-5-69-2-13-5-8-4 10-3 15-4 73-7-79-3-12-4-9-5 8-3 12-7 87-2-48z"/><path transform="translate(334,2512)" d="M0 -487l2 0 3 3 4 23 5 69 2-6 5-65 2-13 5-10 5 10 2 13 5 68 2-1 5-67 2-13 3-7 2-1 5 14 11-3 152 7 129 1 94-14 47-9 35-10 35-12 35-17 24-17 20-21 13-19 10-21 5 0 3-9 6-65 2-12 3-5 4 6 2 11 6 66 3 9 5 1 10 21 13 21 23 25 24 18 35 19 35 15 47 16 47 12 93 12 164 10 197 4 5 120 5-84 4-36 4 58-2 141-2-140-3-37-4-30-3 3-161-3-94-4-94-6-105-13-47-13-47-16-35-14-35-20-23-17-24-25-12-19-11-24-5 0-3-10-6-66-2-11-3-6-4 6-2 11-6 65-3 10-5-1-10 21-13 20-20 21-24 16-35 17-35 12-35 10-47 10-94 13-128 0-153-7-11 65-5-59-2-12-3-5-2 0-5 15-2 19-5 74-4-79-5-26-2-5-3 0-4 14-5 46-3 48-4-70-5-31z"/><path transform="translate(329,2518)" d="M0 -463l5 -21 2-3 2 1 3 5 4 29 5 77 5-79 2-17 5-14 2 0 2 5 3 11 7 91 5-80 2-15 5-11 11 11 12 1 140 6 129 1 106-15 47-11 35-10 35-14 23-12 24-16 23-25 11-18 9-19 6 0 2-9 6-65 2-11 4-6 3 6 2 11 6 66 3 9 6 1 10 24 14 21 21 22 24 18 35 19 47 20 82 24 105 12 164 10 185 2 2 50 5-46 3-9 2-4 2 0 4 5-4 35-5 84-5-120-196-3-164-10-94-12-47-13-47-15-35-15-35-20-23-17-24-25-13-21-9-22-6 0-3-10-6-65-2-12-3-6-4 6-2 11-6 65-2 10-6 0-10 20-13 20-20 21-24 16-35 17-35 13-35 9-47 10-94 13-128 0-153-7-11 2-5-13-2 1-3 6-2 13-5 67-2 2-5-69-2-13-5-9-4 9-3 13-4 65-3 7-5-70-4-22-3-4-2 1z"/><path transform="translate(325,2523)" d="M0 -377l7 -92 2-11 3-6 2-1 5 10 2 14 5 71 2-7 5-66 4-19 3-1 2 3 5 25 5 83 7-97 11-2 152 7 129 1 71-9 58-11 47-12 47-17 35-20 23-20 19-23 13-27 6-1 2-9 6-65 2-11 4-6 3 6 3 12 5 65 3 9 6 1 9 22 13 21 23 25 24 17 35 20 35 15 47 15 47 13 58 8 71 6 140 7 155 2 30 0 7-9 5 9 2 13 4-27-2 0-2 5-3 9-4 46-3-51-185-2-164-9-105-13-82-24-47-19-35-19-23-18-22-22-14-22-10-24-6 0-3-10-5-65-3-12-3-6-4 6-2 11-6 65-2 10-6 0-8 18-12 19-23 24-24 17-23 12-35 13-35 11-47 10-106 16-128-1-141-7-12 0-11-11-5 10-2 16-5 79-7-90-2-11-3-5-2-1-5 15-2 17-5 79-4-78-5-29-3-5-2-1-2 3-5 21z"/><path transform="translate(321,2529)" d="M0 -468l7 86 2-49 5-43 5-13 2 1 2 5 5 30 5 74 4-81 3-16 4-11 3 2 2 7 3 14 4 77 3-23 11-65 152 7 129 2 106-16 47-10 35-10 35-14 23-12 24-16 23-25 11-16 9-21 6-1 3-20 5-54 2-11 4-6 3 6 3 12 4 54 4 20 6 2 10 23 14 22 21 22 24 17 35 20 47 19 82 24 70 9 70 6 129 6 152 2 33 0 2-9 5 16 5 53 2 139 4-191-2-13-5-10-7 10-30 0-155-2-140-7-71-7-58-7-47-13-47-16-35-15-35-19-23-18-24-25-13-21-9-21-6-1-2-10-6-65-3-12-3-6-4 6-2 12-6 64-2 10-6 0-13 27-19 24-23 20-35 19-47 17-47 13-58 11-71 9-128-1-153-8-11 3-7 96-5-82-5-25-2-4-2 2-5 19-5 65-2 7-5-70-2-14-5-11-2 2-3 5-2 12-7 91z"/><path transform="translate(317,2534)" d="M0 -489l5 13 2 15 5 75 7-81 4-19 3-1 2 3 5 24 4 81 5-71 2-20 5-15 3 1 2 6 5 36 11-32 152 9 129 1 94-13 47-10 35-9 35-13 35-17 24-16 21-21 13-20 9-21 6-1 3-19 5-55 2-11 4-6 3 6 3 12 4 55 4 19 6 2 9 21 13 21 23 25 24 18 35 19 35 15 47 16 47 13 82 9 82 6 82 4 208 2 5 43 2 65 7-94 4 180-2-138-5-54-4-15-3 8-33 0-152-1-129-6-70-6-70-9-82-24-47-19-35-20-23-18-22-22-14-21-10-24-6-1-4-20-4-55-3-12-3-6-4 6-2 12-5 54-3 20-6 0-9 21-11 17-23 24-24 16-23 12-35 14-35 10-47 11-106 15-128-1-153-8-11 66-3 23-4-77-3-15-2-7-2-2-5 12-2 16-5 80-5-73-4-30-3-6-2 0-5 12-5 43-2 50-7-87z"/><path transform="translate(313,2540)" d="M0 -479l2 -7 3-3 2 1 5 17 7 92 4-80 3-16 4-12 3 2 2 6 2 13 5 69 2 0 5-69 5-18 2-1 3 5 11 6 24 2 140 7 117 1 106-15 47-11 35-10 35-13 23-12 24-17 23-24 12-19 8-18 1-2 5 0 3-18 5-55 2-12 4-6 4 6 2 12 5 56 3 18 5 0 1 2 9 22 13 20 23 25 24 18 35 19 35 15 47 16 47 13 82 9 82 6 82 4 208 1 2 166 3-111 5-50 4-14 4 19-7 94-2-65-5-43-208-2-82-4-82-6-82-10-47-13-47-15-35-15-35-20-23-17-24-26-13-20-9-22-6-1-3-19-5-56-2-11-4-7-3 6-3 12-5 55-3 19-6 1-9 21-13 19-21 21-24 17-35 17-35 12-35 10-47 9-94 13-128-1-153-8-11 31-5-36-2-6-3 0-4 15-3 19-4 71-5-80-5-24-2-3-2 1-5 18-7 82-5-76-2-15-5-12z"/><path transform="translate(309,2545)" d="M0 -418l5 -53 2-11 2-6 3-1 4 12 3 15 4 80 7-88 3-11 2-5 2 0 5 16 2 20 5 68 5-80 5-21 11 9 35 2 129 7 117 2 59-8 58-10 47-11 47-16 35-17 24-16 11-11 15-17 18-36 5 0 4-17 4-56 3-12 3-6 4 6 2 12 5 58 3 16 5 0 12 26 14 22 20 21 24 18 35 20 47 19 82 24 105 12 164 7 185 1 2 12 5-20 3-2 2 2 2 7 4-13-4 14-5 49-2 111-3-165-208-2-82-3-82-6-82-10-47-12-47-16-35-15-35-20-23-17-24-25-13-21-9-21-1-2-5 0-3-18-5-56-2-12-4-7-3 6-3 12-4 56-4 18-5-1-1 2-8 19-12 18-23 25-24 16-23 12-35 14-35 10-47 10-106 16-117-1-140-8-24-1-11-6-3-5-2 0-5 19-4 68-3 1-4-69-3-13-2-7-2-1-5 12-2 15-5 80-7-91-5-17-2-1-3 2-2 8z"/><path transform="translate(305,2551)" d="M0 -449l5 64 4-77 5-23 2-4 3 2 4 18 7 80 5-75 2-14 3-7 2-2 5 13 2 18 5 82 5-84 11-16 152 9 129 2 59-8 58-10 47-11 35-11 36-15 23-14 23-20 15-17 9-15 9-21 5 0 4-15 4-58 3-12 3-6 4 6 2 13 5 58 3 15 5 0 9 22 10 16 16 20 23 21 24 16 35 17 58 22 59 16 93 11 129 7 141 2 91-1 2-9 3 0 5 16 4 52 4-64-2-7-2-2-3 2-4 19-3-12-185 0-164-8-105-11-82-25-47-19-35-19-23-18-21-22-14-21-12-26-5 0-3-17-5-57-2-12-4-7-3 6-3 12-4 57-4 17-5-1-18 36-15 17-11 11-24 16-35 17-47 16-46 11-59 11-59 7-117-1-128-7-36-3-11-9-5 22-5 80-4-69-3-20-4-16-3 0-2 6-2 11-7 87-5-79-2-15-5-12-3 1-2 5-2 11-5 53z"/><path transform="translate(301,2556)" d="M0 -487l5 25 4 80 7-89 5-17 2 0 3 4 4 27 5 83 5-84 4-26 3-3 2 3 5 24 5 85 11-100 152 10 129 2 94-13 82-19 35-12 35-17 24-17 21-21 13-20 11-23 4 0 4-14 4-59 3-12 3-6 4 6 2 13 5 59 3 14 5 0 9 22 12 20 14 17 23 20 35 22 35 17 47 16 59 17 70 8 82 6 94 3 208 0 2 1 3 14 5 87 2-7 2-56 4 16-4-53-5-15-2-1-3 10-91 0-141-2-128-7-94-10-59-16-58-22-35-18-24-15-23-21-16-20-10-16-9-22-5 0-3-16-5-58-2-12-4-7-3 6-3 13-4 57-4 16-4-1-10 21-9 16-15 17-23 19-23 14-36 15-35 11-46 12-59 10-59 7-128-2-153-9-11 16-5 85-5-83-2-17-5-13-2 2-2 7-3 13-4 75-7-80-5-18-2-1-3 3-5 23-4 77-5-63z"/><path transform="translate(296,2562)" d="M0 -488l2 -3 3 2 4 18 7 85 5-78 5-22 2-2 2 2 5 23 5 82 4-71 3-20 5-14 2 1 2 7 3 15 11-12 152 10 129 2 94-13 82-19 35-12 35-17 24-16 22-24 13-19 10-22 4 0 1-9 3-4 5-59 2-13 3-6 4 6 2 13 5 60 2 4 1 9 5 0 11 25 12 20 23 25 24 18 35 19 35 15 47 16 47 13 82 9 82 5 82 3 208 0 5 195 2-138 3-34 4-28 4 39-2 55-2 8-5-87-2-14-3-1-208 0-94-4-82-6-70-8-59-16-46-17-36-16-35-22-23-21-14-17-11-19-10-22-5 0-3-15-5-59-2-12-4-7-3 7-2 12-5 59-4 14-4-1-11 24-13 19-21 22-24 16-35 17-35 12-82 19-94 14-128-3-153-9-11 100-5-86-5-24-2-2-2 3-5 25-5 84-4-82-5-28-2-4-3 1-4 17-8 89-4-80-5-25z"/><path transform="translate(292,2567)" d="M0 -454l5 -30 2-6 2 0 3 4 4 25 5 85 5-79 2-19 5-14 2 1 2 6 3 13 4 72 3-6 5-67 4-17 14 11 12 1 140 9 129 3 59-8 58-10 47-11 35-11 36-15 23-14 23-19 16-20 10-16 8-19 4 0 2-9 2-2 5-61 2-13 3-6 4 6 2 13 5 61 2 3 2 9 4 0 11 26 15 23 20 21 24 18 35 20 47 19 82 24 93 10 164 7 197-1 2 38 5-38 3-7 2-3 2 3 4-2-4 27-3 35-2 137-5-195-208 0-82-2-82-6-82-9-47-12-47-16-35-15-35-20-23-17-24-26-12-20-11-24-4 0-2-10-2-3-5-61-2-12-4-7-3 7-2 12-5 60-2 3-2 10-4-1-10 23-12 19-23 23-24 16-35 17-35 13-82 19-94 13-128-3-153-9-11 12-3-15-2-7-2-2-5 15-2 19-5 71-5-82-4-23-3-2-2 2-5 23-4 78-8-86-4-18-3-1-2 3z"/><path transform="translate(288,2573)" d="M0 -410l2 23 5-78 2-15 5-10 5 8 2 14 5 71 2-4 2-45 5-36 2-5 3-1 2 5 5 33 5 60 2-52 5-38 11 5 106 7 93 5 82 1 59-7 58-11 47-11 47-15 35-17 24-16 17-17 13-17 15-32 5 0 1-9 2-1 5-62 2-13 4-6 3 7 3 16 4 59 2 1 2 9 4 1 10 22 13 22 23 25 24 18 35 20 35 15 47 16 47 12 117 12 129 5 152 0 56-1 5-10 2 1 5 15 2 18 4-37-2-2-2 2-3 7-4 38-3-37-196 0-164-7-94-9-82-25-47-19-35-19-23-18-21-22-15-22-11-26-4 0-2-10-2-2-5-61-2-13-3-7-4 7-2 12-5 61-2 2-1 10-5-1-8 20-10 16-16 19-23 19-23 14-36 15-35 11-46 12-59 10-59 7-128-3-141-9-12-1-14-10-4 17-5 67-2 6-5-72-2-13-3-7-2-1-5 15-2 18-5 79-4-84-5-26-3-4-2 1-2 5-5 30z"/><path transform="translate(284,2578)" d="M0 -479l5 48 2 96 5-118 2-20 5-16 2 0 2 5 5 32 5 104 2-86 2-29 5-23 2-1 3 4 5 30 4 104 3-86 2-29 5-21 2 0 2 6 3 14 4 109 5-96 5-29 2-3 2 5 3 12 4 93 5-75 2-21 3-10 2-2 5 20 2 30 2 107 5-130 5-25 2 1 2 9 8 93 4-89 3-11 2-2 2 7 5 59 2 68 3-90 4-40 3-3 2 7 2 18 5 96 2-81 5-37 2-1 3 9 2 22 2 60 3-8 2-54 5-28 2 2 2 14 3 33 2 154 2-154 5-46 2-2 3 8 2 24 3 69 7-96 2-5 2 6 7 87 5-85 2-7 3 4 7 96 2-69 2-23 3-7 2 4 2 19 5 67 5-84 2-6 2 6 5 88 5-73 2-17 2-3 5 38 2 125 3-115 5-47 2 1 2 15 5 88 2-76 3-23 2-6 2 7 3 25 2 93 2-72 5-52 2 1 3 16 4 74 3-68 2-21 2-4 3 9 2 32 2 153 3-157 2-30 2-9 3 5 2 24 2 86 5-103 2-13 3 2 2 18 2 61 8-82 2-1 2 16 3 50 2 14 2-61 3-20 2-2 2 15 5 75 2-69 3-20 2-3 2 13 5 79 2-71 3-21 2-3 2 14 5 73 2-67 3-20 2-2 2 15 3 51 2 10 2-60 3-18 2 0 2 17 3 61 4-66 3-16 2 2 3 21 2 81 5-96 2-12 2 5 3 27 2 146 2-141 3-33 2-8 2 9 5 119 2-103 3-25 2-4 2 14 3 49 2 14 2-62 3-18 2 1 2 20 3 79 4-94 3-13 2 6 2 30 3 163 2-169 2-29 3-6 2 12 5 69 2-66 3-19 2-1 2 21 3 81 4-99 3-12 2 6 2 33 3 102 2-118 2-26 3-5 2 14 2 54 3-6 2-55 2-17 3 2 2 24 2 144 3-142 2-33 2-10 3 10 4 71 3-73 2-22 2-3 3 18 2 86 5-117 2-15 2 2 5 89 5-138 2-20 5-17 2 1 3 7 4 39 5 172 2-116 3-18 2 4 2 22 3 64 2-6 2-46 3-9 2 9 2 32 3 271 2-264 2-26 3-2 7 85 2-57 2-14 3 5 2 27 2 117 3-101 2-31 2-6 3 13 4 90 3-74 2-18 3 2 2 22 2 80 5-88 2-9 3 9 4 141 3-116 2-23 2-2 3 17 2 57 2-3 3-52 2-14 2 5 3 27 2 124 2-111 3-32 2-7 2 12 5 100 2-83 3-21 2-1 2 19 3 63 4-65 3-13 2 5 2 27 3 125 2-113 3-32 2-8 2 11 3 37 2 81 2-98 3-23 2-2 2 15 3 51 2 14 2-59 3-17 2 2 2 21 3 71 4-78 3-13 2 5 2 26 3 109 2-93 2-34 3-9 2 8 2 30 3 184 2-183 2-29 3-7 2 10 2 35 3 107 2-118 2-26 3-5 2 11 5 117 2-97 3-24 2-5 2 12 5 110 2-92 3-24 2-4 2 11 3 37 2 83 2-100 3-25 2-5 2 10 3 34 2 123 2-131 3-28 2-7 2 8 3 29 2 143 2-136 3-33 2-10 2 6 3 23 2 80 5-93 2-13 2 1 3 17 2 52 3 13 2-61 2-19 3-3 4 45 3 126 2-133 2-29 3-9 2 6 2 21 3 69 4-76 3-16 2-2 2 13 3 35 2 110 2-121 3-28 2-9 2 4 5 74 2 4 5-77 2-4 3 8 2 25 2 85 5-100 2-15 3-2 5 40 2 128 2-118 3-35 2-14 2 0 5 42 2 145 3-139 2-34 2-13 3-1 4 39 3 105 2-89 5-52 2-3 2 8 3 23 2 65 7-90 2-6 3 4 4 56 3 77 2-97 2-27 3-11 2-1 2 9 5 90 7-92 3-7 2 2 5 41 2 100 5-121 4-23 3 3 2 13 2 29 3 101 2-82 5-57 2-6 2 1 3 11 4 88 7-90 3-9 2-1 5 23 2 36 2 137 3-143 4-48 3-6 2 2 5 27 5 112 2-92 2-29 3-14 2-6 2 1 5 25 2 35 3 156 2-157 2-34 5-25 2-1 3 4 2 12 7 98 5-94 2-14 2-6 3-1 4 16 3 21 4 102 3-85 2-29 5-23 2-3 2 3 5 21 5 86 2-6 4-75-2-18-5-15-2 0-5 9-56 1-152 0-129-5-117-11-47-13-47-16-35-15-35-19-23-18-24-25-13-22-10-23-4 0-1-10-3-1-4-59-3-16-3-7-4 7-2 12-5 62-2 1-1 10-5 0-15 32-13 17-17 16-24 16-35 17-47 16-46 11-59 10-59 8-82-2-93-4-106-8-11-4-5 38-2 51-5-59-5-33-2-5-2 0-3 6-4 35-3 45-2 5-5-72-2-13-5-9-5 11-2 15-5 78-2-24z"/><path transform="translate(280,2584)" d="M0 -492l2 1 3 7 2 13 7 100 5-95 4-22 3-2 2 4 2 9 5 53 2 145 3-144 4-53 5-11 5 12 2 20 5 127 2-104 3-30 4-22 3-1 2 6 2 15 5 119 5-109 4-28 3-1 2 5 5 43 2 93 5-112 2-19 2-8 3 0 4 25 3 39 2 93 2-108 3-30 4-18 3 3 2 13 3 28 2 92 2-69 5-59 2-7 3 2 2 12 5 102 4-89 3-18 2-7 2 2 5 41 2 100 5-121 2-17 3-4 2 4 2 16 5 122 2-100 5-40 2 0 3 9 2 25 2 78 7-108 3-4 2 5 7 91 3-65 2-23 2-7 3 3 2 16 5 100 2-84 2-26 3-9 2 3 2 16 5 101 2-85 5-34 2 3 3 18 4 77 5-91 2-7 3 6 4 87 5-72 2-17 3-3 4 40 3 144 2-139 5-44 2 2 3 17 4 71 5-86 2-5 3 9 2 29 2 136 3-129 2-33 2-11 3 3 4 78 3-11 2-52 2-18 3-2 2 14 5 97 2-84 2-24 3-5 2 9 2 31 3 159 2-163 2-30 3-8 2 6 2 26 3 113 2-101 3-35 2-11 2 4 3 24 2 88 5-106 2-12 2 3 3 23 2 81 5-96 2-13 2 3 3 22 2 85 5-101 2-12 2 4 3 24 2 98 2-81 3-37 2-11 2 6 3 27 2 143 2-138 3-32 2-9 2 8 3 32 2 123 2-133 3-27 2-6 3 11 4 90 3-79 2-22 2-2 3 15 2 55 2-3 3-54 2-17 2 2 3 22 2 88 2-67 3-39 2-11 2 6 3 32 2 134 2-143 3-28 2-5 2 12 5 68 2-65 3-19 2 1 2 20 3 82 4-99 3-11 2 6 2 33 3 108 2-122 3-27 2-4 2 14 3 54 2-3 2-55 3-17 2 2 2 25 3 134 2-129 2-33 3-9 2 10 5 76 2-73 2-20 3-2 2 20 2 87 3-69 2-40 2-12 3 6 4 97 3-91 2-26 2-4 3 15 2 69 5-94 2-17 2 1 3 26 2 84 2-119 5-60 5-17 2 1 3 7 4 38 5 179 2-122 3-18 2 4 2 22 3 66 2-10 2-44 3-9 2 9 2 34 3 174 2-171 2-24 3-1 2 18 2 57 3 1 2-51 2-13 3 7 2 30 2 198 3-191 2-28 2-3 7 83 3-59 2-15 3 5 2 26 2 119 3-104 2-32 2-6 3 13 4 87 3-73 2-18 2 1 3 23 2 82 5-92 2-9 2 9 5 134 2-110 3-24 2-2 2 17 3 58 2-4 2-52 3-14 2 5 2 26 3 123 2-110 2-32 3-7 2 11 5 104 2-87 3-21 2-1 2 18 3 59 2-9 2-51 3-14 2 4 2 25 3 104 2-86 2-34 3-9 2 9 2 33 3 121 2-129 2-25 3-5 2 14 5 85 2-73 2-20 3-1 2 17 2 56 3 0 2-54 2-16 3 2 2 21 2 69 5-76 2-13 3 3 2 23 3 84 4-97 3-12 2 5 2 24 3 95 2-74 2-37 3-11 2 5 2 24 3 96 2-76 2-37 3-11 2 5 2 23 3 86 4-100 3-12 2 3 2 21 3 69 4-77 3-14 2 1 2 17 3 54 2 6 2-57 3-19 2-2 2 14 5 104 3-88 2-24 2-6 3 9 2 28 2 129 3-119 2-34 2-11 3 3 4 76 3-3 2-54 2-19 3-2 4 43 3 158 2-161 5-40 2 4 2 18 3 52 2 11 5-80 2-4 2 8 3 25 2 89 5-105 2-15 2-1 3 11 2 32 3 163 2-161 5-44 2 0 2 13 3 35 2 130 2-137 5-41 2 1 3 13 2 33 2 155 3-158 4-43 3-1 2 11 2 29 3 106 2-90 5-53 2-3 2 7 5 79 2-1 5-78 2-7 3 3 4 46 3 163 2-162 5-47 2-3 3 6 2 19 5 93 2-79 5-37 2-1 2 7 3 20 4 78 3-69 2-25 2-10 3-2 4 25 5 111 2-92 3-28 2-13 2-3 3 4 4 42 3 93 4-112 3-18 2-8 2-1 5 25 2 36 3 131 2-137 5-49 2-6 3 0 4 24 3 35 2 157 2-156 5-52 2-7 3-2 4 17 5 83 2-1 5-81 2-13 3-5 2 0 5 20 2 25 2 62 3-10 4-78 3-13 2-6 2-1 5 14 5 55 2 151 3-153 4-53 4 85-2 6-5-87-4-21-3-2-2 3-5 23-2 29-2 84-5-101-2-21-5-16-2 1-3 6-2 13-5 95-7-99-2-11-3-5-2 2-5 24-2 35-2 156-3-155-2-35-5-25-2-1-2 5-3 14-2 29-2 92-5-111-5-28-2-1-2 6-5 48-2 143-3-138-2-36-5-23-2 1-2 10-8 90-4-88-3-11-2-2-2 7-5 56-2 82-3-100-2-29-2-13-3-3-4 22-5 122-2-101-5-41-2-2-3 7-7 93-4-90-3-10-2 1-2 11-3 28-2 96-2-76-5-56-2-5-3 6-7 91-2-66-3-23-2-8-2 3-5 53-2 89-3-106-4-38-3 1-2 13-2 34-3 138-2-144-5-43-2 1-2 13-3 35-2 119-2-128-5-41-2 2-3 15-4 100-3-85-2-25-2-8-3 5-4 77-3-4-5-74-2-4-2 9-3 28-2 121-2-111-3-35-2-12-2 1-3 16-4 77-3-69-2-22-2-5-3 9-2 28-2 134-3-126-4-45-3 3-2 19-2 60-3-13-2-51-2-18-3-1-2 14-5 92-2-80-2-23-3-5-2 10-2 32-3 136-2-143-3-28-2-8-2 7-3 27-2 132-2-124-3-33-2-11-2 6-3 25-2 100-2-83-3-37-2-12-2 5-3 23-2 93-5-111-2-11-2 4-3 24-2 97-5-116-2-11-2 5-3 26-2 117-2-106-3-35-2-10-2 6-3 29-2 183-2-183-3-31-2-8-2 9-3 35-2 93-3-109-2-26-2-5-3 12-4 79-3-72-2-20-2-2-3 17-2 59-2-14-3-51-2-16-2 3-3 23-2 98-2-82-3-37-2-10-2 7-3 32-2 114-2-126-3-26-2-5-2 13-5 64-2-63-3-18-2 0-2 21-3 83-4-100-3-11-2 6-3 32-2 112-2-125-3-26-2-5-2 14-3 52-2 2-2-57-3-17-2 2-2 24-3 116-4-141-3-10-2 10-5 87-2-80-2-22-3-1-2 18-2 74-5-90-2-13-3 5-2 32-2 101-3-118-2-27-2-5-3 14-2 58-7-85-3 2-2 26-2 263-3-271-2-32-2-9-3 10-2 46-2 6-3-64-2-23-2-4-3 18-2 117-5-172-4-39-3-7-2-1-5 16-2 21-5 138-4-89-3-2-2 15-5 116-2-85-2-18-3 2-2 23-2 72-5-71-3-9-2 9-2 34-3 142-2-144-2-25-3-1-2 16-2 55-3 7-2-55-2-14-3 5-2 27-2 118-3-103-2-32-2-6-3 11-4 100-3-82-2-20-2 0-3 19-2 67-5-70-2-12-2 6-3 29-2 170-2-164-3-29-2-6-2 12-5 94-3-79-2-20-2 0-3 18-2 61-2-14-3-49-2-13-2 4-3 25-2 103-5-120-2-9-2 9-3 32-2 142-2-147-3-27-2-5-2 12-5 97-2-81-3-22-2-1-2 15-5 67-2-61-3-18-2 1-2 18-3 59-2-9-2-51-3-16-2 2-3 21-2 67-5-73-2-14-2 3-3 21-2 71-5-79-2-14-2 3-3 21-2 68-5-75-2-14-2 2-3 19-2 61-2-13-3-50-2-16-2 0-7 83-3-61-2-19-2-2-3 13-4 104-3-87-2-24-2-5-3 9-2 30-3 158-2-154-2-31-3-10-2 5-2 21-3 67-4-74-3-15-2-1-5 52-2 72-2-93-3-25-2-8-2 6-3 24-2 76-5-88-2-16-2-1-5 47-2 115-3-124-4-39-3 3-2 18-5 72-4-87-3-6-2 5-5 84-5-67-2-18-2-5-3 7-2 23-2 70-7-96-3-5-2 7-5 85-7-87-2-5-2 5-7 95-3-69-2-23-2-9-3 2-4 46-3 154-2-154-2-33-3-13-2-3-5 28-2 54-2 9-3-60-2-23-3-8-2 1-5 37-2 81-5-96-2-18-2-7-3 2-4 40-3 91-2-68-5-59-2-7-2 2-3 10-4 90-7-93-3-9-2-1-5 24-4 131-3-107-2-31-5-19-2 2-2 10-3 21-5 75-4-93-3-13-2-4-2 2-5 30-5 96-4-109-3-14-2-6-2 0-5 21-2 29-3 86-4-104-5-31-2-4-3 2-4 22-3 29-2 87-5-105-4-32-3-5-2 0-5 16-2 21-5 118-2-97-5-47z"/><path transform="translate(276,2589)" d="M0 -474l2 -12 3-5 2-1 5 14 2 18 2 36 3 144 2-143 2-36 5-27 2-3 3 1 4 24 5 123 2-71 5-62 5-13 2 2 3 9 4 57 3 104 2-115 5-48 2-6 2-1 5 22 2 31 3 112 4-137 3-17 2-8 2-1 5 23 2 35 3 149 2-150 2-34 5-21 2 1 3 10 4 77 3 9 4-84 3-10 2-2 3 7 4 59 3 73 2-94 2-28 3-13 2-3 2 6 5 58 2 76 3-96 4-40 3-2 2 7 7 91 2-64 3-24 2-9 2 2 5 39 2 99 3-80 4-55 3-4 2 6 7 88 2-63 3-22 2-8 3 3 4 55 3 78 2-97 2-28 3-10 2 2 5 49 2 113 2-123 5-40 2 1 3 14 4 130 3-107 4-38 3 3 2 16 5 85 2-73 2-24 3-7 2 6 5 87 4-72 3-17 2-3 5 43 2 160 3-161 4-41 3 3 2 18 2 56 3 1 4-75 3-3 2 11 2 34 3 125 2-133 2-29 3-9 2 6 2 23 3 82 4-97 3-14 2 1 2 17 3 54 2 3 2-57 3-18 2-2 2 244 3-189 2 46 2-77 3-23 2-4 2 11 3 37 2 81 3-100 2-25 2-6 3 10 4 138 3-117 2-27 2-6 3 9 2 34 2 105 3-118 2-27 2-6 3 10 2 36 2 84 3-102 2-25 2-5 3 12 4 92 3-81 2-22 2-3 3 14 4 66 3-63 2-19 2 0 3 18 2 64 5-72 2-14 3 3 2 23 2 102 3-86 2-36 2-10 3 7 2 32 2 119 3-130 2-27 2-5 3 13 4 69 3-65 2-19 2 0 3 20 2 78 5-93 2-12 2 7 3 30 2 137 2-145 3-28 2-5 2 13 3 50 2 10 2-60 3-18 2 2 2 23 3 106 2-94 3-35 2-10 2 9 5 91 2-82 3-22 2-2 2 19 3 75 4-91 3-12 2 6 5 120 2-107 2-26 3-4 2 16 2 64 5-78 2-15 3 4 2 30 2 112 3-129 2-29 2-7 3 13 2 58 5-78 2-19 2 0 3 24 2 119 2-148 5-62 5-18 2 1 3 7 4 38 5 185 2-128 3-18 2 4 2 23 3 67 2-13 2-44 3-8 2 10 2 35 3 131 2-132 2-23 3 0 2 20 2 64 5-61 2-11 3 9 2 33 2 137 3-140 2-24 2-2 3 19 2 61 2-11 3-48 2-12 3 7 2 31 2 178 3-178 2-26 2-3 3 16 2 56 2 2 3-53 2-14 2 5 3 28 2 161 2-153 3-30 2-5 2 14 5 74 2-64 3-17 2 3 2 23 3 95 2-72 2-36 3-8 2 10 2 37 3 77 2-94 2-23 3-1 2 18 2 61 3-13 2-49 3-13 2 5 2 27 3 133 2-123 2-31 3-7 2 11 5 104 2-87 2-21 3-2 2 17 2 57 3-3 2-52 2-15 3 3 2 23 2 89 5-102 2-10 3 7 2 30 2 183 3-181 2-29 2-7 3 11 2 37 2 85 3-101 2-24 2-4 3 13 5 87 2-75 2-21 3-2 2 15 5 71 2-64 2-19 3-1 2 16 2 50 3 15 2-61 2-18 3-1 7 83 2-61 2-19 3-2 2 15 5 79 2-69 2-21 3-3 4 51 3 70 2-91 2-24 3-6 2 10 2 31 3 171 2-171 3-31 2-9 2 6 3 24 2 81 5-95 2-14 2 1 3 17 4 74 3-66 2-21 2-5 3 10 2 29 2 143 3-136 4-45 3 3 2 17 5 70 4-85 3-5 2 8 2 26 3 89 4-106 3-14 2-1 5 45 2 151 3-154 4-42 3 2 2 14 5 119 2-99 2-26 3-10 2 3 2 15 5 113 2-94 3-27 2-9 2 1 5 49 2 127 3-134 4-42 3-1 2 11 2 27 3 95 2-74 5-55 2-4 2 6 3 19 4 79 3-70 2-24 2-10 3 1 5 37 2 82 5-96 2-18 2-6 3 3 4 44 3 120 2-109 5-53 2-5 2 3 3 13 2 29 2 101 3-82 4-58 3-6 2 1 2 10 5 81 2 0 3-58 2-22 2-11 3-2 4 21 3 31 2 117 5-143 2-17 3-8 2 0 5 22 2 33 2 134 3-127 2-36 5-26 2-1 2 5 3 13 4 90 7-93 5-16 2 2 3 7 4 45 3 93 4-112 5-31 2-4 3 1 4 19 5 78 2 12 3-62 2-26 5-21 2 315 4-307-4 53-3 152-2-150-5-55-4-14-3 0-2 6-2 13-5 79-2 10-3-62-2-26-5-19-2 0-3 5-2 12-5 82-2 1-5-83-4-17-3 1-2 8-5 52-2 156-2-158-3-34-4-24-3 0-2 6-5 48-2 138-2-131-3-37-4-24-3 0-2 8-2 18-5 113-2-93-5-42-2-5-3 4-2 13-3 28-2 91-5-110-4-25-3 1-2 11-2 24-3 69-4-77-3-20-2-8-2 1-5 37-2 79-5-93-2-18-3-6-2 3-5 47-2 162-2-163-5-47-2-2-3 7-4 77-3 1-4-78-3-8-2 3-5 53-2 90-3-106-2-28-2-11-3 0-4 44-3 157-2-154-2-34-3-13-2-1-5 42-2 136-2-129-3-35-2-13-2-1-5 45-2 161-3-164-2-31-2-12-3 2-2 14-5 105-2-88-2-26-3-8-2 5-5 80-2-11-3-53-2-18-2-3-5 40-2 161-3-158-4-44-3 3-2 18-2 55-3 2-4-76-3-3-2 11-2 34-3 120-2-129-2-29-3-8-2 6-2 24-3 88-4-105-3-13-2 2-2 18-3 58-2-7-2-53-3-18-2-1-2 15-5 77-3-69-2-22-2-3-3 13-4 99-3-85-2-24-2-4-3 11-2 37-2 76-3-96-2-25-2-5-3 11-2 37-2 75-3-95-2-25-2-4-3 11-4 98-3-84-2-23-2-4-3 14-4 76-3-70-2-20-2-2-3 16-2 54-2-1-3-55-2-17-2 1-3 20-2 73-5-86-2-13-3 4-2 26-2 129-3-121-2-34-2-8-3 8-2 35-2 86-3-104-2-25-2-4-3 14-2 50-2 10-3-60-2-17-2 1-3 21-2 86-5-104-2-11-2 7-3 32-2 111-2-123-3-27-2-4-2 13-3 52-2 4-2-57-3-17-2 2-3 23-2 111-5-134-2-9-2 9-5 91-2-82-3-22-2-2-2 19-3 72-4-87-3-12-2 6-2 32-3 103-2-119-2-26-3-4-2 15-2 58-7-83-3 4-2 27-2 191-3-197-2-30-2-7-3 12-2 51-2 0-3-58-2-18-3 1-2 24-2 172-3-174-2-34-2-10-3 9-2 45-2 10-3-66-2-23-2-4-3 18-2 122-5-178-4-39-3-7-2 0-5 17-4 59-3 119-2-83-2-27-3-1-2 17-5 95-2-70-2-15-3 5-2 25-2 92-5-97-3-7-2 12-2 40-3 70-2-87-2-20-3 1-2 21-2 72-5-75-2-10-3 8-2 34-2 129-3-134-2-25-2-2-3 16-2 56-2 2-3-53-2-15-2 5-3 26-2 122-2-108-3-32-2-7-2 12-5 98-2-81-3-21-2 0-2 19-3 65-5-68-2-13-2 6-3 27-2 143-2-134-3-31-2-7-2 11-3 39-2 68-2-89-3-22-2-1-2 16-3 54-2 4-2-55-3-16-2 2-2 22-3 80-4-90-3-11-2 5-2 28-3 133-2-123-2-33-3-7-2 8-2 33-3 137-2-143-2-27-3-5-2 11-3 37-2 81-2-98-3-24-2-4-2 12-5 100-2-84-3-22-2-4-2 13-5 96-2-81-3-22-2-3-2 12-5 105-2-88-3-23-2-5-2 11-3 36-2 100-2-112-3-27-2-6-2 9-3 30-2 162-2-158-3-32-2-9-2 6-3 24-2 83-5-97-2-13-3 2-2 17-2 52-3 12-4-79-3-3-2 11-2 34-3 129-2-136-2-29-3-9-2 4-5 87-4-72-3-17-2-2-5 45-2 138-2-143-5-40-2 3-3 17-4 71-5-86-2-6-3 6-4 91-5-77-3-17-2-4-5 34-2 86-5-102-2-15-2-3-3 9-2 25-2 84-5-99-2-16-3-4-2 8-2 22-3 65-7-90-2-6-2 5-7 107-3-77-2-25-2-10-3 1-4 39-3 101-4-122-3-16-2-5-3 5-2 16-5 122-2-101-5-41-2-2-2 7-3 19-4 88-5-102-2-11-3-2-2 7-5 59-2 68-2-91-3-28-2-13-2-4-5 18-2 30-3 108-2-93-2-39-5-25-2 1-3 8-2 18-5 112-2-92-5-43-2-6-3 2-4 28-5 109-5-120-2-14-2-6-3 0-4 22-3 31-2 103-5-127-2-19-5-13-4 11-5 53-2 144-3-145-4-52-3-10-2-3-2 2-5 21-5 96-7-101-2-13-3-6-2-2z"/><path transform="translate(272,2595)" d="M0 -358l2 -79 3-29 4-23 3-3 2 2 5 23 4 101 5-85 5-33 2-5 2 1 5 20 5 98 5-80 2-22 5-15 2 2 2 9 3 18 4 144 3-117 4-47 3-6 2 0 5 23 2 35 2 149 3-149 2-34 5-23 2 1 2 9 3 19 4 103 5-114 2-13 3-4 2 4 5 42 2 95 2-74 5-58 3-7 2 2 2 11 5 94 5-78 2-19 2-8 3 1 4 38 3 78 4-92 5-24 2 3 3 14 2 34 2 152 3-153 4-46 3-3 2 8 5 77 2 1 5-78 2-7 2 3 5 54 2 87 3-103 2-28 3-11 2 1 5 44 2 155 2-153 5-46 2 0 3 12 2 31 2 146 3-142 4-46 3 0 2 13 2 34 3 132 2-139 5-40 2 2 2 16 5 91 2-78 3-24 2-7 2 5 3 22 2 68 5-75 2-17 2-2 5 45 3 129 2-136 2-29 3-9 2 4 2 21 3 65 4-71 3-17 2-1 2 13 5 103 2-87 3-24 2-7 2 8 3 29 2 141 2-136 3-33 2-10 2 4 3 23 2 79 5-93 2-14 2 2 3 18 2 62 7-83 2 0 3 17 2 54 3 1 2-56 2-18 3-1 2 16 2 53 3 6 2-58 2-18 3-1 2 17 2 55 3-2 2-55 2-17 3 0 2 19 2 62 5-69 2-15 3 2 2 21 2 80 5-94 2-13 3 5 2 26 2 130 3-122 2-33 2-9 3 8 2 34 2 101 3-115 2-26 3-5 2 13 5 70 2-65 2-19 3 0 2 19 2 73 5-85 2-13 3 5 2 29 5 385 2-417 2-6 3 12 4 73 3-68 2-20 2 1 3 20 2 83 5-99 2-12 2 8 5 123 2-107 3-25 2-3 2 16 3 60 5-69 2-14 2 4 3 29 2 176 2-182 3-29 2-6 2 14 3 53 2-2 2-56 3-17 2 3 2 26 3 213 2-215 2-31 3-7 2 12 2 50 3 3 2-59 2-18 3 1 2 25 2 216 3-220 2-33 2-9 3 11 2 49 2-4 3-60 2-21 2-2 3 21 2 207 2-228 5-65 5-19 2 1 3 6 4 38 3 45 2 148 2-135 3-18 2 4 2 23 3 69 4-59 3-8 2 11 5 142 2-111 2-21 3 1 2 21 2 72 5-73 2-9 3 10 4 123 3-98 2-21 2 0 3 22 2 75 5-80 2-9 3 9 4 117 3-95 2-21 2 0 3 21 2 75 5-81 2-10 2 9 3 36 2 90 2-103 3-22 2-1 2 19 3 67 4-71 3-11 2 7 2 33 3 140 2-145 2-26 3-3 2 16 2 55 3 3 2-54 2-15 3 4 2 27 2 125 3-113 2-32 3-7 2 12 5 95 2-80 2-20 3 0 2 19 2 66 5-70 2-13 3 6 2 28 2 149 3-142 2-30 2-7 3 11 4 106 3-88 2-22 2-2 3 16 2 54 2 5 3-56 2-16 2 2 3 22 2 74 5-83 2-12 2 4 3 26 2 109 3-94 2-35 2-9 3 7 2 30 2 172 3-170 2-30 2-8 3 9 2 32 2 144 3-149 2-28 2-6 3 9 2 33 2 129 3-136 2-27 2-7 3 9 2 32 2 154 3-157 2-29 2-8 3 8 2 29 2 146 3-140 2-32 2-10 3 6 2 24 2 90 3-67 5-51 2 3 2 19 3 59 2-9 2-52 3-17 2-2 2 14 5 103 2-87 3-24 2-6 2 8 3 26 2 104 2-87 5-49 2 1 3 16 4 79 3-69 2-22 2-6 3 8 2 25 2 88 5-104 2-14 3-1 4 47 3 123 2-131 5-39 2 2 3 16 4 94 3-80 4-32 3 4 2 17 5 80 2-70 2-24 3-7 2 4 2 17 5 91 2-78 3-25 2-8 2 2 5 49 2 125 3-133 4-42 3-1 2 10 2 25 3 78 4-91 3-17 2-6 2 5 5 54 3 93 2-108 2-29 3-12 2-2 5 27 4 74 5-90 2 277 3-288 4 29 5 71 5-89 2-10 2-1 3 6 4 58 3 81 2-100 5-42 2-4 2 3 3 12 4 100 5-84 2-20 3-10 2-1 5 20 2 30 3 102 2-84 5-59 2-8 2-2 5 18 5 95 7-98 2-11 2-4 3 2 4 25 3 35 2 155 2-153 5-53 2-9 3-3 2 2 5 25 2 30 2 99 3-79 4-61 5-16 3 0 2 5 2 10 4 296-2-315-5 21-2 26-2 63-3-12-4-79-5-19-2-1-3 5-4 30-5 112-2-92-5-45-3-8-2-1-5 16-7 93-4-91-3-13-2-5-2 2-5 25-2 37-3 127-2-135-2-33-5-22-2 1-3 7-2 18-5 142-2-117-2-31-5-20-2 2-3 10-2 23-2 57-3 0-4-80-3-10-2-2-3 7-4 57-3 82-2-100-2-30-3-13-2-3-2 5-5 53-2 110-3-121-4-44-3-3-2 6-2 18-5 96-2-81-5-37-2-1-3 9-2 24-2 70-5-79-2-19-3-6-2 4-5 56-2 74-2-95-3-27-2-11-3 0-4 42-3 134-2-126-5-49-2-2-2 10-3 27-2 94-5-114-2-15-2-2-3 9-2 27-2 98-5-118-2-15-3-1-4 41-3 155-2-151-5-46-2 1-2 15-5 106-2-90-3-25-2-8-2 5-5 85-5-70-2-18-3-2-4 44-3 136-2-142-2-30-3-9-2 4-2 21-3 67-4-75-3-16-2-1-2 14-5 94-2-81-3-24-2-5-2 9-3 30-2 171-2-170-3-32-2-9-2 5-3 25-2 91-2-70-5-52-2 3-3 21-2 70-5-80-2-14-3 1-2 19-2 62-7-83-3 1-2 18-2 60-3-14-2-51-2-16-3 1-2 19-2 64-5-71-2-15-3 3-2 20-2 75-5-87-2-13-3 4-2 24-2 101-3-85-2-37-2-10-3 6-2 29-2 182-3-184-2-30-2-7-3 10-5 103-2-89-2-24-3-3-2 15-2 53-3 3-2-57-2-17-3 1-2 22-2 87-5-105-2-11-3 7-2 32-2 122-3-133-2-27-2-5-3 14-2 48-2 13-3-60-2-18-2 1-3 22-2 95-2-78-3-37-2-10-2 8-3 36-2 72-2-94-3-24-2-2-3 16-2 65-5-74-2-14-2 5-3 29-2 153-2-160-3-28-2-6-2 14-3 53-2-2-2-55-3-16-2 2-2 26-3 179-2-178-2-32-3-7-2 12-2 48-3 11-2-61-2-18-3 1-2 25-2 140-3-137-2-34-2-8-3 10-4 61-3-64-2-19-3 0-2 22-2 133-3-131-2-36-2-10-3 9-2 43-2 14-3-68-2-23-2-4-3 18-2 128-5-185-4-38-3-7-2 0-5 18-4 62-3 147-2-119-2-24-3 1-2 19-5 77-2-57-2-13-3 7-2 28-2 130-3-113-2-29-3-4-2 14-5 79-2-64-2-16-3 4-2 26-2 106-5-120-2-6-3 12-4 92-3-75-2-19-2 2-3 22-2 82-5-91-2-9-2 9-3 36-2 94-2-107-3-23-2-1-2 17-3 60-2-10-2-50-3-13-2 5-2 28-3 145-2-136-3-31-2-6-2 12-5 92-2-77-3-21-2 0-2 19-3 65-4-69-3-12-2 5-2 27-3 129-2-118-2-33-3-7-2 10-2 36-3 87-2-102-2-24-3-3-2 15-5 71-2-64-2-18-3 1-2 19-2 62-5-66-2-14-3 3-2 23-3 81-4-93-3-12-2 5-2 26-3 101-2-83-2-36-3-10-2 6-2 27-3 118-2-106-2-34-3-9-2 6-2 27-3 118-4-139-3-10-2 6-2 26-3 99-2-81-2-36-3-11-2 4-2 22-3 77-2-45-2 188-3-244-2 2-2 19-3 57-2-4-3-53-2-18-2-1-3 14-4 98-3-83-2-23-2-5-3 9-2 28-2 134-3-126-2-34-2-11-3 3-4 75-3-1-2-55-2-19-3-3-4 42-3 160-2-160-5-42-2 3-2 17-5 72-5-87-2-6-2 7-3 23-2 74-5-85-2-16-3-3-4 37-3 107-4-129-3-14-2-1-5 40-2 123-2-113-5-50-2-1-3 10-2 27-2 97-3-78-4-54-3-4-2 8-2 22-3 63-7-87-2-7-2 4-5 55-2 81-3-99-4-40-3-1-2 9-3 23-2 65-7-91-2-8-3 2-4 41-3 95-2-76-5-57-2-6-2 3-3 12-2 28-2 95-3-74-4-58-3-7-2 1-2 10-5 84-2-9-5-76-2-10-3-2-4 22-3 34-2 149-2-149-3-34-5-23-2 0-2 8-3 18-4 136-3-111-2-31-5-22-2 0-2 7-5 47-2 116-3-104-4-57-3-9-2-3-5 14-4 61-3 71-4-123-5-23-2-2-3 3-4 28-3 35-2 143-2-144-3-35-2-18-5-14-2 0-3 6-2 11z"/><path transform="translate(268,2600)" d="M0 -465l2 32 3 98 4-121 5-30 2-5 3 0 4 18 7 97 3-67 4-39 3-6 2-1 5 19 5 85 2-8 5-78 2-12 2-4 3 2 4 28 5 130 2-106 3-31 4-20 3 0 2 9 2 18 5 126 2-103 5-44 2-5 3 2 2 11 5 82 2-3 5-79 2-10 2-1 3 7 4 57 3 82 2-100 3-29 2-13 2-3 5 22 2 37 3 112 2-122 2-31 3-13 2-3 5 24 4 99 3-83 2-27 2-11 3 0 2 9 2 207 3-115 4-76 5-25 2 4 3 16 4 117 3-97 2-27 2-11 3 1 2 11 2 31 3 128 2-120 5-49 2-1 3 10 2 27 2 94 5-113 2-15 3-2 2 9 2 28 3 101 4-122 3-14 2-1 5 43 2 157 2-156 3-32 2-12 2 2 3 15 4 95 3-81 2-24 2-7 3 6 2 22 2 71 3 276 2-356 2-16 3-2 2 13 5 129 2-107 3-27 2-8 2 6 3 23 2 81 5-95 2-14 2 1 3 16 4 71 3-65 2-21 2-3 3 11 2 36 2 92 3-108 2-26 2-7 3 8 2 29 2 158 3-156 2-32 2-9 3 6 2 25 2 110 3-96 2-36 2-11 3 5 2 24 3 98 4-117 3-12 2 5 2 24 3 102 4-122 3-11 2 5 2 27 3 125 2-117 2-33 3-10 2 7 2 30 3 172 2-175 2-29 3-7 2 10 2 36 3 76 2-96 2-24 3-4 2 13 5 68 2-64 2-19 3 0 2 19 2 70 5-80 3-14 2 5 2 27 3 156 2-152 2-32 3-7 2 10 5 91 2-80 2-22 3-2 2 18 2 66 5-75 2-14 3 5 2 29 2 196 3-199 2-30 2-5 3 12 2 49 2 14 3-61 2-18 2 1 3 24 2 112 2-101 3-35 2-8 2 10 5 79 3-73 2-20 2 0 3 21 2 93 2-76 3-38 2-10 2 9 5 84 2-78 3-21 2-1 2 21 3 94 4-117 3 231 2-232 5 76 2-74 2-22 3-1 2 21 2 109 5-139 2-11 3 9 4 58 3-68 2-23 2-3 3 19 2 158 2-174 5-67 5-20 2 1 3 6 4 38 3 44 2 157 2-143 3-18 2 4 2 23 3 71 4-62 3-7 2 11 5 126 2-97 2-20 3 2 2 23 2 83 5-87 2-8 3 12 4 96 3-77 2-18 2 3 3 24 2 100 5-112 2-6 3 13 4 81 3-68 2-17 2 3 3 26 2 114 2-98 3-33 2-5 2 13 5 76 2-65 3-17 2 3 2 25 3 113 2-97 2-32 3-7 2 13 5 81 2-69 2-18 3 2 2 23 2 92 3-69 2-36 2-8 3 10 2 38 2 69 3-89 2-21 3-1 2 19 2 67 5-71 2-12 3 6 2 30 2 196 3-195 2-28 2-5 3 14 4 78 3-68 2-18 2 0 3 21 2 73 5-81 2-11 2 6 3 28 2 159 2-153 3-30 2-7 2 11 3 38 2 75 2-94 3-23 2-3 7 85 3-64 2-18 2 0 3 18 2 60 2-12 3-50 2-15 2 2 3 20 2 72 5-80 2-13 2 3 3 22 2 80 5-92 2-12 2 3 3 23 2 80 5-92 2-13 2 3 3 21 2 72 5-81 2-14 2 2 3 19 2 59 2-9 3-52 2-17 3 0 2 15 5 79 2-70 2-21 3-4 2 11 2 34 3 127 2-135 2-28 3-8 2 6 2 23 3 81 4-94 3-14 2 0 2 15 5 92 2-79 3-23 2-6 2 7 3 25 2 85 5-100 2-15 2 0 5 48 2 108 3-119 5-38 2 3 2 18 5 77 5-91 2-7 2 6 5 75 2 2 3-57 2-20 2-5 3 5 2 21 2 55 3 150 2-204 2-21 3-6 2 5 2 17 5 83 5-96 2-9 2 2 3 14 2 34 2 155 3-158 4-45 3-2 2 9 2 22 3 61 2-10 5-74 2-8 3 2 2 13 2 30 3 112 4-136 3-16 2-5 2 4 5 47 2 156 3-153 4-49 3-5 2 3 2 13 3 30 2 102 2-84 5-57 2-7 3 1 2 10 7 91 5-89 2-11 2-3 3 4 5 40 2 78 5-91 2-20 2-9 3-2 4 17 3 375 2-281 5-76 4-32 3-4 2 3 5 28 4 142 3-116 2-32 5-24 2-1 2 3 5 30 5 137 2-112 2-31 5-25 2-3 3 2 5 21 4 89 4-101-2-11-2-5-3 0-4 16-5 62-2 79-3-99-2-31-5-24-2-3-2 3-3 9-4 54-3 152-2-155-3-34-4-26-3-2-2 4-2 11-7 99-5-95-5-18-2 1-2 9-5 59-2 84-3-102-2-31-5-20-2 2-2 9-3 20-4 85-5-100-2-12-3-4-2 5-5 42-2 99-2-80-5-58-3-7-2 1-2 11-5 88-5-70-4-29-3 287-2-277-5 91-4-74-5-28-2 2-3 12-2 29-2 108-3-93-4-54-3-4-2 5-2 18-5 90-2-77-3-26-2-9-2 0-5 43-2 133-3-125-5-50-2-2-2 9-3 25-2 78-5-92-2-17-2-4-3 8-2 23-2 70-5-79-2-18-3-4-4 32-3 80-4-93-3-16-2-3-5 39-2 132-2-123-5-48-2 1-3 14-4 105-3-88-2-26-2-7-3 5-2 22-3 70-4-79-3-16-2-2-5 49-2 87-2-103-3-27-2-8-2 7-3 24-2 87-5-104-2-13-2 1-3 17-2 52-2 10-3-60-2-19-2-3-5 52-2 67-3-90-2-24-2-6-3 9-2 33-2 140-3-147-2-28-2-8-3 7-2 29-3 157-2-153-2-32-3-9-2 6-2 28-3 136-2-129-2-33-3-10-2 7-2 28-3 149-2-144-2-32-3-9-2 7-2 31-3 169-2-172-2-29-3-7-2 9-2 35-3 93-2-108-2-26-3-5-2 12-5 84-2-75-2-21-3-2-2 16-2 56-3-6-2-53-2-17-3 2-2 22-3 88-4-105-3-11-2 6-2 31-3 141-2-149-2-28-3-5-2 12-5 71-2-67-2-19-3 0-2 21-2 79-5-95-2-11-3 7-2 32-2 112-3-125-2-26-2-4-3 14-2 54-2-2-3-55-2-16-2 3-3 26-2 144-2-140-3-32-2-7-3 11-4 70-3-67-2-19-2 1-3 23-2 103-2-90-3-36-2-9-2 10-5 80-2-74-3-21-2 0-2 21-3 94-4-116-3-10-2 9-5 81-2-76-2-21-3-1-2 21-2 99-5-123-2-10-3 9-4 73-3-73-2-21-3-1-2 21-2 112-5-143-2-11-3 8-4 60-3-69-2-24-2-4-3 19-2 134-2-147-3-45-4-38-3-7-2 0-5 19-4 64-3 228-2-206-2-21-3 2-2 21-2 59-3 5-2-50-2-10-3 8-2 33-2 220-3-215-2-25-3-1-2 17-2 59-3-2-2-51-2-12-3 8-2 31-2 214-3-212-2-26-2-3-3 17-2 55-2 2-3-53-2-13-2 6-3 28-2 182-2-175-3-29-2-5-2 15-5 69-2-61-3-16-2 4-2 24-3 107-4-123-3-7-2 11-5 99-2-82-3-21-2 0-2 19-3 68-4-73-3-12-2 7-2 416-5-384-2-29-3-5-2 12-5 85-2-72-2-20-3 0-2 19-2 66-5-70-2-13-3 5-2 26-2 114-3-100-2-34-2-8-3 8-2 34-2 121-3-129-2-26-2-5-3 12-5 95-2-80-2-22-3-2-2 15-5 70-2-63-2-18-3 0-2 17-2 55-3 1-2-55-2-16-3 0-2 18-2 58-3-6-2-52-2-16-3 1-2 17-2 56-3-1-2-54-2-17-3 0-7 83-2-61-2-19-3-2-2 14-5 93-2-79-3-22-2-5-2 11-3 33-2 135-2-141-3-28-2-8-2 6-3 25-2 87-5-103-2-14-2 2-3 16-4 71-3-65-2-20-2-5-3 9-2 30-2 136-3-129-4-46-3 2-2 17-5 75-2-67-2-22-3-6-2 7-2 24-3 78-4-91-3-16-2-2-5 41-2 138-3-132-2-34-2-12-3-1-4 46-3 142-2-146-2-31-3-11-2 0-5 45-2 154-2-155-5-45-2-1-3 11-2 28-2 103-3-86-4-54-3-3-2 7-5 78-2-1-5-78-2-7-2 2-5 47-3 153-2-153-2-33-3-14-2-4-5 25-4 92-3-79-4-37-3-2-2 8-2 20-5 78-5-95-2-10-2-2-3 7-4 58-3 74-2-95-5-42-2-4-2 4-3 13-4 113-5-103-2-19-3-8-2-1-5 23-2 34-3 148-2-148-2-35-5-24-2 0-3 7-4 47-3 116-4-143-3-19-2-8-2-3-5 15-2 22-5 80-5-97-4-21-3 0-2 4-5 34-4 85-5-102-5-22-2-2-3 2-4 24-3 28-2 79z"/></g><path d="M72.5 522.7 74.3 529.8M78.8 523.3 80.1 530.4M83.2 516.8 84.7 523.9 85.5 530.9M87.6 510.3 89.3 517.3 90.8 531.4M92.0 503.8 93.9 510.8 95.2 517.8 95.9 531.8M96.3 497.4 98.5 504.3 100.0 511.2 100.7 518.2 100.8 532.2M100.5 490.9 103.1 497.7 104.7 504.6 105.7 511.6 106.1 518.5 105.5 532.6M104.7 484.4 107.5 491.2 109.5 498.0 110.6 504.9 111.2 518.9 110.1 533.0M108.8 477.9 112.0 484.7 114.2 491.5 115.5 498.3 116.3 505.2 116.2 519.2 114.5 533.3M116.4 478.1 118.9 484.9 120.5 491.7 121.7 505.5 121.0 519.4 118.9 533.5M120.7 471.6 123.5 478.3 125.3 485.0 126.4 491.8 126.9 498.7 126.5 512.6 123.2 533.8M125.0 465.0 128.1 471.7 130.2 478.4 131.5 485.1 132.2 492.0 132.3 498.9 131.3 512.8 127.3 534.0M129.2 458.5 132.7 465.1 135.1 471.7 136.6 478.4 137.7 492.1 137.5 499.0 136.0 513.0 131.4 534.2M133.4 452.0 137.3 458.4 139.9 465.0 141.7 471.7 142.7 478.5 143.1 485.3 143.1 492.2 141.7 506.1 139.1 520.2 135.4 534.4M141.7 451.8 144.7 458.3 146.7 465.0 148.0 471.7 148.6 485.3 148.2 492.2 146.4 506.2 143.3 520.3 139.3 534.6M149.5 451.6 151.8 458.2 153.2 464.9 154.0 471.6 153.9 485.3 153.3 492.2 150.9 506.2 147.5 520.4 143.2 534.7M156.9 451.4 158.5 458.0 159.5 464.7 159.8 471.5 159.1 485.2 155.4 506.2 151.6 520.4 147.0 534.8M163.8 451.2 165.0 457.8 165.5 464.6 165.5 471.4 164.2 485.2 159.8 506.2 155.7 520.5 150.8 534.8M170.5 450.9 171.3 464.4 170.9 471.2 169.1 485.1 164.1 506.2 159.6 520.5 154.5 534.9M176.9 450.6 176.9 464.1 176.3 471.0 173.9 484.9 168.3 506.1 163.6 520.5 158.2 534.5M183.1 450.3 182.4 463.9 181.4 470.8 178.6 484.8 174.7 498.9 170.0 513.2 161.8 534.1M189.0 449.9 187.7 463.6 183.2 484.6 176.6 505.8 165.3 533.6M194.9 449.5 194.1 456.3 191.5 470.2 185.6 491.4 177.9 512.3 168.9 533.1M200.5 449.0 198.0 462.9 192.3 484.0 184.6 504.8 172.4 532.6M206.0 448.5 203.1 462.5 196.7 483.4 188.6 504.3 175.9 532.0M211.4 448.0 208.0 462.0 201.0 482.9 192.5 503.7 179.3 531.4M216.7 447.4 212.8 461.4 205.3 482.2 196.3 503.1 182.7 530.7M222.0 446.8 217.6 460.7 209.5 481.6 200.1 502.4 186.1 530.0M227.1 446.1 222.3 460.0 213.7 480.9 203.9 501.6 189.5 529.3M232.1 445.4 226.9 459.3 217.9 480.1 207.7 500.8 192.8 528.5M237.1 444.6 231.5 458.4 222.0 479.2 211.4 500.0 196.1 527.6M242.0 443.6 236.1 457.5 226.1 478.3 215.1 499.0 199.4 526.6M246.9 442.6 240.5 456.5 230.1 477.2 218.8 498.0 202.7 525.5M251.7 441.5 245.0 455.4 234.1 476.1 222.5 496.8 206.0 524.4M256.4 440.3 238.1 474.8 226.1 495.5 209.3 523.0M261.2 438.8 242.1 473.3 212.5 521.5M265.9 437.2 246.0 471.7 215.7 519.8M270.5 435.3 250.0 469.7 219.0 517.9M275.2 432.9 253.9 467.4 222.2 515.5M279.8 430.0 257.8 464.4 225.4 512.5M284.4 426.3 261.7 460.7 228.6 508.7M311.7 427.4 247.7 509.5M316.3 431.5 250.9 513.5M320.9 434.7 292.6 468.9 254.1 516.7M325.4 437.4 296.5 471.5 257.3 519.4M330.0 439.7 300.4 473.8 260.5 521.6M334.7 441.7 304.3 475.8 263.7 523.6M339.3 443.5 308.2 477.6 266.9 525.3M344.0 445.1 312.1 479.2 270.1 526.9M348.7 446.6 316.1 480.6 273.4 528.3M353.4 448.0 320.0 482.0 276.6 529.6M358.2 449.3 324.0 483.2 304.7 503.6 279.9 530.9M363.0 450.5 328.1 484.4 308.4 504.8 283.2 532.0M367.9 451.7 353.1 465.2 332.1 485.5 312.1 505.9 286.5 533.1M372.8 452.7 357.7 466.1 336.2 486.6 315.8 506.9 289.8 534.1M377.8 453.8 362.3 467.1 340.3 487.4 312.8 514.7 293.1 535.1M382.9 454.7 367.0 467.9 344.5 488.1 323.3 508.7 296.4 536.0M388.0 455.7 371.7 468.8 348.7 488.8 327.1 509.3 299.8 536.9M393.2 456.6 376.4 469.6 352.9 489.5 330.9 509.8 303.2 537.4M398.6 457.5 381.3 470.3 357.2 490.1 334.8 510.3 306.6 537.8M404.0 458.3 386.2 471.1 361.6 490.7 338.7 510.8 310.1 538.2M409.5 459.2 391.3 471.8 366.0 491.2 342.7 511.3 313.6 538.5M415.2 460.0 396.4 472.4 370.5 491.8 346.7 511.7 317.1 538.8M421.1 460.8 401.7 473.1 375.1 492.3 350.7 512.1 320.6 539.1M427.1 461.5 407.0 473.7 379.7 492.8 354.8 512.4 324.2 539.3M433.3 462.3 412.5 474.4 384.5 493.2 359.0 512.8 327.8 539.5M439.8 463.0 418.2 475.0 389.3 493.7 363.3 513.1 331.5 539.7M446.5 463.8 424.0 475.6 413.7 481.6 394.2 494.1 367.6 513.4 351.0 526.6 335.2 539.9M453.6 464.5 430.1 476.1 419.4 482.2 399.3 494.5 372.0 513.7 355.1 526.8 339.0 540.1M461.0 465.3 436.4 476.7 425.2 482.7 404.5 494.9 376.5 513.9 359.2 527.0 342.8 540.2M468.9 466.0 443.0 477.3 431.3 483.2 409.9 495.3 381.1 514.2 363.4 527.1 346.7 540.3M477.4 466.8 463.0 472.2 449.9 477.8 437.7 483.6 415.4 495.6 385.7 514.4 367.7 527.3 350.7 540.4M471.2 472.9 457.2 478.4 444.4 484.1 432.4 490.0 410.5 502.1 381.2 521.0 354.7 540.5M465.0 478.9 438.9 490.4 416.1 502.4 405.6 508.6 385.9 521.1 358.8 540.5M458.9 485.0 433.4 496.6 411.0 508.8 390.7 521.3 363.0 540.6M452.9 491.1 427.9 502.9 405.9 515.1 385.9 527.7 367.2 540.6M446.9 497.2 434.3 503.1 411.4 515.3 390.7 527.8 371.6 540.6M441.0 503.3 428.7 509.3 406.1 521.6 376.1 540.6M448.2 503.5 435.2 509.5 411.7 521.6 400.9 527.9 380.7 540.6M442.1 509.6 417.5 521.7 406.3 527.9 385.5 540.5M436.0 515.6 411.9 527.9 390.4 540.5M430.0 521.7 417.8 527.8 395.5 540.4M424.0 527.8 400.9 540.2M418.1 533.8 406.4 540.1" fill="none" stroke="#fff" stroke-opacity=".85" stroke-width=".8" stroke-dasharray="1.2 1.2"/><g transform="scale(0.25)" fill="url(#lb)" stroke="url(#gb)" stroke-width="4.4" stroke-linejoin="round"><path transform="translate(511,2277)" d="M644 -547l2 -33 5-24 2 6 5 50 2-67 3 0 4-50 5-23 2-6 3-2 2 0 7 22 7 61 3 0 2 64 2-36 3-15 2-1 5 32 2 38 2 4 7-45 3 1 2 11 5 54 2 2 5-43 2-6 2 3 3 13 2 29 4-11-2-26-2-11-3-2-4 29-3 39-2-3-5-73-2-10-3-1-2 9-5 54-4-62-5-30-2 1-3 15-2 35-2-64-3 0-7-60-7-22-2-1-2 2-5 15-7 64-2 1-3 85-2-45-5-30-4 20-3 30z"/><path transform="translate(507,2282)" d="M644 -553l7 -50 2 3 5 33 2-48 3 0 7-63 4-16 3-2 2 0 7 21 7 62 3 0 2 47 5-34 2-1 7 51 5 8 2-22 2-8 3 2 4 37 5 11 7-31 2 4 5 40 4-5-2-28-2-13-3-4-2 7-5 43-2-3-5-53-2-11-3-2-7 45-2-3-2-39-5-31-2 1-3 15-2 36-2-65-3 0-7-61-7-21-2-1-2 3-3 5-4 24-5 50-2 0-3 66-4-50-3-5-4 23-3 34z"/><path transform="translate(502,2288)" d="M644 -590l8 -15 7 0 1-10 3 0 7-61 3-14 5-7 4 4 3 12 7 61 1 7 3 0 1 9 7 1 14 24 20 23 13 41-4-39-3-5-7 31-5-10-4-38-3-2-2 8-2 22-5-7-7-51-2 1-5 34-2-48-3 0-7-61-7-21-2-1-2 3-5 16-7 63-2 0-3 47-4-32-3-4-7 50z"/><path transform="translate(498,2293)" d="M643 -588l9 -17 7 0 2-10 2 0 7-61 5-17 2-3 2 0 4 6 3 15 6 57 1 5 3 0 1 9 7 1 14 25 20 23 4-6-20-23-14-24-7-1-1-10-3 0-1-6-7-62-3-11-4-4-5 6-3 14-7 62-2 0-2 9-7 0-8 15z"/><path transform="translate(494,2299)" d="M643 -588l10 -16 7-1 1-10 2 0 1-3 6-58 5-17 4-3 4 6 4 15 5 58 2 4 2 0 1 9 7 2 14 24 20 23 4-6-20-23-14-24-7-1-1-10-2 0-2-5-5-57-4-14-4-7-2 0-2 3-5 18-7 61-2 0-1 9-7 1-10 16z"/><path transform="translate(490,2304)" d="M644 -588l10 -18 7 1 1-10 2-1 7-65 4-12 4-3 4 6 4 15 6 60 2 2 1 9 7 0 15 27 20 22 4-6-20-22-14-25-7-1-1-10-2 0-1-3-6-58-4-15-4-7-4 3-5 18-6 58-1 3-2 0-1 9-7 1-10 17z"/><path transform="translate(486,2310)" d="M644 -588l10 -18 7 1 1-10 3 0 5-60 5-18 4-3 4 6 4 16 6 61 2 0 1 9 7 0 15 27 20 22 4-5-20-23-15-26-7 0-1-10-2-1-6-60-4-15-4-7-4 4-3 11-7 65-3 2-1 9-7 0-10 17z"/><path transform="translate(482,2315)" d="M644 -587l10 -19 7 1 1-10 3 0 6-60 3-15 2-5 3-1 3 3 4 13 7 67 2 0 1 9 7 0 16 27 19 23 4-6-19-23-16-26-7 0-1-10-2 0-6-61-4-15-4-7-4 4-4 18-6 60-3 0-1 9-7 0-10 18z"/><path transform="translate(478,2321)" d="M644 -586l10 -19 7 0 2-10 2 0 6-59 3-16 5-7 4 4 3 13 7 67 2 0 2 9 7 1 14 25 20 24 4-6-19-22-15-27-7 0-2-10-2 0-7-67-4-12-3-4-2 2-3 5-3 15-6 60-2 0-2 9-7 0-10 19z"/><path transform="translate(474,2326)" d="M644 -586l11 -19 7 0 1-10 2 0 6-59 3-16 5-7 4 5 3 12 7 67 3 0 1 9 7 1 14 25 20 24 4-6-20-23-14-26-7 0-1-10-3 0-7-67-3-12-4-4-5 7-3 15-6 60-2 0-1 9-7 0-11 19z"/><path transform="translate(469,2331)" d="M645 -587l10 -18 7 0 1-10 2 0 7-65 4-13 2-3 2 0 6 16 7 67 3 0 1 9 7 1 19 32 26 28-7-16-20-24-14-25-7-1-1-10-3 0-7-66-3-13-4-4-4 7-4 16-6 59-2 0-1 9-7 1-11 19z"/><path transform="translate(465,2337)" d="M646 -587l10 -18 6 0 1-10 2 0 7-65 4-13 2-3 3 0 5 17 8 66 2 0 1 9 6 0 20 34 26 27 5-6-27-27-19-32-7-1-1-10-3 0-7-66-5-17-3 0-2 4-4 12-7 66-2 0-1 9-7 1-10 17z"/><path transform="translate(461,2342)" d="M646 -587l10 -18 6 0 1-10 3 0 7-65 3-13 2-3 3 0 6 17 7 66 2 0 1 9 6 0 20 34 26 27 5-6-27-27-20-33-6 0-1-10-2 0-7-66-6-17-3 0-2 4-3 13-7 65-3 0-1 9-6 0-10 19z"/><path transform="translate(457,2348)" d="M646 -586l10 -19 6 0 1-10 3 0 7-64 3-14 4-3 3 4 4 13 7 66 2 0 1 9 6 0 20 34 26 27 5-5-27-27-20-34-6 0-1-10-2 0-7-66-6-16-2-1-3 4-3 13-7 65-3 0-1 9-6 0-10 19z"/><path transform="translate(453,2353)" d="M645 -584l11 -21 6 0 2-10 2 0 7-64 3-13 4-4 3 4 4 13 6 58 1 8 2 0 1 9 6 0 19 33 27 29 5-6-27-27-20-34-6 0-1-10-2 0-7-65-4-14-3-4-4 4-3 13-7 65-3 0-1 9-6 1-10 18z"/><path transform="translate(449,2359)" d="M646 -585l11 -20 7 0 3-16 6-58 4-13 3-4 4 4 3 14 6 58 3 16 7 1 19 33 27 28 5-6-28-28-19-33-5 0-2-10-2 0-1-8-6-57-3-14-4-4-3 4-4 13-7 65-2 0-2 9-5 0-12 22z"/><path transform="translate(445,2364)" d="M646 -585l11 -20 7 0 3-14 6-60 4-13 3-4 4 4 3 14 6 60 4 14 7 1 18 33 27 28 5-6-28-28-18-33-7 0-4-16-6-59-3-14-4-4-3 4-4 14-6 58-3 15-7 0-11 20z"/><path transform="translate(441,2370)" d="M646 -585l11 -20 7 0 1-10 2-3 6-60 4-14 3-4 4 4 3 14 6 61 3 4 1 9 7 1 18 33 27 28 5-5-28-29-18-33-7 0-4-15-6-60-3-14-4-4-3 4-4 14-6 59-3 14-7 1-11 19z"/><path transform="translate(437,2375)" d="M647 -584l10 -20 7-1 1-10 2 1 6-64 4-14 3-4 4 4 4 14 5 63 3 2 1 9 7 2 19 33 26 28 5-6-27-28-19-33-7-1-1-10-3-3-6-61-3-14-4-5-3 4-4 14-5 61-3 3-1 9-7 1-10 20z"/><path transform="translate(432,2381)" d="M647 -584l10 -20 7-1 1-10 3 0 6-63 3-14 4-4 3 4 4 15 6 63 2 1 1 9 6 0 20 35 26 28 5-6-27-28-19-33-7-1-1-10-3-2-5-62-4-14-3-5-4 4-3 14-6 64-3 0-1 9-7 1-10 20z"/><path transform="translate(428,2386)" d="M646 -582l13 -23 5 0 2-10 2 1 6-64 3-14 4-4 3 4 4 15 6 64 2 0 1 9 6 0 20 35 26 28 5-6-27-28-20-34-6 0-1-10-2 0-6-64-4-14-3-5-4 4-3 15-6 63-2 0-2 9-7 2-10 20z"/><path transform="translate(424,2392)" d="M647 -583l12 -22 5 0 2-10 2 1 6-63 3-15 4-4 3 4 4 15 6 64 2 0 1 9 6 0 10 19 10 17 26 27 5-5-27-28-20-35-6 0-1-10-2 0-6-64-4-14-3-5-4 4-3 15-6 63-2 0-2 9-5 0-13 24z"/><path transform="translate(420,2397)" d="M646 -581l13 -24 6 0 1-10 2 1 6-63 4-15 3-4 4 4 3 15 6 64 2 0 1 9 6 0 19 34 27 30 5-6-27-28-10-16-10-19-6 0-1-10-2 0-6-63-3-15-4-5-4 5-3 14-6 63-2 0-1 9-6 0-12 22z"/><path transform="translate(416,2403)" d="M647 -583l12 -22 6 0 1-10 2 1 6-63 4-15 3-4 4 4 3 16 6 63 2 0 2 9 5 0 9 18 10 17 27 29 5-6-28-29-19-34-5 0-2-10-2 0-6-63-3-15-4-5-3 5-4 14-6 63-2 0-1 9-6 0-13 24z"/><path transform="translate(412,2408)" d="M647 -582l12 -23 6 0 1-10 2 1 6-63 4-15 3-4 4 4 3 16 6 63 3 0 1 9 6 1 8 17 10 17 27 29 5-6-28-29-10-16-8-18-6 0-1-10-3 0-6-63-3-15-4-5-3 5-4 15-6 62-2 0-1 9-6 0-12 23z"/><path transform="translate(408,2414)" d="M647 -582l12 -23 6 0 1-10 3 1 5-62 4-16 3-4 4 5 2 9 7 69 3 0 1 9 6 1 8 18 10 16 27 29 5-5-28-29-10-17-8-18-6 0-1-10-3 0-6-63-3-15-4-5-3 5-4 15-5 62-3 0-1 9-6 1-12 22z"/><path transform="translate(404,2419)" d="M646 -580l13 -24 6-1 1-10 3 1 6-62 3-16 4-4 3 5 2 9 7 69 3 0 1 9 6 1 8 18 11 17 26 28 5-5-27-29-11-17-8-17-6-1-1-10-3 0-7-69-2-9-3-5-4 5-3 15-6 62-3 0-1 9-6 1-11 23z"/><path transform="translate(399,2425)" d="M647 -579l12 -25 7-1 1-9 2 0 6-62 3-16 4-4 3 5 4 16 6 62 2 9 7 2 8 17 11 17 26 29 5-6-27-29-11-16-8-18-6-1-1-10-2 0-7-69-3-9-3-5-4 5-3 15-6 62-3 0-1 9-6 1-12 25z"/><path transform="translate(395,2430)" d="M648 -581l13 -24 6 0 3-19 5-51 3-17 4-4 3 5 4 16 5 52 3 19 6 0 20 36 26 29 5-6-27-28-11-17-8-18-7-1-2-10-6-62-4-16-3-5-4 5-3 16-6 61-1 0-1 9-7 1-13 25z"/><path transform="translate(391,2436)" d="M647 -579l14 -26 6 0 3-18 5-52 3-17 4-4 3 5 4 16 5 53 3 18 6 0 9 20 11 17 26 28 5-6-27-28-20-36-6 0-3-20-5-51-4-17-3-5-4 5-3 16-5 51-3 19-6 0-13 25z"/><path transform="translate(387,2441)" d="M647 -578l14 -27 6 0 0-9 2 0 1-8 5-53 4-16 3-5 4 5 3 17 5 53 3 17 6 0 19 35 16 19 11 11 5-5-27-29-11-16-9-20-6 0-3-18-5-53-3-17-4-5-3 5-4 16-5 53-3 17-6 0-14 27z"/><path transform="translate(383,2447)" d="M648 -580l13 -25 6 0 0-9 2 0 1-6 6-62 3-11 3-3 4 5 2 10 6 62 3 15 6 0 8 18 11 18 16 19 11 11 5-6-12-11-16-19-19-35-6 0-3-17-5-54-3-17-4-5-3 5-4 17-5 53-1 7-1 0-1 9-6 0-14 27z"/><path transform="translate(379,2452)" d="M648 -580l13 -25 6 0 1-9 3-5 4-55 4-17 3-5 4 5 2 10 6 63 3 14 6 0 9 19 10 17 16 19 11 11 5-6-12-11-16-19-10-17-9-18-6 0-3-16-6-62-2-10-4-5-3 4-3 11-5 61-2 6-1 0-1 9-6 0-13 26z"/><path transform="translate(375,2458)" d="M648 -579l13 -26 6 0 1-9 3-3 6-64 2-11 3-4 4 5 2 10 6 64 2 4 2 9 5 1 9 18 10 17 27 30 5-6-12-11-16-18-10-18-9-18-5 0-4-14-6-64-2-10-4-5-3 5-4 17-4 56-3 4 0 10-7-1-13 26z"/><path transform="translate(371,2463)" d="M649 -579l12 -26 6 0 1-9 3-2 4-58 4-17 4-5 3 5 2 10 6 66 3 2 1 9 6 1 8 18 10 18 27 29 5-5-28-30-10-17-8-19-6 0-1-10-3-3-6-64-2-10-3-6-4 4-2 11-6 64-3 3 0 10-7 0-12 25z"/><path transform="translate(366,2468)" d="M647 -577l15 -27 5-1 2-9 2-1 5-59 3-17 4-5 3 5 2 10 6 67 3 1 1 9 6 1 8 19 10 17 27 29 5-5-28-30-10-17-8-18-6-1-1-10-3-2-6-65-2-10-3-6-4 5-3 18-5 57-2 2-1 10-6 0-13 26z"/><path transform="translate(362,2474)" d="M648 -577l14 -27 6-1 1-9 2 0 5-59 3-18 4-5 3 5 3 11 5 67 3 0 1 9 6 2 8 18 11 17 26 30 5-6-27-29-11-18-8-18-6-1-1-10-3 0-5-67-3-10-3-6-4 5-3 18-5 59-2 0-1 10-6 0-14 28z"/><path transform="translate(358,2479)" d="M649 -578l13 -26 6-1 1-9 2 0 5-59 3-17 4-6 3 5 3 11 6 67 2 0 1 9 5 0 20 38 26 29 5-6-27-29-11-17-8-19-6-1-1-10-2 0-6-67-3-10-3-6-4 6-3 17-5 59-2 0-1 10-6 0-14 28z"/><path transform="translate(354,2485)" d="M649 -578l13 -25 1-2 5 0 1-9 2 0 5-59 3-17 4-6 3 5 3 11 6 67 2 0 1 9 5 0 9 21 11 17 26 29 5-6-27-29-20-37-5 0-1-10-2 0-6-67-3-10-3-6-4 6-3 18-5 58-2 0-1 10-6 1-13 25z"/><path transform="translate(350,2490)" d="M648 -576l15 -29 5 0 1-9 2 0 5-58 4-19 3-5 4 5 2 11 6 67 2 0 1 9 5 0 19 37 16 19 11 11 5-5-27-30-11-17-9-20-5 0-1-10-2 0-6-66-2-11-4-6-4 6-3 18-5 58-2 0-1 10-5-1-1 2-13 26z"/><path transform="translate(346,2496)" d="M649 -577l14 -28 5 0 1-9 2 0 5-58 4-19 3-5 4 6 2 10 6 67 2 0 1 9 5 0 11 23 12 20 23 25 5-6-12-11-16-20-19-36-5 0-1-10-2 0-6-66-2-11-4-6-3 6-4 18-5 58-2 0-1 10-5-1-15 30z"/><path transform="translate(342,2501)" d="M649 -577l14 -28 6 0 3-9 5-66 3-11 3-5 4 6 2 11 6 66 2 9 6 0 8 19 11 18 16 20 11 11 5-6-24-25-12-19-11-23-4 0-2-10-2 0-6-66-2-11-4-6-3 6-4 19-4 57-3 0-1 10-5-1-14 28z"/><path transform="translate(338,2507)" d="M649 -577l14 -28 6 0 3-9 6-66 2-11 3-5 4 6 2 11 6 66 2 9 6 0 8 20 11 18 16 19 11 11 5-6-12-11-16-19-10-18-9-19-6 0-2-10-6-66-2-11-4-6-3 6-2 11-6 65-3 10-6-1-14 29z"/><path transform="translate(334,2512)" d="M650 -576l14 -29 5 0 3-9 6-65 2-12 3-5 4 6 2 11 6 66 3 9 5 1 9 19 10 18 16 19 11 11 5-5-12-12-16-19-10-18-9-19-5 0-3-10-6-66-2-11-3-6-4 6-2 11-6 65-3 10-5-1-14 29z"/><path transform="translate(329,2518)" d="M648 -574l16 -31 6 0 2-9 6-65 2-11 4-6 3 6 2 11 6 66 3 9 6 1 8 19 10 18 16 19 11 11 5-5-12-11-16-20-10-18-8-19-6 0-3-10-6-65-2-12-3-6-4 6-2 11-6 65-2 10-6 0-14 28z"/><path transform="translate(325,2523)" d="M649 -574l15 -30 6-1 2-9 6-65 2-11 4-6 3 6 3 12 5 65 3 9 6 1 8 20 10 17 16 19 11 12 5-6-12-11-16-19-10-18-8-20-6 0-3-10-5-65-3-12-3-6-4 6-2 11-6 65-2 10-6 0-15 30z"/><path transform="translate(321,2529)" d="M650 -575l14 -29 6-1 3-20 5-54 2-11 4-6 3 6 3 12 4 54 4 20 6 2 8 19 10 18 16 19 11 11 5-6-12-11-16-19-10-18-8-19-6-1-2-10-6-65-3-12-3-6-4 6-2 12-6 64-2 10-6 0-15 31z"/><path transform="translate(317,2534)" d="M649 -573l15 -31 6-1 3-19 5-55 2-11 4-6 3 6 3 12 4 55 4 19 6 2 8 19 11 18 15 19 11 11 5-6-12-11-15-19-11-18-8-19-6-1-4-20-4-55-3-12-3-6-4 6-2 12-5 54-3 20-6 0-14 29z"/><path transform="translate(313,2540)" d="M650 -575l14 -28 1-2 5 0 3-18 5-55 2-12 4-6 4 6 2 12 5 56 3 18 5 0 1 2 9 22 13 20 23 25 5-5-12-12-15-18-11-18-8-20-6-1-3-19-5-56-2-11-4-7-3 6-3 12-5 55-3 19-6 1-15 30z"/><path transform="translate(309,2545)" d="M649 -573l16 -32 5 0 4-17 4-56 3-12 3-6 4 6 2 12 5 58 3 16 5 0 10 24 13 20 23 25 5-5-24-25-13-21-9-21-1-2-5 0-3-18-5-56-2-12-4-7-3 6-3 12-4 56-4 18-5-1-1 2-14 29z"/><path transform="translate(305,2551)" d="M649 -572l16 -33 5 0 4-15 4-58 3-12 3-6 4 6 2 13 5 58 3 15 5 0 10 24 13 20 23 26 5-6-24-25-13-20-10-24-5 0-3-17-5-57-2-12-4-7-3 6-3 12-4 57-4 17-5-1-16 33z"/><path transform="translate(301,2556)" d="M650 -574l16 -31 4 0 4-14 4-59 3-12 3-6 4 6 2 13 5 59 3 14 5 0 11 25 12 20 23 25 5-6-24-25-12-20-11-24-5 0-3-16-5-58-2-12-4-7-3 6-3 13-4 57-4 16-4-1-17 33z"/><path transform="translate(296,2562)" d="M650 -574l16 -31 4 0 1-9 3-4 5-59 2-13 3-6 4 6 2 13 5 60 2 4 1 9 5 0 11 25 11 19 24 26 5-6-24-25-12-20-11-24-5 0-3-15-5-59-2-12-4-7-3 7-2 12-5 59-4 14-4-1-16 32z"/><path transform="translate(292,2567)" d="M651 -573l15 -32 4 0 2-9 2-2 5-61 2-13 3-6 4 6 2 13 5 61 2 3 2 9 4 0 10 23 12 21 24 26 5-5-25-27-11-19-11-24-4 0-2-10-2-3-5-61-2-12-4-7-3 7-2 12-5 60-2 3-2 10-4-1-15 32z"/><path transform="translate(288,2573)" d="M651 -573l15 -32 5 0 1-9 2-1 5-62 2-13 4-6 3 7 2 12 5 63 2 1 2 9 4 1 10 22 13 21 23 26 5-5-24-26-13-22-10-22-4 0-2-10-2-2-5-61-2-13-3-7-4 7-2 12-5 61-2 2-1 10-5-1-15 32z"/><path transform="translate(284,2578)" d="M651 -581l2 -3 3 18 2 86 2-74 5-58 2 2 3 30 2 59 5-138 2-20 5-17 2 1 3 7 4 39 5 172 2-116 3-18 2 4 2 22 3 64 2-6 2-46 3-9 2 9 2 32 3 271 2-264 2-26 3-2 2 17 2 52 3 16 2-57 2-14 3 5 2 27 2 117 3-101 2-31 0-8-24-26-13-21-10-23-4 0-1-10-3-1-4-62-3-13-3-7-4 7-2 12-5 62-2 1-1 10-5 0-15 32z"/><path transform="translate(280,2584)" d="M651 -580l2 -4 3 15 2 69 5-94 2-17 2 1 3 26 2 84 2-119 3-38 5-34 2-5 2 1 5 21 2 24 5 179 2-122 3-18 2 4 2 22 3 66 2-10 2-44 3-9 2 9 2 34 3 174 2-171 2-24 3-1 2 18 2 57 3 1 2-51 2-13 3 7 2 30 2 198 3-191 2-28 4-4-2 32-2 101-3-118-2-27-2-5-3 14-2 58-2-17-3-52-2-16-3 2-2 26-2 263-3-271-2-32-2-9-3 10-2 46-2 6-3-64-2-23-2-4-3 18-2 117-5-172-4-39-3-7-2-1-5 16-2 21-5 138-2-60-2-29-3-2-4 58-3 73-2-85-2-18-3 2z"/><path transform="translate(276,2589)" d="M651 -578l2 -7 3 13 2 58 5-78 2-19 2 0 3 24 2 119 2-148 3-40 5-34 2-6 2 1 5 21 5 69 2 140 2-128 3-18 2 4 2 23 3 67 2-13 2-44 3-8 2 10 2 35 3 131 2-132 2-23 3 0 2 20 2 64 5-61 2-11 3 9 2 33 2 137 3-140 2-24 4-4-2 27-2 191-3-197-2-30-2-7-3 12-2 51-2 0-3-58-2-18-3 1-2 24-2 172-3-174-2-34-2-10-3 9-2 45-2 10-3-66-2-23-2-4-3 18-2 122-5-178-2-24-5-22-2 0-2 5-5 33-2 38-3 119-2-83-2-27-3-1-2 17-5 95-2-70-2-15-3 5z"/><path transform="translate(272,2595)" d="M651 -576l2 -9 3 11 2 49 2-4 3-60 2-21 2-2 3 21 2 207 2-228 5-65 5-19 2 1 3 6 4 38 3 45 2 148 2-135 3-18 2 4 2 23 3 69 4-59 3-8 2 11 5 142 2-111 2-21 3 1 2 21 2 72 5-73 2-9 3 10 4 123 3-98 2-21 4-5-2 25-2 140-3-137-2-34-2-8-3 10-4 61-3-64-2-19-3 0-2 22-2 133-3-131-2-36-2-10-3 9-2 43-2 14-3-68-2-23-2-4-3 18-2 128-2-139-5-70-5-21-2 0-2 5-5 35-2 40-3 147-2-119-2-24-3 1-2 19-5 77-2-57-2-13-3 7z"/><path transform="translate(268,2600)" d="M651 -574l2 -11 3 9 4 58 3-68 2-23 2-3 3 19 2 158 2-174 3-44 5-36 2-7 2 1 5 20 5 68 2 157 2-143 3-18 2 4 2 23 3 71 4-62 3-7 2 11 5 126 2-97 2-20 3 2 2 23 2 83 5-87 2-8 3 12 4 96 3-77 2-18 4-5-2 21-2 99-5-123-2-10-3 9-4 73-3-73-2-21-3-1-2 21-2 112-5-143-2-11-3 8-4 60-3-69-2-24-2-4-3 19-2 134-2-147-3-45-4-38-3-7-2 0-5 19-4 64-3 228-2-206-2-21-3 2-2 21-2 59-3 5-2-50-2-10-3 8z"/></g><line x1="66.9" y1="650.0" x2="66.9" y2="469.2" stroke="#404040" stroke-width="0.8"/><line x1="66.9" y1="650.0" x2="418.2" y2="663.8" stroke="#404040" stroke-width="0.8"/><line x1="418.2" y1="663.8" x2="480.0" y2="581.6" stroke="#404040" stroke-width="0.8"/><line x1="66.9" y1="627.2" x2="57.9" y2="627.2" stroke="#404040" stroke-width="0.8"/><line x1="66.9" y1="595.6" x2="57.9" y2="595.6" stroke="#404040" stroke-width="0.8"/><line x1="66.9" y1="564.0" x2="57.9" y2="564.0" stroke="#404040" stroke-width="0.8"/><line x1="66.9" y1="532.4" x2="57.9" y2="532.4" stroke="#404040" stroke-width="0.8"/><line x1="66.9" y1="500.8" x2="57.9" y2="500.8" stroke="#404040" stroke-width="0.8"/><line x1="66.9" y1="469.2" x2="57.9" y2="469.2" stroke="#404040" stroke-width="0.8"/><line x1="66.9" y1="650.0" x2="61.5" y2="657.2" stroke="#404040" stroke-width="0.8"/><line x1="125.5" y1="652.3" x2="120.0" y2="659.5" stroke="#404040" stroke-width="0.8"/><line x1="184.0" y1="654.6" x2="178.6" y2="661.8" stroke="#404040" stroke-width="0.8"/><line x1="242.6" y1="656.9" x2="237.1" y2="664.1" stroke="#404040" stroke-width="0.8"/><line x1="301.1" y1="659.2" x2="295.7" y2="666.4" stroke="#404040" stroke-width="0.8"/><line x1="359.6" y1="661.5" x2="354.2" y2="668.7" stroke="#404040" stroke-width="0.8"/><line x1="418.2" y1="663.8" x2="412.8" y2="671.0" stroke="#404040" stroke-width="0.8"/><line x1="480.0" y1="581.6" x2="489.0" y2="582.0" stroke="#404040" stroke-width="0.8"/><line x1="459.4" y1="609.0" x2="468.4" y2="609.4" stroke="#404040" stroke-width="0.8"/><line x1="438.8" y1="636.4" x2="447.8" y2="636.8" stroke="#404040" stroke-width="0.8"/><line x1="418.2" y1="663.8" x2="427.2" y2="664.2" stroke="#404040" stroke-width="0.8"/><g font-size="12.4" font-family="Liberation Sans, Arial, Helvetica, sans-serif" fill="#262626"><text x="52.1" y="631.6" text-anchor="end">-100</text><text x="52.1" y="600.0" text-anchor="end">-80</text><text x="52.1" y="568.4" text-anchor="end">-60</text><text x="52.1" y="536.8" text-anchor="end">-40</text><text x="52.1" y="505.2" text-anchor="end">-20</text><text x="52.1" y="473.6" text-anchor="end">0</text><text x="58.2" y="674.2" text-anchor="end">-60</text><text x="116.7" y="676.5" text-anchor="end">-40</text><text x="175.3" y="678.8" text-anchor="end">-20</text><text x="233.8" y="681.1" text-anchor="end">0</text><text x="292.4" y="683.4" text-anchor="end">20</text><text x="350.9" y="685.7" text-anchor="end">40</text><text x="409.5" y="688.0" text-anchor="end">60</text><text x="494.5" y="595.0">0.7</text><text x="473.9" y="622.4">0.8</text><text x="453.3" y="649.8">0.9</text><text x="432.7" y="677.2">1</text></g><text transform="translate(21.0,562.6) rotate(-90)" text-anchor="middle" font-size="12.8" font-family="Liberation Sans, Arial, Helvetica, sans-serif" fill="#262626">Gain (dB)</text><text x="227" y="691.7" text-anchor="middle" font-size="14" font-family="Liberation Sans, Arial, Helvetica, sans-serif" fill="#262626">Angle (degree)</text><text transform="translate(467.6,687.7) rotate(-52.5)" font-size="14.3" font-family="Liberation Sans, Arial, Helvetica, sans-serif" fill="#262626">Frequency (GHz)</text><text x="266" y="715" text-anchor="middle" font-family="Liberation Serif, serif" font-weight="bold" font-size="21" fill="#111">(b)</text><line x1="137.0" y1="931.9" x2="137.0" y2="766.7" stroke="#e3e3e3" stroke-width="0.8"/><line x1="194.4" y1="934.1" x2="194.4" y2="769.0" stroke="#e3e3e3" stroke-width="0.8"/><line x1="251.8" y1="936.4" x2="251.8" y2="771.2" stroke="#e3e3e3" stroke-width="0.8"/><line x1="309.2" y1="938.6" x2="309.2" y2="773.5" stroke="#e3e3e3" stroke-width="0.8"/><line x1="366.5" y1="940.9" x2="366.5" y2="775.7" stroke="#e3e3e3" stroke-width="0.8"/><line x1="423.9" y1="943.1" x2="423.9" y2="778.0" stroke="#e3e3e3" stroke-width="0.8"/><line x1="481.3" y1="945.4" x2="481.3" y2="780.2" stroke="#e3e3e3" stroke-width="0.8"/><line x1="137.0" y1="921.2" x2="481.3" y2="934.7" stroke="#e3e3e3" stroke-width="0.8"/><line x1="137.0" y1="890.3" x2="481.3" y2="903.8" stroke="#e3e3e3" stroke-width="0.8"/><line x1="137.0" y1="859.4" x2="481.3" y2="872.9" stroke="#e3e3e3" stroke-width="0.8"/><line x1="137.0" y1="828.5" x2="481.3" y2="842.0" stroke="#e3e3e3" stroke-width="0.8"/><line x1="137.0" y1="797.6" x2="481.3" y2="811.1" stroke="#e3e3e3" stroke-width="0.8"/><line x1="137.0" y1="766.7" x2="481.3" y2="780.2" stroke="#e3e3e3" stroke-width="0.8"/><line x1="137.0" y1="766.7" x2="481.3" y2="780.2" stroke="#e3e3e3" stroke-width="0.8"/><line x1="75.1" y1="997.6" x2="137.0" y2="921.2" stroke="#e3e3e3" stroke-width="0.8"/><line x1="75.1" y1="966.7" x2="137.0" y2="890.3" stroke="#e3e3e3" stroke-width="0.8"/><line x1="75.1" y1="935.8" x2="137.0" y2="859.4" stroke="#e3e3e3" stroke-width="0.8"/><line x1="75.1" y1="904.9" x2="137.0" y2="828.5" stroke="#e3e3e3" stroke-width="0.8"/><line x1="75.1" y1="874.0" x2="137.0" y2="797.6" stroke="#e3e3e3" stroke-width="0.8"/><line x1="75.1" y1="843.1" x2="137.0" y2="766.7" stroke="#e3e3e3" stroke-width="0.8"/><line x1="75.1" y1="843.1" x2="137.0" y2="766.7" stroke="#e3e3e3" stroke-width="0.8"/><line x1="137.0" y1="931.9" x2="137.0" y2="766.7" stroke="#e3e3e3" stroke-width="0.8"/><line x1="116.4" y1="957.4" x2="116.4" y2="792.2" stroke="#e3e3e3" stroke-width="0.8"/><line x1="95.7" y1="982.8" x2="95.7" y2="817.6" stroke="#e3e3e3" stroke-width="0.8"/><line x1="75.1" y1="1008.3" x2="75.1" y2="843.1" stroke="#e3e3e3" stroke-width="0.8"/><line x1="75.1" y1="1008.3" x2="137.0" y2="931.9" stroke="#e3e3e3" stroke-width="0.8"/><line x1="132.5" y1="1010.5" x2="194.4" y2="934.1" stroke="#e3e3e3" stroke-width="0.8"/><line x1="189.9" y1="1012.8" x2="251.8" y2="936.4" stroke="#e3e3e3" stroke-width="0.8"/><line x1="247.2" y1="1015.0" x2="309.2" y2="938.6" stroke="#e3e3e3" stroke-width="0.8"/><line x1="304.6" y1="1017.3" x2="366.5" y2="940.9" stroke="#e3e3e3" stroke-width="0.8"/><line x1="362.0" y1="1019.5" x2="423.9" y2="943.1" stroke="#e3e3e3" stroke-width="0.8"/><line x1="419.4" y1="1021.8" x2="481.3" y2="945.4" stroke="#e3e3e3" stroke-width="0.8"/><line x1="137.0" y1="931.9" x2="481.3" y2="945.4" stroke="#e3e3e3" stroke-width="0.8"/><line x1="116.4" y1="957.4" x2="460.7" y2="970.9" stroke="#e3e3e3" stroke-width="0.8"/><line x1="95.7" y1="982.8" x2="440.0" y2="996.3" stroke="#e3e3e3" stroke-width="0.8"/><line x1="75.1" y1="1008.3" x2="419.4" y2="1021.8" stroke="#e3e3e3" stroke-width="0.8"/><g transform="scale(0.25)" fill="url(#lc)" stroke="url(#gc)" stroke-width="5.2" stroke-linejoin="round"><path transform="translate(542,3735)" d="M0 -522l11 2 12 6 11 9 12 4 11 15 23 42 12 59 5 139 6-172 12-52 11-27 12-14 11-9 23-11 35 2 11-2 12 9 11 4 11 12 23 45 12 57 4 184 7-228 12-49 11-23 23-23 12-7 11 1 12-6 11 7 12 1 11 6 23 26 12 25 11 52 7 249 5-256 11-76 11-24 12-13 11-26 6-8 6-1 6 2 5 6 6-8 6-13 11-15 6 7 12 7 5-4 6-14 6-7 6 1 11 16 6 3 17-19 6 3 11 16 6 1 11-14 6 2 6 4 11 22 12-2 6-8 11 10 12 23 5 4 12 0 5 6 23 61 12 54 5 198 6-170 12-56 11-14 12-9 11 2 12 11 11 39 11 338 1-123 11-194 12-30 23-39 46-23 34 2 11 7 12 1 23 11 11 15 12 12 11 26 12 54 8 177 3-115 12-66 11-39 23-28 46-22 23-1 34 3 35 17 11 16 12 10 11 22 12 40 11 169 0-59 12-113 11-41 6 18-11 56-5 227-7-238-23-83-22-24-35-18-11-8-46 0-12 6-11-3-23 14-12 9-11 21-12 11-11 55-10 216-2-164-11-99-23-60-11-13-46-26-35-2-11 6-12 0-23 10-23 25-11 23-12 37-9 218-2-161-12-90-11-36-12-13-11 0-11 4-12 23-11 67-5 188-7-242-11-49-23-56-6-6-12 1-5-4-12-24-11-10-6 9-11 1-12-22-11-6-12 15-6-1-11-17-6-2-17 18-6-2-11-16-6-1-6 6-5 14-6 4-12-7-5-6-12 14-6 14-11 2-6-3-6 1-17 29-11 14-12 23-11 58-7 282-5-227-11-70-12-26-11-19-12-6-11-13-12-1-11-6-12-1-34 17-11 13-12 18-11 35-12 214-11-182-12-39-11-19-12-11-11-7-23-13-35-1-11-2-12 6-23 24-11 17-12 30-11 120-2 127-9-194-12-53-23-39-46-26z"/><path transform="translate(536,3743)" d="M0 -521l11 1 12 7 11 2 23 15 12 14 11 28 12 32 11 173 0-99 12-101 11-36 23-30 12-11 11-7 12 3 34 1 34 20 23 38 12 44 8 208 3-183 12-79 11-30 12-19 11-7 12-12 11 1 12-7 11 1 35 19 11 12 12 25 11 48 10 244 2-193 11-108 11-32 18-28 5-17 6-8 6-1 6 8 5 0 6-7 6-15 11-14 6 7 12 7 5-4 6-15 6-6 6 1 11 16 6 3 17-19 6 3 11 16 6 1 11-14 6 2 6 4 11 22 12-2 6-8 11 10 12 24 5 3 6-1 6 1 11 21 17 47 12 73 4 253 7-256 12-46 11-15 12-8 11 2 12 19 11 37 9 274 3-165 11-100 12-29 11-21 12-13 46-21 34 1 11 6 12 1 11 7 23 26 23 38 12 79 4 193 7-193 12-51 11-30 23-20 12-13 11-6 12 2 11-8 34 4 12-3 46 29 23 27 11 39 12 63 4 130 7-170 12-41 11-23 6 2-11 41-12 113 0 59-11-169-12-40-11-22-11-10-12-16-34-17-35-3-23 1-46 22-23 28-11 40-12 65-2 116-9-178-12-54-11-26-11-11-12-15-23-12-11-1-12-7-34-1-46 22-23 39-12 31-11 193-1 124-11-339-11-38-12-11-11-2-11 8-12 14-11 56-7 171-5-198-11-55-23-61-6-5-12-1-5-3-12-24-11-9-6 8-11 1-12-22-6-4-5-2-12 15-6-2-11-16-6-2-17 19-6-3-11-16-6-1-6 6-5 15-6 3-12-7-5-6-12 14-6 14-5 7-6-6-6-2-6 2-5 7-12 27-11 13-12 23-11 76-4 256-8-249-11-52-12-25-23-25-11-7-12 0-11-7-12 5-11 0-12 6-22 24-12 22-11 49-8 228-4-184-11-57-23-44-12-12-11-5-12-9-11 2-35-1-23 10-11 10-12 13-11 28-12 51-6 173-5-140-11-59-23-41-12-15-11-5-12-8-11-6-12-2z"/><path transform="translate(529,3751)" d="M0 -520l23 2 11 6 12 10 11 2 23 32 12 35 11 80 6 71 6-121 11-70 12-24 23-23 23-12 23 1 11 3 12-2 11 8 23 25 11 21 12 28 11 139 1 65 11-224 11-33 12-24 11-12 35-17 11 0 35 20 11 12 12 19 11 38 12 139 0 142 11-317 11-32 12-19 11-26 6-8 6-2 6 2 5 0 12-14 6-14 5-7 6 7 12 7 5-4 6-14 6-7 6 1 11 17 6 2 17-19 6 3 11 16 6 1 11-15 6 3 6 4 11 22 12-2 6-8 11 10 12 24 5 3 12 0 11 22 17 52 12 82 3 201 8-225 12-41 11-20 12-1 11 6 12 20 11 47 7 218 5-159 11-76 12-29 34-34 12-6 11 1 12-7 34 1 23 15 23 11 23 41 11 36 12 230 0-105 11-112 12-27 11-16 23-23 23-12 23-7 34 3 12 7 11 0 12 6 11 9 12 12 11 17 12 27 11 65 9 171 3-151 11-87 12-23 11-17 6 10-11 23-12 41-7 169-4-130-12-63-11-38-23-27-46-30-11 3-35-3-11 8-12-2-11 6-12 13-23 20-11 29-12 51-7 194-4-194-12-79-22-37-23-27-12-7-11 0-12-7-34-1-46 21-12 14-11 20-12 30-11 100-3 165-9-275-11-37-12-18-11-2-11 7-12 15-11 46-8 256-4-253-11-73-18-46-11-21-6-2-6 2-5-4-12-24-11-10-6 9-11 1-12-22-6-4-5-2-12 14-6-1-11-16-6-2-17 18-6-2-11-16-6-1-6 6-5 14-6 4-12-6-5-7-12 14-6 14-5 7-6 0-6-8-6 1-5 8-6 17-17 29-12 31-11 108-2 193-10-244-11-48-12-24-11-12-35-20-11 0-12 6-11-1-12 12-11 7-11 19-12 30-11 80-3 183-9-209-11-44-23-38-35-20-34-1-12-2-11 7-12 10-23 30-11 36-12 102 0 98-11-173-11-32-12-28-11-13-23-16-12-2-11-6-12-2z"/><path transform="translate(523,3758)" d="M0 -520l11 4 12-4 11 3 23 11 23 28 12 21 11 36 12 177 11-201 12-40 11-17 12-13 11-11 12-6 46 4 11 7 11 3 12 16 11 10 12 31 11 51 5 187 7-217 11-55 12-24 23-24 11-6 12 2 11-8 12 8 11 0 12 13 11 7 12 18 11 33 12 79 2 196 9-287 11-39 12-26 6-8 5-17 6-8 6-2 11 2 12-15 6-13 11 0 6 9 6-2 5-4 6-8 6-13 6 1 11 16 6 3 17-19 6 3 11 16 6 1 11-15 6 3 6 4 11 22 12-2 6-8 5 4 18 30 5 2 12 1 5 12 23 61 12 99 2 209 9-258 12-34 11-18 12-1 11 8 12 19 11 54 5 171 7-147 11-51 23-44 12-13 11-6 12-3 11-9 12 3 34 0 34 20 12 14 11 22 12 16 11 52 7 199 5-160 11-47 12-26 11-20 23-28 12-4 11-2 12-5 11 2 34 1 12 9 23 11 23 18 11 26 12 37 11 66 2 114 10-163 11-52 12-26 11-9 6-2-11 16-12 24-11 86-3 151-9-171-11-65-11-27-12-17-11-12-12-8-11-7-12 1-11-7-35-3-23 6-23 12-23 23-11 16-12 27-11 113 0 104-12-230-11-36-23-40-23-12-23-15-34-1-12 8-11-2-12 7-34 33-12 30-11 76-5 159-7-219-11-47-12-19-11-7-11 2-12 20-11 40-9 226-3-201-11-83-18-52-11-22-12 0-5-3-12-24-11-9-6 7-11 2-12-22-6-4-5-2-12 14-6 0-11-17-6-2-17 18-6-2-11-16-6-1-6 6-5 15-6 3-12-7-5-6-6 6-6 14-11 14-6 1-6-3-6 3-5 7-12 27-11 19-12 32-11 317 0-143-12-138-11-38-12-19-11-13-35-20-11 0-35 18-11 11-11 24-12 33-10 225-1-66-12-139-11-28-12-20-23-25-11-9-12 2-11-3-23 0-23 12-23 22-12 24-11 70-6 122-6-71-11-81-11-35-23-32-12-2-11-9-12-6-23-2z"/><path transform="translate(517,3766)" d="M0 -519l11 0 12 3 11-2 12 6 23 14 11 10 12 15 23 66 6 149 5-150 12-62 11-23 12-14 11-12 12-6 11-5 12-1 11 2 23-1 11 8 23 24 12 27 11 45 9 168 3-121 11-107 12-28 11-18 12-12 11-5 12 0 11-5 12 6 11 1 12 7 23 25 11 34 12 63 4 198 7-250 11-56 12-21 17-39 6-2 6 2 11-1 12-27 11 0 6 9 6-2 5-4 12-21 6 1 11 16 6 3 17-19 6 3 11 16 6 1 11-15 6 3 6 4 11 22 12-2 6-8 5 4 18 29 5 3 6 0 11 13 18 46 5 23 12 158 1 196 10-317 12-36 11-12 12-1 11 9 12 22 11 78 3 318 9-332 11-45 12-26 23-25 34-17 23 0 34 9 12 6 23 24 11 20 12 29 11 83 3 144 9-158 11-59 12-14 11-22 12-12 11-6 23-10 12-2 11 3 23 0 23 7 34 26 12 14 11 33 12 47 7 230 4-198 12-83 23-41 11-10 6-1-11 8-12 27-11 52-10 162-2-114-11-66-11-37-12-25-23-18-23-12-11-8-35-2-11-2-12 6-11 1-12 5-23 28-11 19-12 26-11 47-4 160-8-199-11-52-11-16-12-22-11-14-35-20-34 0-12-2-11 8-12 4-11 6-12 13-23 43-11 51-7 147-5-171-11-54-12-19-11-8-11 1-12 18-11 34-10 258-2-209-11-99-23-61-6-11-12-1-5-3-18-30-5-3-6 8-11 2-12-22-6-5-5-2-12 15-6-1-11-17-6-2-17 19-6-3-11-16-6-2-6 13-5 8-6 4-6 2-6-9-11 0-6 14-11 14-12-2-6 3-5 7-6 18-6 8-11 25-12 40-9 286-2-196-12-78-11-33-12-19-11-7-12-13-11 0-12-7-11 7-12-1-11 5-23 24-11 24-12 55-6 218-5-188-12-50-11-32-12-10-11-15-12-4-11-7-46-4-12 7-11 10-12 13-11 18-12 40-11 200-12-177-11-35-11-21-23-28-23-12-12-2-11 3-12-4z"/><path transform="translate(511,3773)" d="M0 -513l11 -7 35 1 23 13 34 47 12 36 11 68 0 174 12-266 11-37 12-18 11-13 23-17 12 2 11 0 12 1 11-1 23 14 11 12 12 18 11 44 12 132 1 43 10-197 12-43 11-18 12-12 34-17 12 1 34 19 23 43 12 52 7 181 4-195 11-62 12-32 6-9 5-16 6-7 6-3 11 2 6-8 12-26 11 0 6 9 11-6 12-21 6 1 11 17 6 2 17-19 6 3 11 16 6 1 11-15 6 3 6 4 11 22 12-2 6-8 5 4 18 29 5 3 6-1 11 15 12 31 11 42 12 296 0-54 11-216 12-31 11-10 12-1 11 13 12 23 11 112 1 152 11-210 11-50 23-36 46-24 34 3 46 25 23 39 12 37 10 262 1-164 12-74 23-61 11-12 12-3 23-14 11-3 23 0 12 2 11-1 46 25 23 38 11 36 12 90 0 65 11-162 12-33 11-18 23-23 6 0-11 9-23 42-12 82-4 198-7-229-11-48-12-33-11-13-35-27-23-6-23-1-11-2-12 1-23 10-11 7-12 12-11 21-12 14-11 60-9 157-3-143-11-84-11-29-12-19-23-24-11-7-35-8-23 0-34 16-23 25-12 26-11 45-8 332-4-317-11-78-12-23-11-9-11 2-12 11-11 37-11 316-1-196-11-158-6-23-17-46-12-12-6 0-5-3-18-29-5-4-6 7-11 2-12-22-6-4-5-2-12 14-6 0-11-17-6-2-17 18-6-2-11-17-6 0-11 21-6 3-6 2-6-9-11 0-12 28-11 0-6-2-6 3-17 39-11 20-12 56-6 250-5-198-12-62-11-34-23-26-12-7-11 0-12-7-11 6-12-1-11 6-12 12-11 18-11 27-12 108-2 120-9-168-12-44-11-28-23-23-12-9-23 1-11-1-12 1-11 4-12 6-11 12-12 15-11 22-12 62-5 150-6-149-23-65-11-15-12-11-23-14-11-5-12 1-11-3-12 0z"/><path transform="translate(505,3781)" d="M0 -512l11 2 12-8 11 1 12-3 34 21 12 16 11 8 12 27 11 43 6 136 6-141 11-59 12-25 11-21 12-3 23-12 23-1 11 2 23 14 11 11 12 15 11 26 12 55 5 141 6-170 12-56 23-44 34-17 12 0 34 19 12 13 11 28 12 48 9 243 2-218 11-87 23-64 6-7 6-3 11 1 6-7 6-13 11-14 6 1 6 9 11-6 12-21 6 1 11 17 6 2 17-19 6 3 11 16 6 1 11-15 12 7 11 22 12-2 6-8 5 4 18 29 5 3 6 7 6 0 5 7 18 49 5 23 11 236 1-88 11-128 12-24 11-12 12 3 11 11 12 34 11 264 0-85 12-155 11-38 12-18 23-23 11-5 12-1 11-5 34 1 23 14 12 4 11 15 12 18 11 26 12 65 6 172 5-140 12-63 11-33 23-25 12-10 11-7 12 3 11-6 12 2 34-2 11 4 12 9 11 14 12 8 11 19 12 26 11 62 6 174 6-194 11-46 12-26 11-11 12-16 11-11 6 0-23 22-11 18-12 33-11 162 0-65-11-90-12-36-23-37-46-26-11 2-12-3-23 0-11 3-23 14-12 4-11 11-23 61-12 74-1 164-10-261-11-38-23-39-46-25-35-2-46 23-23 36-11 50-10 210-2-152-11-111-12-24-11-12-11 0-12 10-11 32-12 215 0 54-11-295-12-43-11-31-12-14-6 1-5-4-18-28-5-5-6 8-11 2-12-21-6-5-5-2-12 14-6-1-11-16-6-2-17 19-6-3-11-16-6-1-11 21-12 5-6-9-11 0-12 27-5 7-12-1-6 2-5 7-6 16-6 9-11 32-12 62-4 196-7-182-12-51-23-44-34-19-12 0-34 16-12 12-11 18-11 44-11 196-1-43-11-132-12-44-11-18-12-11-23-15-11 2-12-2-11 1-12-3-23 18-11 13-12 18-11 37-11 265-1-173-11-69-12-35-34-47-23-13-34-2-12 7z"/><path transform="translate(498,3789)" d="M0 -507l11 -8 12-4 11-1 12 3 11 0 23 11 12 15 11 11 12 22 11 35 11 169 1-78 11-123 23-53 12-11 23-11 45 0 12 7 11 14 12 11 11 27 12 42 9 209 2-174 12-84 11-34 12-19 11-11 12-6 11 0 12-7 11 9 12 0 23 26 11 20 12 36 11 257 0-67 11-229 29-77 6-2 11 1 6-7 6-12 11-15 6 1 6 9 11-6 12-21 6 1 11 16 6 3 17-19 6 3 11 16 6 1 11-15 12 7 11 22 12-2 6-8 5 4 12 25 6 4 5 10 12 0 17 43 11 41 10 268 2-172 11-75 12-35 11-5 12 0 11 21 12 36 9 284 2-167 12-107 11-36 12-18 23-22 11-6 12 1 11-7 23 1 11 7 12 0 11 7 12 13 23 31 11 27 12 107 2 152 9-197 12-46 11-26 12-16 23-16 23-10 11 0 23 4 12-2 45 25 23 36 12 37 11 162 12-164 11-33 12-22 11-18 23-12 6-8-11 11-12 16-11 11-12 27-11 45-6 195-5-175-12-62-11-26-12-19-11-8-12-13-11-9-12-4-34 1-12-2-11 6-12-3-11 7-12 10-23 26-11 32-12 63-5 140-6-172-11-64-12-26-11-19-12-14-11-5-23-14-35-1-11 5-12 1-11 6-23 22-12 18-11 38-12 156 0 84-11-264-12-33-11-12-11-2-12 12-11 24-12 128-1 88-10-236-6-23-17-50-6-6-6 0-6-7-5-4-18-28-5-4-6 8-11 1-12-22-11-6-12 15-6-2-11-16-6-2-17 18-6-2-11-16-6-1-11 21-12 5-6-9-5 0-12 14-6 13-5 7-12-1-6 2-5 7-23 64-12 88-2 218-9-244-12-47-11-28-12-13-34-19-12-1-34 17-23 44-11 57-7 169-5-140-11-55-12-26-11-16-12-11-23-14-11-2-23 2-23 12-12 2-11 21-12 25-11 59-6 141-6-135-11-44-12-26-11-9-11-16-35-20-11 2-12-1-11 8-12-1z"/><path transform="translate(492,3796)" d="M0 -501l11 -12 12 2 11-6 23 0 12 5 11 1 35 34 11 39 12 49 5 178 6-206 12-54 11-25 12-19 11-4 12-12 45 3 23 13 12 12 11 19 12 40 11 160 1 56 11-245 11-34 23-31 12-11 11 2 12-7 11 8 12-2 11 9 12 13 11 19 12 30 11 117 2 132 9-264 23-75 6-6 12-8 5 0 12-14 6-13 5-7 6 7 12 7 17-31 6 1 11 16 6 3 17-19 6 3 11 16 6 1 11-15 12 7 11 22 12-2 6-8 5 4 18 35 5 3 12 1 23 62 5 29 9 225 3-153 11-69 12-26 11-4 12 1 11 19 12 56 7 273 4-229 12-62 11-30 12-19 11-12 12-4 23-13 34 2 11 7 12-1 11 13 23 20 12 26 11 44 10 226 2-144 11-68 12-39 11-18 23-23 12-8 11 2 12-6 46 2 22 13 12 16 11 3 12 17 11 36 12 65 5 192 6-204 12-69 23-37 11-13 23-13 6-2-23 13-11 17-12 22-11 34-12 163-11-162-11-37-23-36-46-24-12 1-23-4-11 1-23 9-23 17-12 15-11 26-12 47-9 197-2-152-11-108-12-26-23-32-11-13-12-6-11-1-12-6-23-2-11 7-12-1-11 6-23 22-12 18-11 37-12 106-2 168-9-285-12-36-11-21-11 0-12 6-11 34-12 75-2 173-9-269-12-41-17-42-12-1-5-10-6-3-12-25-5-4-6 7-11 2-12-21-11-7-12 14-6-1-11-16-6-2-17 19-6-3-11-16-6-1-11 20-12 6-6-8-5-1-12 14-6 13-5 6-12 0-6 2-28 77-12 228 0 67-11-257-12-36-11-20-23-26-12 0-11-9-12 7-11 0-12 7-11 10-12 19-11 35-11 83-3 174-9-209-11-42-12-27-11-10-12-15-11-6-46-1-23 12-12 10-23 54-11 122 0 78-12-169-11-34-12-23-11-11-11-15-23-11-12 0-11-2-12 1-11 4-12 8z"/><path transform="translate(486,3804)" d="M0 -492l11 -14 23-13 35 1 11 9 12 5 11 16 12 11 11 20 12 37 10 158 1-81 12-112 11-32 12-20 11-14 23-9 23 2 11-1 23 13 12 5 11 18 12 37 11 57 5 193 7-238 11-56 23-35 35-18 11 0 12 7 11 6 23 26 12 31 11 70 4 197 7-261 12-53 17-43 6-3 11 1 6-8 12-25 5-6 6 6 12 7 11-18 12-12 11 17 6 2 17-19 6 3 11 16 6 1 11-15 12 7 11 22 12-2 6-8 5 4 18 35 5 3 12 1 11 28 12 39 5 29 8 217 4-161 11-63 12-19 11-4 12 3 11 22 12 52 5 176 6-148 12-57 11-28 23-24 35-18 34 2 34 18 23 27 12 33 11 60 7 225 5-205 11-54 12-25 11-20 12-11 11-4 12-8 11-6 46 3 12 8 11 3 23 16 23 37 11 42 11 190 1-76 11-129 12-37 11-18 12-12 34-17 6-8-23 12-11 13-23 38-11 68-7 204-5-191-11-66-12-36-11-17-12-2-11-16-23-13-46-3-12 6-11-2-12 9-23 22-11 19-12 38-11 69-1 144-10-227-12-44-11-26-23-19-12-14-11 1-12-6-34-3-23 13-12 4-11 12-12 19-11 30-12 63-4 228-7-272-12-57-11-19-11 0-12 4-11 25-12 70-3 153-8-226-6-29-23-62-12 0-5-4-18-34-5-5-6 8-11 2-12-22-11-6-12 14-6-1-11-16-6-2-17 18-6-2-11-16-6-1-17 30-12-6-5-7-6 7-6 13-11 13-6 0-12 8-5 7-23 74-10 264-2-131-11-118-12-30-11-19-12-13-11-8-12 2-11-9-12 7-11-1-12 10-23 31-11 34-11 246 0-56-12-161-11-40-12-18-11-13-23-13-46-3-12 13-11 4-12 19-11 24-12 55-6 206-5-179-12-48-11-39-34-35-12-1-11-5-23 0-12 6-11-2-12 12z"/><path transform="translate(480,3812)" d="M0 -490l11 -10 35-18 11-1 12 2 11 7 12 0 23 29 11 8 12 30 11 44 4 124 8-150 11-46 12-30 23-22 11-7 46 2 11 5 23 27 12 26 11 56 8 166 4-164 11-77 12-29 23-24 23-12 11 0 35 21 11 18 12 24 11 58 6 172 5-204 12-59 11-36 12-15 11-1 6-7 12-25 5-7 6 7 12 7 11-18 12-12 11 16 6 3 17-19 6 3 11 16 6 1 11-15 6 3 6 4 11 22 12-2 6-8 5 4 18 35 5 4 6-1 11 13 6 16 12 45 5 30 7 228 5-181 11-63 12-14 11-9 12 6 11 19 12 77 4 295 7-306 12-46 23-42 46-22 34 2 34 20 12 12 11 20 12 28 11 150 3 98 9-200 11-34 12-21 11-15 12-10 34-17 35 0 11 2 12 5 22 14 12 11 11 22 12 30 11 75 5 102 7-143 11-43 12-28 11-18 12-11 23-11 11 3 6-10-34 17-12 12-11 18-11 37-12 130-1 75-10-189-12-43-23-37-23-15-11-3-12-8-46-3-11 5-12 9-11 3-12 11-11 20-12 25-11 54-5 206-6-225-12-61-11-33-23-26-35-18-34-3-35 19-23 24-11 27-12 57-6 149-5-177-12-52-11-21-11-4-12 4-11 19-12 63-4 161-7-216-6-30-12-38-11-29-12 0-5-4-18-34-5-4-6 7-11 2-12-22-11-6-12 14-6 0-11-17-6-2-17 18-6-2-11-16-12 11-11 18-12-6-5-7-6 7-12 25-5 7-12-1-6 3-17 43-11 53-8 261-4-197-11-70-12-30-23-26-11-7-12-6-11-1-35 18-23 36-11 56-7 238-4-194-12-56-11-38-12-17-11-5-23-14-12 2-23-2-23 8-11 14-12 20-11 32-12 112-1 81-10-158-12-36-11-20-12-12-11-16-11-5-12-9-34 0-23 12-12 14z"/><path transform="translate(474,3819)" d="M0 -484l23 -20 23-14 11-2 23 4 23 11 23 24 12 23 11 49 9 184 3-126 11-107 12-31 11-16 12-13 11-8 12-4 34 2 11 8 12 5 11 12 12 16 11 37 12 220 0-73 11-174 12-35 11-18 12-13 11-4 12-1 11-6 35 20 11 14 12 24 11 51 8 223 3-224 12-72 6-21 11-28 12-8 5-1 6-7 12-25 11 0 12 7 11-18 12-12 11 16 6 3 17-19 6 3 11 16 6 1 11-15 12 7 11 22 12-2 6-8 5 4 18 35 5 3 6-1 6 9 17 42 11 64 6 242 6-216 11-58 12-18 11 2 12 5 11 23 12 105 2 115 9-165 12-46 11-22 23-24 12-7 11 0 12-4 11 0 12 1 11 6 11 0 12 8 11 11 12 15 11 25 12 42 10 195 1-57 12-123 11-40 23-31 12-9 23-5 11-6 35 2 11 7 12 0 11 13 11 6 23 38 12 46 10 197 1-91 12-114 11-50 12-18 11-9 12-5 23-14 11 2 6-6-11-4-23 11-12 12-11 17-11 29-12 42-7 143-4-102-12-75-11-29-12-23-11-10-23-14-12-6-11-2-35 0-34 17-12 11-11 14-12 22-11 33-9 200-2-97-12-151-11-28-12-20-11-12-35-20-34-2-46 22-23 43-12 45-7 306-4-295-12-77-11-18-11-6-12 8-11 15-12 62-5 182-6-228-6-31-12-44-5-16-12-14-6 1-5-4-18-34-5-4-6 7-11 2-12-22-6-4-5-2-12 14-6-1-11-16-6-2-17 18-6-2-11-16-12 11-11 19-12-7-5-7-6 7-12 25-5 6-12 1-11 15-12 36-11 59-6 205-6-172-11-58-12-25-11-17-35-21-11-1-23 13-23 23-12 29-11 78-4 163-7-165-12-57-11-26-23-27-12-4-46-2-11 6-23 23-12 29-11 47-8 149-4-124-11-43-12-30-11-9-23-29-11 0-12-7-11-1-12 1-34 17-12 10z"/><path transform="translate(468,3827)" d="M0 -465l11 -23 23-20 12-3 11-7 23 1 12 7 11 2 12 8 11 16 12 17 11 39 12 71 2 120 9-200 12-46 23-35 11-6 12-4 45 0 12 15 11 7 12 19 11 31 12 76 3 113 8-190 12-42 11-25 23-24 12 2 11-8 12 7 11 2 23 24 12 20 11 45 9 193 2-143 12-107 17-49 6-8 6 1 11-15 12-24 11 0 12 7 11-18 12-12 11 17 6 2 17-19 6 3 11 16 6 1 11-15 12 7 11 22 12-2 6-8 5 4 18 35 5 3 6 0 6 8 11 27 12 46 5 38 5 235 7-223 11-49 12-18 11 2 12 6 11 29 12 103 0 181 11-243 12-41 11-22 23-21 23-13 23 0 12 2 11 7 11 0 12 13 11 5 23 47 12 52 7 160 4-119 12-53 11-36 12-18 11-11 35-16 11 2 12-2 23 3 34 17 11 15 23 43 12 66 5 186 6-214 12-38 11-35 23-24 23-11 23 2 6-8-11-2-23 14-12 5-11 10-11 17-12 50-11 115-2 90-10-196-11-47-23-38-12-6-11-13-12 1-11-8-35-1-11 5-23 6-12 9-23 31-11 39-11 124-1 56-11-194-11-42-12-26-11-15-12-11-11-8-12 0-11-6-12-1-11 0-12 5-11-1-12 7-23 25-11 21-12 46-9 165-2-115-12-105-11-23-11-4-12-2-11 17-12 58-6 216-5-242-12-63-17-43-6-9-6 2-5-4-18-35-5-4-6 9-11 1-12-22-11-6-12 15-6-2-11-16-6-2-17 18-6-2-11-16-12 11-11 18-12-7-11 1-12 24-5 7-6 1-12 8-11 28-6 21-11 72-4 225-8-223-11-51-12-24-11-15-35-20-11 6-12 1-11 5-12 13-11 17-12 36-11 173 0 73-11-219-12-37-11-17-12-11-11-6-12-8-34-1-12 4-11 8-12 12-11 16-12 31-11 107-2 126-10-184-11-49-12-22-23-25-22-11-23-3-12 1-23 14-23 20z"/><path transform="translate(461,3835)" d="M0 -448l11 -29 12-18 23-18 11-5 35-1 11 11 12 4 23 26 11 22 12 45 7 143 4-147 12-50 11-30 12-15 11-7 12-11 11-2 34 2 12 8 11 14 12 10 11 29 12 60 6 243 5-272 12-57 23-43 34-17 12 6 11 1 12 6 11 13 12 19 11 37 11 272 0-135 12-164 11-51 12-22 11 1 6-7 12-25 5-6 6 0 6 9 6-2 5-4 6-14 12-12 11 16 6 3 17-19 6 3 11 16 6 1 11-15 12 7 11 22 12-2 6-8 5 4 18 35 5 3 6 0 6 8 11 26 12 54 5 45 4 210 8-218 11-42 12-18 11-1 12 15 11 34 11 295 1-176 11-99 12-31 23-40 34-17 35 1 34 20 11 12 12 20 11 26 12 79 3 124 8-154 12-32 11-24 12-16 23-13 11-3 12-8 23 2 11-1 12 8 11 1 12 5 11 16 11 10 23 58 11 196 12-201 12-37 11-20 23-15 12-5 11-9 23 2 6-6-23-2-23 10-22 25-12 34-11 38-7 214-5-186-11-66-23-43-12-15-34-17-23-2-12 1-11-2-35 17-11 10-12 19-11 35-11 54-5 119-7-161-11-51-23-48-12-5-11-12-12-1-11-6-12-2-23-1-23 13-23 22-11 22-12 40-11 243 0-181-12-102-11-30-11-5-12-2-11 17-12 50-7 222-4-235-6-37-12-47-11-27-6-8-6 0-5-3-18-34-5-4-6 8-11 1-12-22-11-6-12 14-6-1-11-16-6-2-17 18-6-2-11-16-12 11-11 18-12-6-11-1-12 25-11 14-6-1-6 9-17 48-11 107-2 143-10-192-11-46-12-20-23-24-11-1-12-8-11 8-12-2-23 24-11 26-12 41-8 190-3-112-11-77-12-31-11-19-12-6-11-16-46 0-12 5-11 6-23 34-12 46-8 200-3-120-12-70-11-40-12-17-11-15-12-8-11-2-11-7-23-2-12 8-11 2-23 21-12 22z"/><path transform="translate(455,3842)" d="M0 -432l11 -32 12-24 11-8 12-12 11-2 12-7 23 1 23 13 23 16 23 58 11 143 1 55 11-218 11-33 12-25 11-11 23-11 23-1 34 15 12 15 23 53 10 287 1-227 12-92 11-31 12-19 11-12 23-13 12 1 23 14 23 31 11 28 11 112 2 115 10-243 11-45 6-15 6-8 6-6 5-1 6-6 12-24 5-7 6 0 6 9 6-2 5-4 6-14 12-12 11 17 6 2 17-19 6 3 11 16 6 1 11-15 6 3 6 4 11 22 12-2 6-8 5 4 18 34 11 10 6 1 5 14 12 41 6 30 5 57 3 184 9-210 11-47 12-10 11 1 12 11 11 41 9 206 3-113 11-88 12-32 11-17 12-14 34-16 35 1 11 7 11 5 35 44 11 37 12 207 11-180 12-34 11-18 23-26 23-10 12 0 11-2 23 2 35 22 11 13 11 18 12 25 11 85 6 104 6-141 11-58 12-20 23-30 23-10 34 1 6-7-23-3-11 9-12 5-22 15-12 21-11 37-13 200-10-196-23-57-12-10-11-16-12-6-11 0-12-9-11 1-23-2-12 9-11 3-23 12-12 17-11 23-11 33-9 153-3-123-11-80-12-26-11-19-12-13-34-19-35-1-34 17-23 39-12 32-11 99-1 175-11-295-11-34-11-14-12 1-11 18-12 41-8 218-3-209-6-45-12-54-11-26-6-9-6 0-5-3-18-35-5-4-6 9-11 1-12-21-11-7-12 15-6-2-11-16-6-2-17 19-6-3-11-16-12 11-5 15-6 4-6 1-6-8-5-1-6 7-12 24-5 7-12 0-11 22-12 50-11 165-1 134-11-272-11-36-12-20-11-13-12-6-11-1-12-5-34 17-23 42-12 58-5 272-6-243-11-61-12-29-11-10-12-14-11-7-35-2-11 1-12 11-11 7-12 16-11 29-12 50-4 147-7-143-12-44-11-23-23-26-12-4-11-10-34 0-12 5-23 18-11 18-12 30z"/><path transform="translate(449,3850)" d="M0 -383l11 -69 12-26 11-18 12-10 11-4 12-8 34 1 12 10 11 1 23 30 12 25 11 68 6 126 6-151 11-68 12-22 23-25 11-6 34 0 23 16 12 11 11 19 12 36 11 85 2 124 10-230 11-38 12-24 11-11 12-7 11 1 12-7 11 9 23 11 12 19 11 31 11 88 4 130 8-218 6-30 11-41 6-10 6 1 11-14 12-24 5-6 6 0 6 9 6-2 5-4 6-14 12-12 11 17 6 2 17-19 6 3 11 16 6 1 11-15 12 7 11 22 12-2 6-8 5 4 18 35 5 2 6 6 6 2 5 12 12 42 6 30 5 74 2 195 10-246 11-38 12-12 11 0 12 21 11 46 8 191 4-151 11-58 12-27 23-24 34-16 12-1 11 2 12 5 11 0 11 7 23 26 12 24 11 51 8 199 4-129 11-75 12-28 11-18 12-14 34-18 12 2 34-1 23 15 23 25 11 23 12 33 11 197 12-207 11-32 12-19 23-21 11-7 46 1 6-7-34-1-23 11-23 30-11 20-12 57-6 142-5-104-12-86-11-25-12-18-11-12-35-22-23-3-11 3-12-1-23 11-23 25-11 18-11 34-12 181-11-207-12-37-34-45-12-4-11-8-35-1-34 17-12 13-11 17-12 32-11 89-3 112-9-205-11-41-11-12-12-1-11 11-12 46-9 211-2-185-6-57-6-30-11-41-6-13-6-2-11-10-18-34-5-3-6 7-11 2-12-22-6-4-5-2-12 15-6-1-11-17-6-2-17 19-6-3-11-16-12 11-5 15-6 3-6 2-6-9-5 0-6 7-12 24-5 6-6 1-6 7-6 8-5 14-12 46-10 242-1-115-12-112-11-28-23-31-23-14-12 0-23 12-11 12-12 19-11 32-12 91-1 227-10-286-23-54-11-15-35-14-23 0-23 12-11 10-12 25-11 33-11 218-1-55-11-143-23-57-23-17-23-13-23 0-11 6-12 2-11 12-12 9-11 23-12 32z"/><path transform="translate(443,3857)" d="M0 -276l2 88 9-230 12-51 11-17 12-13 23-13 11-3 12 0 23 4 34 26 23 54 10 220 2-153 11-94 12-29 11-18 23-24 46 3 11 4 12 14 11 18 12 27 11 93 5 140 7-224 11-44 12-27 23-22 11 0 12-6 34 19 23 44 11 63 6 207 6-250 6-39 11-39 12-16 5-2 18-36 5-7 6 7 6 3 6-2 5-4 6-14 6-7 11 3 6 8 6 3 17-19 6 3 11 16 6 1 11-15 6 3 6 4 6 9 5 13 23-6 18 34 5 3 12 15 11 27 12 61 5 104 2 136 10-234 11-30 12-15 11 2 12 20 11 50 6 222 6-196 11-53 12-23 11-15 12-8 11-12 12 1 11-6 12-1 11 2 12 7 11 0 34 38 12 30 11 62 5 205 7-191 11-53 12-27 11-9 23-26 12 1 11-4 35 0 23 11 11 9 23 26 11 24 12 59 6 143 5-147 12-56 23-41 34-23 46 4 6-9-46-1-11 6-23 22-11 19-12 31-11 207-12-197-11-32-12-24-23-25-23-14-34 0-12-1-34 17-12 14-11 19-11 27-12 76-3 128-8-199-12-51-11-24-23-25-12-7-11 0-12-6-11-1-12 0-34 17-23 24-12 27-11 58-4 150-8-191-11-46-11-20-12-1-11 12-12 39-9 245-2-195-6-74-6-30-11-41-6-13-6-1-6-7-5-2-18-34-5-4-6 8-11 1-12-22-11-6-12 15-6-2-11-16-6-2-17 18-6-2-11-16-12 11-5 15-6 4-6 2-6-9-5-1-6 6-12 25-11 13-6 0-6 9-11 41-6 31-8 217-3-130-12-87-11-31-12-20-23-11-11-8-12 6-11 0-12 6-11 12-12 23-11 38-10 230-2-124-11-84-11-37-12-19-11-11-23-15-35-1-11 6-23 25-12 23-11 68-6 150-6-125-11-68-12-25-23-30-11-2-12-10-34 0-11 7-12 4-11 11-12 18-11 25-12 70z"/><path transform="translate(437,3865)" d="M0 -392l8 248 3-201 12-92 11-37 12-18 23-19 11-4 23 0 12 2 23 10 23 33 11 33 12 78 3 104 8-180 12-45 23-38 22-10 35 1 23 11 11 19 12 25 11 40 8 183 4-172 11-71 12-25 11-19 35-17 11 6 12 2 23 25 11 26 11 52 7 181 5-192 6-48 5-27 12-31 6-5 5-2 6-7 12-29 11 0 6 3 6-2 5-4 6-14 6-7 11 3 6 8 6 3 17-19 6 3 11 16 6 1 11-15 6-3 17 32 12-2 11-4 12 24 11 19 6 1 6 8 5 12 12 41 6 34 5 202 1 104 11-306 11-31 12-6 11 1 12 26 11 63 5 239 7-233 11-53 12-22 23-29 23-11 23 1 11-1 34 19 23 33 12 32 11 90 2 202 10-246 11-39 12-23 11-11 12-16 23-9 23-1 11 3 12-1 34 19 12 20 11 15 11 32 12 106 1 97 10-192 12-36 11-28 12-9 11-4 12-13 46 2 11 4 6-11-46-4-34 24-23 40-11 56-6 147-6-143-11-59-12-23-23-26-11-9-23-11-35-1-11 5-12-2-23 27-11 9-11 26-12 53-7 191-4-205-12-62-11-29-35-39-11 0-12-7-11-2-12 1-11 6-12-1-11 13-12 8-11 15-12 22-11 53-6 196-6-221-11-50-11-20-12-2-11 15-12 30-10 234-1-136-6-105-12-61-11-27-12-15-5-3-18-34-22 6-6-13-6-9-6-4-5-2-12 15-6-2-11-16-6-2-17 19-6-3-6-9-11-2-6 6-5 15-6 3-6 3-6-3-5-7-6 6-17 37-6 1-12 16-11 39-6 39-6 250-5-207-12-62-23-44-34-19-12 6-11-1-23 23-12 26-11 44-7 224-5-140-11-92-11-27-12-18-11-14-12-5-46-3-23 25-11 17-12 29-11 95-1 152-11-220-23-54-34-25-23-4-11 0-12 3-23 12-11 13-12 17-11 52-10 229-2-88z"/><path transform="translate(430,3873)" d="M0 -425l11 59 3 246 9-301 11-47 12-18 11-12 12-7 23-10 11-1 12 2 23 10 11 8 12 19 11 28 12 36 7 200 4-174 12-82 11-24 12-19 11-12 11-5 35 2 11 5 23 21 12 18 11 34 11 205 1-88 11-147 12-33 11-19 12-10 23-11 11 6 12 1 11 6 23 38 11 42 9 216 3-192 6-56 5-33 6-18 6-10 17-21 12-22 5-7 12 3 11-6 6-14 6-7 11 3 6 8 6 3 17-19 6 3 11 16 6 1 11-15 6-3 17 32 23-6 12 25 11 18 6 1 11 20 12 47 6 42 5 217 0-109 12-125 11-28 12-5 11 4 12 21 11 90 3 161 9-190 11-50 12-23 23-23 11-6 12-4 11-2 23 3 23 13 23 26 11 17 12 44 10 175 1-44 12-120 11-31 12-20 11-12 35-17 46 2 23 12 11 13 12 20 11 25 11 45 8 164 4-139 11-58 23-53 12-10 23-12 11-2 12 2 23 1 11 7 6-10-11-5-46-2-11 13-12 4-11 9-12 28-11 36-11 192-1-97-11-106-12-31-11-16-12-20-34-19-12 1-11-3-23 1-23 9-12 16-11 11-11 23-12 39-10 246-1-202-12-90-11-32-23-33-35-19-11 2-23-2-23 11-23 29-12 22-11 53-7 234-5-239-11-64-11-25-12-2-11 6-12 31-11 306 0-104-6-202-6-34-11-41-6-12-6-8-6 0-11-19-12-24-11 4-11 1-18-32-5 4-12 15-6-1-11-17-6-2-17 18-6-3-6-8-11-2-6 6-5 15-6 3-6 2-6-2-11-1-12 30-5 6-6 2-6 6-11 30-6 27-6 49-5 191-6-181-12-52-11-26-23-25-12-1-11-6-35 17-11 18-12 25-11 71-4 172-8-182-11-41-11-24-12-19-23-12-34-1-23 11-23 38-12 45-8 179-3-104-12-78-11-32-23-34-23-10-12-2-22 1-12 3-23 19-11 18-12 37-11 93-4 200-8-248z"/><path transform="translate(424,3880)" d="M0 -420l11 38 9 184 3-156 11-96 12-29 23-26 23-11 23-2 23 9 23 24 23 49 11 93 1 73 11-183 11-33 12-18 11-11 23-14 11-1 12 4 11 0 12 6 11 12 12 21 11 30 12 154 2 55 9-218 12-37 11-26 12-12 23-11 11 0 23 13 12 14 11 17 11 42 11 236 1-159 6-91 5-37 12-35 6-7 5-1 18-36 5-6 6 0 12 7 11-24 6-7 11 3 6 8 6 3 17-19 6 3 11 16 6 1 11-15 6-3 17 32 23-6 12 25 11 18 6 1 6 8 5 12 6 20 12 78 4 229 1-158 12-100 11-24 12-7 11 7 12 26 11 115 2 184 10-256 11-42 23-36 12-6 23-12 34 1 23 14 23 24 11 35 12 45 7 178 4-128 12-61 11-33 12-15 11-10 23-13 12-3 34 0 12 9 23 11 23 31 11 30 11 66 3 145 9-191 11-42 12-24 11-11 35-18 23 0 11 3 23 13 6-13-11-8-23 0-12-2-11 1-23 12-11 10-23 54-12 57-4 139-7-164-12-44-11-26-12-20-11-12-23-13-46-2-35 18-11 11-11 21-12 30-11 120-2 44-10-174-11-45-12-17-23-26-23-13-23-2-11 1-12 5-11 5-23 24-12 22-11 51-9 190-3-161-11-91-11-21-12-4-11 5-12 28-11 125-1 109-5-217-6-41-11-48-12-20-6-1-11-18-12-24-22 5-18-32-5 4-12 14-6 0-11-17-6-2-17 19-6-3-6-9-11-2-6 6-5 15-12 5-11-3-6 7-12 22-17 21-6 10-5 18-6 34-6 55-3 193-8-217-12-42-23-37-11-6-12-2-11-6-23 11-12 11-11 19-12 32-11 148-1 87-11-204-11-34-11-19-23-21-12-5-34-1-12 5-11 11-12 19-11 25-12 82-3 174-8-201-12-36-11-28-12-19-11-8-23-10-12-1-11 1-23 9-11 8-12 12-11 17-12 47-9 301-2-245-12-59z"/><path transform="translate(418,3888)" d="M0 -446l23 65 3 257 8-301 12-43 11-19 12-12 11 0 12-11 11-4 23-1 23 16 23 23 12 33 11 44 5 140 7-169 11-47 12-22 11-19 23-12 11 0 23 1 12 8 23 24 11 36 12 56 5 161 6-210 12-46 11-26 23-23 12 1 11-5 12 4 11 8 12 13 11 20 11 30 12 123 0 116 6-227 5-41 12-41 11-15 18-35 5-6 6 0 12 7 17-31 11 3 6 8 6 3 17-19 6 3 11 16 6 1 11-15 6-3 17 32 12-2 11-4 18 40 5 3 6 0 6 8 11 39 6 27 6 58 3 212 2-158 12-97 11-24 12-6 11 7 12 29 11 210 0-47 12-135 11-36 23-31 35-16 23 0 11 7 12 1 11 12 11 6 12 19 11 33 12 80 4 193 7-207 12-48 11-31 23-23 23-10 23-1 23 3 23 13 23 24 12 27 11 39 9 186 2-113 12-102 11-25 12-22 11-11 23-11 35 1 11 2 23 11 6-5-23-14-11-3-23 1-34 17-12 12-11 23-12 42-9 192-2-145-12-67-11-30-23-31-23-11-12-8-34-1-12 4-23 12-11 11-11 15-12 33-11 60-5 128-7-177-11-45-12-36-23-24-23-13-34-2-23 12-12 7-23 35-11 42-10 257-2-184-11-116-11-26-12-7-11 7-12 24-11 100-2 158-4-229-12-78-5-20-6-11-6-9-6 0-11-19-12-24-22 5-18-32-5 4-12 14-6-1-11-16-6-2-17 18-6-2-6-9-11-2-6 6-11 24-12-6-5-1-6 7-17 35-6 2-6 6-11 35-6 37-6 92-1 158-10-236-12-42-11-17-12-13-23-14-11 0-23 11-12 12-11 26-12 37-9 218-2-54-12-155-11-30-11-20-12-13-11-5-12-1-11-4-12 2-23 14-11 11-12 18-11 32-11 183-1-73-11-93-23-49-23-24-23-8-23 1-23 11-23 26-11 29-12 97-3 155-8-184-12-37z"/><path transform="translate(412,3896)" d="M0 -457l11 26 12 66 9 141 2-136 12-83 11-34 12-16 11-11 12-4 11-9 46 11 12 7 23 42 11 32 9 191 3-145 11-86 12-29 11-16 11-12 12-6 34 2 23 12 12 13 11 21 12 45 8 369 3-357 12-71 11-24 12-17 11-12 12 0 11-5 35 19 11 20 11 32 12 112 2 159 4-235 5-54 12-42 6-13 11-14 12-28 5-6 6 0 6 9 6-2 17-31 11 3 6 8 6 3 17-18 6 2 11 16 6 1 11-15 6-3 17 32 23-6 18 40 5 3 12 14 5 13 6 20 6 33 6 69 2 173 3-154 12-83 11-25 12-2 11 8 12 39 10 245 1-144 12-86 11-33 23-31 12-4 23-13 23 3 23 11 11 8 11 12 12 19 11 35 12 103 1 83 10-154 12-34 23-36 23-11 11-8 12 3 23 1 11 5 12 2 34 37 12 31 11 71 5 123 6-154 12-50 11-23 12-19 11-5 12-9 11-4 12-1 23 3 11 6 12 9 11 4 6-15-23-11-11-2-34-1-23 11-12 11-11 22-12 25-11 103-2 112-10-185-11-39-12-27-23-25-23-12-23-4-23 1-23 11-22 22-12 32-11 47-8 208-4-193-11-80-12-33-11-20-12-5-11-13-12-1-11-6-23 0-35 15-23 31-11 36-12 136 0 47-11-210-11-30-12-7-11 6-12 24-11 97-3 158-3-212-6-58-6-26-11-39-6-8-6 0-5-4-18-40-11 5-11 1-18-32-5 4-12 15-6-2-11-16-6-2-17 18-6-2-6-9-11-2-17 30-12-6-5-1-6 7-17 34-12 16-11 40-6 41-6 227 0-116-11-123-12-30-11-20-12-13-11-7-12-5-11 5-12-1-23 24-11 25-12 46-6 211-5-161-12-57-11-36-23-23-11-8-23-2-12 0-23 12-11 19-12 22-11 47-7 170-5-140-11-44-12-33-23-24-23-16-23 2-11 4-11 11-12-1-11 12-12 19-11 44-9 300-3-257-23-65z"/><path transform="translate(406,3903)" d="M0 -472l23 55 11 128 3 74 9-203 11-49 12-21 23-17 23-12 23 2 23 13 23 31 11 25 12 112 1 98 10-208 12-39 11-22 23-23 11 2 35-1 23 28 11 17 12 41 10 224 1-152 12-112 11-36 12-18 34-17 12 6 11 1 12 12 11 18 11 27 12 91 3 222 3-245 5-73 6-31 6-15 11-17 12-22 6-18 5-6 6 0 6 9 6-2 17-31 11 3 6 8 6 3 17-19 6 3 11 16 6 1 11-15 6-3 17 32 23-6 6 11 6 20 6 8 5 4 6 7 11 19 12 62 6 77 2 188 3-204 12-64 11-26 12 2 11 13 12 33 8 258 3-163 12-94 11-28 35-35 11 0 12-6 23 1 34 21 23 37 11 42 10 177 2-77 11-92 12-29 11-20 23-17 12-4 11-7 35 3 23 11 23 19 11 24 12 43 11 213 0-74 11-145 12-37 11-20 23-23 12-6 46 2 23 13 11 18 6-20-11-4-12-9-11-5-23-4-11 1-12 5-11 9-12 4-11 19-12 24-11 49-7 154-5-123-11-71-12-30-34-38-12-1-11-6-23-1-12-3-11 9-23 11-23 35-11 34-11 154-1-82-11-103-12-35-11-19-12-12-11-8-23-12-23-3-23 13-12 4-23 32-11 32-12 86-1 144-10-244-11-39-12-9-11 3-12 24-11 83-3 155-3-174-6-69-6-32-5-21-6-12-12-14-5-4-18-39-22 5-18-32-5 4-12 15-6-2-11-16-6-2-17 19-6-3-6-9-11-2-17 31-6 2-6-9-5-1-6 6-12 29-11 14-6 13-11 41-6 54-4 235-2-159-11-112-12-31-11-20-35-20-11 5-12 0-11 13-12 16-11 24-12 71-3 358-8-370-12-44-11-22-11-13-23-12-35-1-11 6-12 11-11 16-12 29-11 86-2 146-10-192-11-32-23-42-12-7-46-10-11 9-11 4-12 11-11 16-12 33-11 83-3 137-9-142-11-66-12-26z"/><path transform="translate(399,3911)" d="M0 -475l11 13 12 29 11 49 9 187 3-144 11-107 23-43 12-13 23-10 23 0 23 15 11 3 12 20 11 25 12 53 6 130 5-151 12-55 22-43 23-11 35 2 11 6 23 30 12 35 11 99 2 127 10-239 11-43 12-17 11-12 23-11 12 6 11 0 23 24 11 27 12 67 5 218 1-151 5-118 6-41 12-28 23-43 5-6 12 3 6-1 17-32 11 3 6 8 6 3 17-19 6 3 11 16 6 1 11-15 6-3 17 32 18-4 11 9 6 19 6 10 5 3 12 15 11 39 6 40 6 107 1 128 4-187 12-64 11-19 12 0 11 14 12 45 7 248 4-183 12-73 11-30 12-17 11-13 23-12 35 2 23 13 22 28 12 20 11 65 7 188 5-160 11-55 12-25 11-20 12-4 11-13 12-5 11 2 23-4 12 2 11 6 12 8 11 13 12 17 11 24 12 51 6 191 5-146 11-95 12-27 23-24 23-11 11-1 23 2 23 14 12 4 11 20 6-14-11-17-23-14-46-2-11 6-23 23-12 21-11 36-12 145 0 74-11-212-12-43-11-25-23-19-23-11-35-3-11 7-12 5-22 17-12 19-11 29-12 93-2 76-9-177-12-42-23-36-34-21-23-1-12 5-11 1-35 34-11 29-12 93-2 163-9-257-11-34-12-13-11-2-12 26-11 64-4 205-2-189-6-77-11-61-12-20-6-7-5-3-6-9-6-20-6-11-22 7-18-33-5 4-12 15-6-2-11-16-6-2-17 19-6-3-6-8-11-3-17 31-6 2-6-10-5 0-6 7-6 17-11 23-12 16-6 16-5 30-6 73-2 245-4-222-11-91-12-27-11-17-12-13-11-1-12-6-34 17-12 18-11 37-12 111 0 152-11-223-12-41-11-18-23-28-34 1-12-2-23 23-11 22-12 40-9 207-2-98-12-112-11-24-23-31-23-14-23-1-23 11-23 17-11 21-12 50-8 202-3-74-12-128-23-54z"/><path transform="translate(393,3919)" d="M0 -486l11 15 12 22 11 33 12 71 2 275 9-343 12-45 11-28 23-23 12-8 23 4 11-2 12 6 11 15 12 11 11 26 12 37 10 182 1-134 12-90 11-29 11-18 12-13 11-5 12-1 11 2 12 0 23 14 11 16 12 32 11 53 5 253 7-291 11-53 12-22 11-17 23-11 12 0 23 13 11 20 11 27 12 47 6 122 0 75 5-218 6-39 6-23 17-34 12-27 5-7 6 0 6 3 6-2 17-31 6 1 5 8 12 5 17-19 6 3 11 16 6 1 11-15 6-3 17 32 18-4 5 4 18 33 5 4 12 14 5 19 12 63 6 127 0 124 5-215 12-55 11-17 12 0 11 18 12 50 6 185 5-151 12-57 11-30 23-25 23-11 35 2 23 13 11 12 11 20 12 33 11 64 4 148 8-157 11-41 12-26 23-24 11-4 12-7 34 1 12 8 11-1 23 27 12 18 11 37 12 90 2 101 9-182 11-45 12-19 23-24 11-4 46 1 23 13 23 39 6-22-11-19-12-5-23-14-22-1-12 0-23 11-23 24-11 28-12 94-5 147-6-192-12-51-11-24-12-17-11-13-12-7-11-6-12-2-23 3-11-1-12 4-11 14-11 4-12 19-11 25-12 55-5 160-6-187-12-65-11-21-23-28-23-12-35-2-23 12-11 12-12 17-11 30-12 73-4 184-7-249-11-44-12-15-11 0-12 19-11 64-5 188-1-129-6-107-6-39-11-40-12-15-5-3-6-10-6-18-11-10-17 4-18-32-5 4-12 15-6-2-11-16-6-2-17 19-6-3-6-9-11-2-17 31-6 2-11-4-6 7-23 42-12 28-5 41-6 118-1 151-5-217-11-68-12-26-23-24-11-1-12-6-23 11-11 12-12 17-11 43-10 240-2-128-11-98-12-35-22-31-12-6-34-1-23 10-23 43-12 56-5 151-6-131-12-53-11-25-12-20-11-3-23-15-23 1-23 9-11 13-23 43-12 108-3 143-8-187-12-49-11-29-12-12z"/><path transform="translate(387,3926)" d="M0 -487l23 29 11 22 12 70 8 185 3-206 12-66 11-29 12-9 11-13 23-14 12 5 11-2 23 13 23 30 12 35 11 89 3 80 9-171 11-46 11-19 12-14 11-8 35-1 23 14 11 12 12 25 11 54 7 139 5-149 11-61 12-30 23-23 11 0 12-6 23 12 11 15 11 24 12 45 6 58 2 157 3-206 6-53 6-28 6-14 17-31 6-17 5-6 6 0 6 3 11-6 12-27 6 1 5 8 12 5 17-19 6 3 11 16 6 1 11-15 6-3 17 32 18-3 5 3 18 33 11 9 6 9 11 46 6 47 6 301 0-82 5-196 12-53 11-19 12 1 11 21 12 65 4 170 7-161 12-55 11-25 23-24 23-11 12 2 11-1 12 6 11 2 23 24 11 21 12 41 11 114 1 66 11-150 11-40 12-25 23-18 11-4 12-7 23 1 23 6 23 16 11 19 12 23 11 48 9 181 3-136 11-71 11-36 12-19 11-12 23-11 35 0 34 20 23 45 6-20-23-38-23-13-45-2-12 4-23 25-11 18-12 45-9 182-2-101-12-90-11-36-12-19-23-27-11 2-12-9-34-1-12 8-11 3-23 24-11 27-12 41-8 157-3-148-12-65-11-33-12-19-11-13-23-13-35-2-23 12-23 24-11 30-12 57-5 151-6-184-11-51-12-17-11-1-12 17-11 55-6 215 0-123-6-128-11-63-6-19-12-14-5-3-18-33-5-4-17 3-18-32-5 4-12 15-6-2-11-16-6-2-17 18-12-4-5-8-6-1-17 30-6 3-6-3-5 0-6 6-12 27-17 34-6 23-5 39-5 218-1-74-6-122-11-48-12-27-11-20-23-13-12 0-23 11-11 17-12 22-11 53-7 291-5-253-11-53-12-32-11-15-23-15-11 1-12-3-11 1-12 6-11 12-12 18-11 29-12 90-1 134-10-181-12-38-11-26-12-11-11-15-12-5-11 1-23-3-12 7-22 23-12 29-11 44-9 343-3-274-11-71-12-34-11-21-12-15z"/><path transform="translate(381,3934)" d="M0 -491l23 21 11 27 12 40 11 101 2 118 10-251 11-33 35-41 11-6 23 2 35 18 11 22 23 67 6 207 6-219 11-55 11-25 12-19 23-9 34 1 12 12 23 32 11 43 10 267 2-210 11-104 12-30 11-20 12-12 11 2 12-7 23 14 11 13 11 19 12 45 6 53 3 149 2-157 6-77 6-29 11-29 12-22 6-16 5-7 6 0 6 3 11-6 12-26 6 1 5 7 12 5 17-19 6 3 11 16 6 1 11-15 6-3 17 32 18-4 5 4 12 25 11 18 6 0 11 33 12 72 5 196 1-89 5-94 12-52 11-12 12 0 11 25 12 76 3 252 8-270 12-52 23-36 23-11 11-5 23 2 35 18 11 15 11 19 12 49 9 245 2-106 12-142 11-21 23-33 12-8 11-1 12-5 11 1 12-2 11 2 23 13 12 14 11 26 12 18 11 73 5 117 7-141 11-55 11-26 23-28 12-5 11-2 12 4 23-1 23 15 23 37 11 37 6-31-23-46-34-19-34-1-23 11-12 12-11 20-12 35-11 72-2 136-10-182-11-47-12-24-11-19-23-15-23-7-23-1-12 8-11 4-23 17-11 25-12 40-11 151 0-66-12-115-11-41-12-20-23-24-11-3-12-6-11 1-12-2-23 11-23 25-11 24-12 56-6 160-5-169-11-65-12-22-11-1-12 20-11 52-6 197 0 81-6-301-6-47-11-46-6-8-11-10-18-33-5-3-17 3-18-32-5 4-12 14-6 0-11-17-6-2-17 19-12-5-5-8-6-1-11 27-12 6-6-4-5 0-6 7-6 17-17 30-6 14-6 28-5 53-4 206-2-156-6-59-11-44-12-25-11-14-23-12-12 6-11-1-23 23-12 31-11 60-4 149-8-139-11-53-12-25-11-13-23-13-34 0-12 9-11 14-12 19-11 45-9 171-3-80-11-89-12-35-23-30-23-13-11 3-12-5-23 13-11 13-11 9-12 29-11 66-4 207-8-185-11-70-12-22-23-29z"/><path transform="translate(375,3942)" d="M0 -495l23 17 11 18 23 106 7 184 5-215 11-70 12-23 11-18 23-10 12-8 11 1 12-2 11 8 12 5 23 46 11 34 10 166 2-89 11-116 11-31 12-19 11-11 23-6 23 3 12 5 11 14 12 21 11 33 12 137 1 72 10-228 12-40 11-18 12-10 23-12 34 19 11 26 12 36 6 36 5 177 0-84 6-140 6-35 23-57 11-23 6 0 6 3 11-5 6-15 12-12 5 8 12 5 17-19 6 3 11 16 6 1 11-14 6-4 17 32 18-4 5 4 12 24 23 34 11 44 6 54 4 195 2-135 5-64 12-43 11-13 12-1 11 28 12 92 2 145 9-190 12-41 11-24 12-13 34-16 23 1 23 13 23 27 11 27 12 48 7 181 4-130 12-74 23-39 23-18 11-5 23 2 12-2 23 16 11 4 23 32 12 35 11 125 1 57 11-170 11-48 11-19 12-12 23-12 46 1 11 13 12 7 23 40 11 73 6-52-11-36-23-38-23-15-23 1-11-4-12 2-11 5-23 28-12 26-11 55-7 142-5-117-11-73-12-19-11-25-12-15-23-12-11-2-12 1-11-1-12 5-11 1-11 9-23 32-12 22-11 141-3 107-9-246-11-49-12-19-11-14-35-19-23-1-11 5-23 11-23 35-12 52-8 270-3-252-11-76-12-25-11 1-12 12-11 51-6 94-1 89-5-196-11-72-12-33-6 1-11-19-12-24-5-4-17 3-18-32-5 4-12 14-6 0-11-17-6-2-17 19-12-5-5-8-6-1-11 27-12 6-6-4-5 0-6 7-6 17-11 22-12 28-6 29-5 78-2 156-4-149-6-53-11-44-12-19-11-14-23-13-12 6-11-2-12 13-11 19-12 30-11 104-2 210-10-267-11-42-23-33-11-12-35-1-23 9-11 20-12 24-11 55-5 219-7-206-23-67-11-22-35-18-23-2-11 5-34 41-12 34-10 251-1-118-12-101-11-41-12-27-23-21z"/><path transform="translate(368,3949)" d="M0 -502l11 12 12 7 23 35 11 52 12 96 0 113 11-248 12-33 11-21 12-12 23-14 23 2 11 5 12 9 11 13 12 18 11 37 12 124 2 82 9-221 11-44 12-15 23-22 34 1 23 13 12 20 11 29 12 92 3 122 8-211 12-43 11-26 23-17 12-5 11 7 12 0 11 13 11 17 12 33 6 39 5 131 1 57 5-214 6-41 6-20 23-54 11-13 12 8 11-24 12-11 5 7 12 5 17-19 6 3 11 16 6 1 11-15 6-3 17 32 18-4 5 4 12 24 23 35 5 17 6 34 6 69 3 182 3-138 5-77 12-36 11-14 12 8 11 23 12 140 1 130 10-239 12-35 11-16 23-25 12-1 11-5 23 1 12 5 11 9 12 12 11 16 11 28 12 81 4 155 7-159 12-55 11-29 12-9 11-14 12-2 11-7 35 1 11 5 35 31 11 32 12 50 7 153 4-134 12-63 11-35 23-23 11-6 12-4 23 0 11 2 23 13 12 12 11 24 12 40 11 175 0-32 6-108-11-73-23-39-12-7-11-13-46-2-23 12-11 12-12 19-11 48-11 170-1-57-11-125-12-34-23-32-11-5-23-16-12 3-23-3-11 6-23 17-23 39-11 74-5 130-7-181-11-48-12-27-23-26-23-14-23-1-34 17-12 13-11 24-12 40-9 191-2-146-11-92-12-27-11 0-12 13-11 43-6 65-2 134-4-194-6-54-11-45-23-33-12-24-5-4-17 3-18-32-5 4-12 15-6-2-11-16-6-2-17 19-12-6-5-7-12 11-5 15-12 5-6-3-5 0-12 23-23 57-6 35-5 141-1 84-5-177-6-37-11-36-12-26-34-19-23 12-12 11-11 18-12 40-10 228-1-72-12-138-11-33-12-21-11-14-11-5-23-2-23 5-12 12-11 19-12 30-11 117-2 88-10-166-11-33-23-47-12-5-11-8-12 2-11-1-12 8-23 10-11 18-11 24-12 69-4 216-7-184-23-107-12-17-23-18z"/><path transform="translate(362,3957)" d="M0 -502l11 7 12 3 23 36 11 27 12 52 5 235 6-256 12-57 11-27 12-11 11-17 12 1 11-6 23 1 12 8 11 14 12 9 11 23 12 47 6 157 5-165 11-49 23-45 23-13 23 2 23 14 12 10 11 27 12 69 6 132 5-174 12-50 23-43 23-10 11 6 12 0 11 13 23 43 6 30 5 70 3 159 3-222 12-74 11-26 12-32 5-6 6-1 6 3 6 0 11-25 12-12 5 8 12 5 17-19 6 3 11 16 6 1 11-15 6-3 17 32 18-4 5 4 12 24 23 34 11 50 6 65 3 231 3-212 5-47 12-44 11-4 12 7 11 27 11 373 1-185 11-169 12-27 11-18 23-24 12-6 34 2 23 14 12 12 11 20 11 38 12 106 1 171 10-245 12-34 11-22 23-18 23-11 12-2 11 3 12-1 23 13 23 30 11 32 12 98 3 123 8-178 12-58 11-23 23-26 11-4 23-1 12 3 11-1 12 6 23 33 11 28 12 49 5 156 6-145 6 98 0 32-11-175-12-40-11-24-12-12-22-12-12-3-23 1-11 3-12 7-23 23-11 34-12 64-3 133-8-153-12-50-11-32-35-30-11-5-35-2-11 8-11 1-12 15-11 8-12 30-11 54-8 159-4-155-11-81-12-28-11-16-12-12-11-8-12-5-23-1-11 5-12 0-23 25-11 16-12 36-10 238-1-130-11-140-12-23-11-7-12 13-11 37-6 77-2 137-4-182-6-69-5-34-6-17-23-34-12-24-5-4-17 3-18-32-5 4-12 14-6-1-11-16-6-2-17 18-12-4-5-8-12 11-11 25-12-8-11 13-23 53-6 20-6 41-5 215 0-58-6-131-6-39-11-32-12-18-11-13-12 1-11-8-12 6-23 16-11 27-12 42-8 212-3-122-12-93-11-29-12-19-22-14-35-1-23 23-11 14-12 44-9 221-2-82-12-123-11-38-12-18-11-13-12-8-11-6-23-2-23 15-12 11-11 21-11 34-11 247-1-112-11-96-12-53-23-35-11-7-12-12z"/><path transform="translate(356,3964)" d="M0 -508l11 5 12 12 11 9 23 38 12 34 10 204 1-109 12-128 11-29 23-32 23-11 23 4 23 7 12 18 23 53 9 202 2-119 11-104 12-38 11-18 12-11 11-5 35 0 11 14 12 10 11 20 12 62 8 180 3-171 12-81 11-30 12-13 11-11 12-7 11 1 12 8 22 25 12 30 6 29 5 47 4 243 2-258 6-62 6-29 23-64 5-7 6 0 6 2 6-1 11-24 12-11 5 7 12 5 17-19 6 3 11 16 6 1 11-15 6-3 17 32 18-4 5 5 12 23 17 25 11 34 6 31 6 72 2 163 4-162 5-51 12-34 11-5 12 7 11 31 10 263 2-122 11-122 12-39 11-16 12-11 23-13 23 1 11 7 12 0 23 26 11 20 11 42 11 271 1-138 11-120 12-27 11-20 23-22 12-8 34 1 12 7 11 0 35 40 11 42 11 239 1-144 11-97 12-38 11-21 11-10 23-12 35 3 11 4 12 8 23 28 11 38 12 200 0-52 11-145 6 37-6 145-5-155-12-49-11-28-23-34-11-5-12 1-11-4-23 1-12 5-23 25-11 23-12 59-8 177-3-123-12-98-11-32-23-30-23-12-12 0-11-2-12 1-22 12-23 17-12 23-11 33-11 245-1-171-11-106-12-38-11-19-12-13-23-13-34-3-12 6-23 24-11 18-12 28-11 169 0 184-11-373-12-26-11-8-12 4-11 44-6 47-3 212-3-231-6-65-11-50-23-34-12-23-5-4-17 3-18-32-5 4-12 14-6-1-11-16-6-2-17 19-12-6-5-7-12 11-11 25-6 1-6-3-5 0-6 6-12 33-11 25-12 74-3 222-2-159-6-70-6-30-23-43-11-13-12 0-11-5-23 9-23 44-12 50-5 173-6-131-12-69-11-28-12-10-22-14-23-1-23 12-23 46-12 48-5 166-6-158-12-47-11-23-12-8-11-15-12-7-23-1-11 5-12-1-11 17-12 11-11 27-11 57-6 257-6-236-11-51-12-27-23-36-11-3-12-8z"/><path transform="translate(350,3972)" d="M0 -507l11 5 23 18 12 18 11 12 12 32 11 58 4 159 8-201 11-54 12-22 23-25 11-5 12-2 11 2 23 10 12 16 11 11 12 47 11 69 2 70 9-160 23-61 23-18 35 4 11 5 12 13 11 18 12 39 10 166 1-53 12-151 11-27 12-21 11-11 12 0 11-6 23 14 11 19 12 25 6 21 5 43 5 168 1-102 6-117 11-53 6-12 6-21 11-23 18 2 11-25 12-12 5 8 12 5 17-19 6 3 11 16 6 1 11-15 6-3 17 32 18-4 5 4 18 39 5 3 6 8 6 14 5 19 6 37 6 79 1 154 5-176 5-45 12-29 11-7 12 6 11 38 9 238 3-135 11-96 12-29 11-19 23-19 12-5 23 2 34 20 12 10 11 25 11 54 8 189 4-110 11-92 23-42 12-13 11-6 12-5 11 1 23-1 12 9 11 3 12 12 11 15 12 29 11 62 7 127 5-112 11-84 23-36 11-13 12-6 46 3 11 6 23 26 12 26 11 69 6 147 6-130 11-76 6 6-11 145 0 53-12-201-11-38-23-27-11-8-12-5-34-3-23 13-12 9-11 22-12 37-11 97-1 144-11-239-11-41-35-41-11 1-12-7-34-2-11 9-23 21-12 20-11 27-12 120-1 139-10-272-12-42-11-20-23-25-12 0-11-7-23-2-23 13-12 11-11 17-12 39-11 122-2 122-9-263-12-32-11-7-12 5-11 34-6 51-4 162-2-162-6-73-5-31-12-34-17-25-12-23-5-4-17 3-18-32-5 4-12 15-6-1-11-17-6-2-17 18-12-4-5-8-12 11-11 25-6 1-6-3-5 0-6 7-23 64-6 29-6 62-2 259-3-244-6-47-6-29-11-30-23-25-12-7-11-1-12 6-11 11-12 13-11 30-12 82-3 170-8-180-12-61-11-20-12-10-11-14-34-1-12 5-11 12-12 17-11 39-12 104-1 119-10-203-23-52-12-18-23-8-23-3-23 10-23 32-11 29-11 128-1 110-11-205-11-34-23-38-12-9-11-12-12-4z"/><path transform="translate(344,3980)" d="M0 -512l11 7 12 2 11 16 23 24 12 16 11 57 9 235 3-202 11-91 12-34 11-13 12-8 23-10 23 2 11 4 23 27 12 31 11 64 5 118 6-163 12-47 11-24 23-27 35 3 11 6 23 25 12 43 11 80 2 114 10-218 11-33 12-26 34-17 23 12 11 14 12 25 6 17 5 39 6 88 1 121 5-232 6-40 5-22 18-48 11-14 6 3 6 0 17-31 6-6 5 8 12 5 17-19 6 3 11 16 6 1 11-15 6-3 17 32 18-4 5 4 18 39 11 10 11 40 6 38 6 114 1 110 5-175 5-44 12-30 11-5 12 11 11 37 8 211 4-140 11-73 12-32 23-23 23-12 23 0 23 15 23 25 11 22 11 69 6 199 6-180 11-62 12-21 23-22 11-8 12-5 23 1 11-3 23 16 23 30 12 36 11 93 3 107 9-176 11-50 23-38 23-10 34 0 23 14 12 13 11 18 12 39 11 121 1 130 11-244 11-36 6 8-11 76-6 130-6-148-11-68-12-27-22-26-12-6-46-3-11 7-12 12-23 36-11 84-5 113-7-128-11-62-12-28-11-16-12-12-11-3-12-9-23 2-11-2-11 5-12 6-11 13-23 42-12 92-4 110-7-188-12-54-11-26-12-10-34-19-23-3-12 5-23 19-11 19-12 29-11 96-3 135-8-238-12-38-11-5-12 6-11 30-6 45-4 175-2-154-6-78-5-38-6-19-6-14-6-8-5-3-18-38-5-4-17 3-18-32-5 4-12 15-6-1-11-17-6-2-17 18-12-4-5-8-12 11-11 25-17-2-12 23-6 22-5 11-12 54-6 117 0 101-5-167-6-43-6-22-11-25-12-19-23-14-11 7-12-1-11 12-12 20-11 27-12 152 0 53-11-166-12-40-11-18-12-13-11-5-34-3-23 18-23 60-10 160-2-69-11-70-12-46-11-12-12-16-23-9-11-3-12 2-11 5-23 26-12 21-11 54-8 202-3-160-12-58-11-32-12-11-11-19-23-17-12-5z"/><path transform="translate(338,3987)" d="M0 -514l11 9 12 3 11 6 12 18 11 9 12 14 11 32 12 110 2 129 9-241 23-67 12-10 23-12 23 1 11 6 23 20 12 25 11 52 9 150 2-118 12-91 11-26 12-21 23-11 23 2 11 8 12 5 11 18 12 24 11 75 4 108 8-176 11-47 12-18 11-11 23-13 23 14 11 13 12 17 6 18 5 31 6 89 2 151 4-236 6-47 23-75 11-13 6 2 6-1 17-30 6-6 11 16 11-8 12-14 6 3 11 16 6 1 11-15 6-3 17 32 18-4 5 4 18 39 17 25 5 23 6 43 6 238 6-200 5-44 12-22 11-4 12 12 11 48 7 278 5-225 11-77 23-42 35-17 23 1 23 13 11 14 12 19 11 30 11 76 3 163 9-187 11-42 12-28 11-11 12-4 23-12 11 2 23-1 12 5 23 26 11 25 12 39 10 222 1-152 12-90 11-27 12-20 11-11 23-10 34 0 12 8 11 10 12 16 11 21 12 55 7 179 4-166 12-58 11-25 6 7-11 35-11 244-1-130-11-121-12-38-11-19-11-13-23-13-35 0-23 9-23 39-11 49-9 177-3-108-11-93-12-36-23-30-23-15-11 2-23-1-11 5-12 8-23 22-11 21-12 63-6 179-5-199-12-68-11-23-23-25-23-14-23-1-23 12-23 23-12 33-11 72-4 140-7-211-12-37-11-10-12 5-11 30-6 43-5 176-1-111-6-114-5-38-12-39-11-10-18-39-5-4-17 3-18-32-5 4-12 15-6-2-11-16-6-2-17 19-12-5-5-8-6 5-17 31-6 1-6-3-11 13-17 48-6 23-6 40-5 231-1-121-5-88-6-38-6-18-11-24-12-15-23-11-34 17-12 25-11 34-10 218-2-115-11-79-12-43-23-26-11-6-34-2-23 26-12 24-11 47-6 163-6-118-11-63-12-31-23-27-11-5-23-2-23 10-12 9-11 12-12 34-11 91-3 203-8-236-12-56-11-16-23-25-12-16-11-1-12-8z"/><path transform="translate(331,3995)" d="M0 -512l11 -2 23 15 23 25 23 43 12 48 6 189 5-175 12-87 11-29 12-8 11-12 12-9 23 0 11 9 12 6 11 11 12 21 11 37 11 197 12-224 11-34 12-18 11-12 12-6 34 2 23 24 12 27 11 63 6 187 6-216 11-64 12-24 11-12 23-11 23 13 11 13 12 20 11 43 6 53 3 127 3-149 6-65 5-27 18-48 5-13 23-8 12-28 6-4 11 16 11-9 12-14 6 3 11 16 6 1 11-15 6-3 17 32 18-3 5 3 18 38 11 18 6 14 11 61 5 203 7-176 5-32 12-31 11 0 12 12 11 56 6 219 6-196 11-55 12-22 11-17 35-16 11-1 12 2 23 13 11 11 23 56 11 151 1 141 11-257 11-37 12-21 23-22 11-5 35 1 34 19 12 18 11 25 12 53 6 163 5-155 12-53 11-29 12-18 11-11 11-7 23 2 12-1 11 2 12 11 11 14 12 21 11 32 12 134 1 91 10-207 12-48 11-12 6-5-11 25-12 58-4 166-7-179-12-54-11-22-11-15-12-11-11-7-35 0-23 9-11 11-12 20-11 27-12 90 0 152-11-222-12-39-11-25-23-26-12-5-23 1-11-2-23 13-11 4-12 10-11 28-12 42-9 187-2-163-12-76-11-29-12-20-11-14-23-12-23-1-35 17-23 42-11 77-5 224-6-278-12-48-11-12-12 4-11 23-6 44-6 199-6-238-5-42-6-24-17-25-18-38-5-4-17 3-18-32-5 4-12 15-6-2-11-16-6-2-11 13-12 9-11-16-6 5-17 31-6 0-6-2-11 13-23 75-6 47-4 236-2-151-5-89-6-30-6-19-11-17-12-13-23-13-23 12-11 12-12 17-11 48-8 175-4-108-11-74-12-24-11-19-12-5-11-8-23-1-23 11-11 20-12 27-11 91-3 117-9-150-11-52-12-24-23-21-11-5-23-2-23 12-12 10-23 67-9 241-2-129-11-110-12-32-11-13-12-10-11-18-12-5-11-4-12-9z"/><path transform="translate(325,4003)" d="M0 -520l11 9 23 9 12 11 23 24 11 25 12 51 11 253 0-198 12-108 11-32 12-13 23-17 11-6 12-2 11 2 12 5 34 51 11 56 5 183 7-219 11-48 23-38 12-5 11 3 12-1 11 1 12 6 11 12 12 26 11 48 9 195 3-179 11-75 12-31 11-18 23-11 12 6 11 1 11 12 12 20 6 16 11 68 5 235 1-203 6-86 5-35 12-38 11-29 18 1 5-9 12-28 11 3 6 9 11-9 12-14 6 3 11 16 6 1 11-15 6-3 17 32 18-4 5 4 18 39 11 15 6 17 5 25 6 45 5 218 1-129 6-81 5-28 12-24 11 1 12 18 11 59 5 176 7-171 11-51 12-23 23-26 11 2 12-6 23 0 11 7 23 25 12 22 11 42 9 174 14-163 11-34 12-17 11-12 23-15 35 2 23 14 23 30 11 32 12 81 3 163 8-222 12-39 23-42 22-9 23-1 12 2 11 5 12 8 23 37 11 39 8 152 4-101 11-68 12-33 11-11 6 0-11 12-12 48-9 208-2-91-12-134-11-33-11-20-12-15-11-10-12-3-11 2-23-3-12 7-11 11-12 19-11 29-12 52-4 155-7-162-12-54-11-25-12-18-34-18-34-1-12 4-23 23-11 20-12 37-11 257 0-140-12-151-23-56-11-12-23-13-12-2-11 1-35 17-11 16-12 23-11 54-6 196-5-219-12-55-11-13-12 1-11 30-6 32-6 176-6-202-11-62-6-14-11-17-18-38-5-4-17 3-18-32-5 4-12 15-6-2-11-16-6-2-11 13-12 9-11-16-6 5-11 27-23 9-6 12-17 49-6 26-6 65-3 149-3-126-5-53-12-44-11-20-12-13-23-13-23 11-11 13-12 23-11 64-5 216-7-187-11-62-12-27-23-25-34-2-11 6-12 13-11 17-12 34-11 224-12-197-11-36-12-22-11-11-12-5-11-10-23 1-12 9-11 12-12 7-11 29-12 87-4 176-7-190-11-48-23-43-23-24-23-16-12 3z"/><path transform="translate(319,4010)" d="M0 -520l11 8 12-3 11 10 12 14 11 6 12 13 11 17 12 29 11 122 4 177 8-271 11-70 23-33 12-5 11-8 23 1 23 15 23 31 11 48 8 179 4-162 11-70 12-33 23-21 11-1 23 3 12 6 11 11 12 23 11 32 11 233 1-145 11-121 12-31 11-18 12-11 11-7 12 8 11 0 23 30 6 12 11 62 6 249 6-284 5-36 12-44 6-16 11-14 6 3 6-2 5-8 12-28 11 3 6 9 11-9 6-9 6-5 6 3 11 16 6 1 11-15 6-3 17 32 18-4 5 4 6 11 6 18 17 26 6 15 11 79 4 276 2-188 6-88 5-32 12-19 11-1 12 18 11 71 3 196 9-201 11-52 12-24 23-24 11-6 23 0 12 8 11 0 23 27 12 24 11 56 7 173 4-128 12-60 11-34 23-24 23-9 12-1 23 2 11 6 23 23 12 20 11 50 11 186 1-135 11-74 12-30 11-20 23-22 23 2 23 0 11 7 23 30 12 33 11 72 3 91 9-143 11-34 12-23 11-10 6-2-11 11-12 33-11 68-3 102-9-153-11-38-23-38-11-8-12-5-11-2-23 1-23 9-23 43-12 38-8 222-3-162-12-81-11-33-23-29-23-14-34-2-23 15-12 11-11 18-12 34-14 163-9-174-11-43-12-21-23-26-11-6-23-1-12 6-11-1-23 25-12 24-11 51-7 170-4-175-12-59-11-19-12-1-11 25-6 27-6 81-1 129-5-217-5-46-6-25-6-17-11-15-18-38-5-4-17 3-18-32-5 4-12 15-6-2-11-16-6-2-11 13-12 9-6-8-11-3-11 27-6 9-17 0-12 28-11 38-6 35-6 86-1 203-5-235-11-67-6-17-11-19-12-13-11 0-12-7-23 12-11 17-12 32-11 74-3 179-9-195-11-48-12-25-11-12-12-7-11-1-11 1-12-2-11 4-23 39-12 47-7 219-4-182-12-56-34-52-12-5-11-1-12 2-11 5-23 17-12 13-11 32-12 108 0 198-11-253-11-50-12-26-23-24-11-10-23-10-12-8z"/><path transform="translate(313,4018)" d="M0 -521l11 1 12 7 11 9 12 1 23 23 11 15 12 30 11 49 9 174 3-171 11-61 12-33 23-32 11-3 12 0 23 6 23 21 11 20 11 32 11 278 1-181 11-121 12-38 11-19 12-7 11-5 23 1 23 13 12 20 11 28 12 116 1 73 10-200 12-40 11-19 12-12 11 1 12-6 11 7 23 26 11 37 6 32 6 81 1 162 5-255 5-45 6-23 6-20 11-29 6-7 6 2 6-1 5-8 12-27 11 2 6 9 11-9 12-14 6 3 11 16 6 1 11-15 6-3 17 32 18-4 5 4 6 11 6 19 17 25 11 47 6 55 4 238 2-186 6-61 5-28 12-26 11 2 12 26 11 101 2 142 10-202 11-40 12-19 11-10 12-14 11-5 23 1 35 19 23 43 11 67 5 193 6-184 12-48 11-24 12-18 34-18 23 1 35 20 23 38 11 60 7 186 5-178 11-59 12-31 11-10 12-14 11-6 11 1 23-1 12 8 11 5 12 16 11 26 12 36 9 208 2-122 12-102 23-45 11-12 6-1-11 11-12 22-11 34-8 144-4-91-11-73-11-32-23-31-12-7-23 0-23-2-23 22-11 21-12 30-11 73-1 135-11-186-11-50-12-20-23-23-11-5-23-2-11 1-23 8-23 24-12 34-11 60-5 128-7-172-11-56-12-25-23-27-11 0-12-8-23 0-11 6-23 24-12 24-11 52-8 202-3-197-12-71-11-18-12 1-11 20-6 32-6 87-2 189-4-277-11-79-6-14-17-26-6-19-6-10-5-4-17 3-18-32-5 4-12 14-6-1-11-16-6-2-6 5-5 8-12 9-6-9-11-2-11 27-6 8-6 2-6-3-11 14-6 16-11 45-6 36-6 283-6-249-11-62-6-12-23-29-11-1-12-7-11 6-12 12-11 18-12 30-11 121-1 145-11-232-11-32-12-23-11-12-12-5-22-3-12 0-23 22-11 32-12 71-4 161-7-179-12-47-23-31-23-16-23-1-11 8-12 6-23 33-11 69-7 271-5-177-11-121-11-30-12-17-11-12-12-6-11-15-12-10-11 3-12-8z"/><path transform="translate(307,4026)" d="M0 -520l11 0 35 22 23 10 11 13 23 53 12 116 1 180 10-300 12-43 11-20 35-26 11 3 12 0 11 4 12 14 11 20 11 29 12 92 3 130 8-227 12-35 11-24 12-11 11-6 35 1 11 11 12 16 11 27 12 82 3 169 8-243 12-46 11-25 35-17 22 14 18 30 11 46 6 68 2 127 4-179 5-55 12-49 11-29 6-1 6-4 6-1 5-8 12-27 11 2 6 9 11-9 6-9 6-5 6 3 11 16 6 1 11-15 6-3 17 32 18-4 5 4 6 11 6 18 11 18 12 29 5 31 6 56 3 227 3-193 6-58 5-25 12-18 11 0 12 27 11 142 1 98 11-206 11-33 12-24 11-13 23-13 23 1 23 13 23 32 12 33 11 103 2 108 9-171 23-57 23-24 12-6 34 2 12 7 11 4 12 15 23 41 11 80 4 145 8-196 11-45 12-22 11-13 12-6 11-5 11-1 23 3 12 7 23 25 11 29 12 60 5 168 6-170 12-57 11-29 12-12 11-4 6-8-11 12-23 45-12 101-1 122-10-207-11-37-12-25-11-16-12-5-11-9-23 2-12-2-11 7-12 13-11 10-12 31-11 59-5 179-7-186-11-61-23-38-35-19-22-2-35 18-11 19-12 23-11 49-7 183-5-193-11-66-23-43-35-19-23-2-11 5-12 14-11 10-12 19-11 40-9 202-2-141-12-102-11-26-12-1-11 25-6 28-6 62-2 185-4-237-5-56-12-47-17-25-6-19-6-10-5-4-17 3-18-32-5 4-12 14-6-1-11-16-6-2-11 13-12 9-6-8-11-3-11 27-6 8-6 2-6-2-5 7-12 28-6 21-5 23-6 45-5 255-1-162-6-82-5-31-12-37-23-27-11-7-12 7-11-1-12 11-11 19-12 40-10 200-1-73-12-116-11-28-12-20-23-13-22-1-12 5-11 8-12 19-11 37-12 122 0 181-11-279-12-32-11-20-23-21-23-6-12 1-11 2-23 32-12 33-11 61-3 171-9-173-11-50-11-29-12-15-23-24-11 0-12-10-11-7-12-1z"/><path transform="translate(300,4033)" d="M0 -519l11 -1 12 8 11 1 23 10 35 40 11 36 12 51 6 147 5-168 12-64 11-27 35-26 11 0 23 5 23 25 11 25 12 56 6 185 5-212 12-52 11-25 12-9 11-12 35 2 23 26 11 23 12 51 5 238 6-268 12-49 11-25 12-11 23-12 22 14 12 18 6 6 11 41 6 56 3 183 3-193 5-67 6-29 12-43 5-13 6 0 6-5 6-1 5-8 12-28 11 3 6 9 11-9 12-14 6 3 11 16 6 1 11-15 6-3 17 32 18-3 5 3 6 11 6 18 11 19 6 13 6 16 5 30 6 72 2 199 4-195 6-45 5-24 12-18 11-2 12 31 11 260 12-231 11-38 12-18 11-13 23-10 23 1 23 13 12 13 11 18 12 35 11 258 11-237 23-45 12-14 11-6 23-5 23 1 23 13 12 13 23 55 11 197 12-194 11-34 12-21 11-10 12-14 11 2 11-7 12 8 11 0 12 13 11 10 12 21 11 35 12 224 11-225 12-33 11-19 23-16 6-1-11 5-12 11-11 29-12 57-6 170-5-168-11-60-12-29-23-25-11-6-23-4-12 1-11 5-12 6-11 13-12 23-11 44-8 197-4-145-11-81-23-41-12-15-11-4-12-7-34-2-11 6-23 24-23 57-10 171-2-108-11-103-12-32-23-33-23-12-23-2-23 13-11 13-12 25-11 33-10 205-1-97-12-143-11-27-12 0-11 18-6 25-6 59-3 193-3-227-5-57-6-31-12-28-11-18-6-18-6-11-5-4-17 3-18-32-5 4-12 14-6 0-11-17-6-2-6 5-5 9-12 8-6-8-11-3-11 27-6 8-6 1-6 5-5 1-12 28-11 50-6 55-4 178-2-126-6-69-11-45-17-31-23-14-35 18-11 24-12 46-8 244-3-169-12-82-11-28-12-15-11-12-34 0-12 6-11 11-12 23-11 35-9 228-3-130-11-92-12-30-11-19-12-14-11-4-12-1-11-2-35 26-11 20-12 42-10 300-1-179-12-117-22-53-12-12-23-11-34-22-12 0z"/></g><line x1="75.1" y1="1008.3" x2="75.1" y2="843.1" stroke="#404040" stroke-width="0.8"/><line x1="75.1" y1="1008.3" x2="419.4" y2="1021.8" stroke="#404040" stroke-width="0.8"/><line x1="419.4" y1="1021.8" x2="481.3" y2="945.4" stroke="#404040" stroke-width="0.8"/><line x1="75.1" y1="997.6" x2="66.1" y2="997.6" stroke="#404040" stroke-width="0.8"/><line x1="75.1" y1="966.7" x2="66.1" y2="966.7" stroke="#404040" stroke-width="0.8"/><line x1="75.1" y1="935.8" x2="66.1" y2="935.8" stroke="#404040" stroke-width="0.8"/><line x1="75.1" y1="904.9" x2="66.1" y2="904.9" stroke="#404040" stroke-width="0.8"/><line x1="75.1" y1="874.0" x2="66.1" y2="874.0" stroke="#404040" stroke-width="0.8"/><line x1="75.1" y1="843.1" x2="66.1" y2="843.1" stroke="#404040" stroke-width="0.8"/><line x1="75.1" y1="1008.3" x2="69.4" y2="1015.3" stroke="#404040" stroke-width="0.8"/><line x1="132.5" y1="1010.5" x2="126.8" y2="1017.5" stroke="#404040" stroke-width="0.8"/><line x1="189.9" y1="1012.8" x2="184.2" y2="1019.8" stroke="#404040" stroke-width="0.8"/><line x1="247.2" y1="1015.0" x2="241.6" y2="1022.0" stroke="#404040" stroke-width="0.8"/><line x1="304.6" y1="1017.3" x2="299.0" y2="1024.3" stroke="#404040" stroke-width="0.8"/><line x1="362.0" y1="1019.5" x2="356.4" y2="1026.5" stroke="#404040" stroke-width="0.8"/><line x1="419.4" y1="1021.8" x2="413.7" y2="1028.8" stroke="#404040" stroke-width="0.8"/><line x1="481.3" y1="945.4" x2="490.3" y2="945.8" stroke="#404040" stroke-width="0.8"/><line x1="460.7" y1="970.9" x2="469.7" y2="971.2" stroke="#404040" stroke-width="0.8"/><line x1="440.0" y1="996.3" x2="449.0" y2="996.7" stroke="#404040" stroke-width="0.8"/><line x1="419.4" y1="1021.8" x2="428.4" y2="1022.2" stroke="#404040" stroke-width="0.8"/><g font-size="12.4" font-family="Liberation Sans, Arial, Helvetica, sans-serif" fill="#262626"><text x="60.3" y="1002.0" text-anchor="end">-100</text><text x="60.3" y="971.1" text-anchor="end">-80</text><text x="60.3" y="940.2" text-anchor="end">-60</text><text x="60.3" y="909.3" text-anchor="end">-40</text><text x="60.3" y="878.4" text-anchor="end">-20</text><text x="60.3" y="847.5" text-anchor="end">0</text><text x="66.1" y="1032.3" text-anchor="end">-60</text><text x="123.5" y="1034.5" text-anchor="end">-40</text><text x="180.9" y="1036.8" text-anchor="end">-20</text><text x="238.3" y="1039.0" text-anchor="end">0</text><text x="295.7" y="1041.3" text-anchor="end">20</text><text x="353.1" y="1043.5" text-anchor="end">40</text><text x="410.4" y="1045.8" text-anchor="end">60</text><text x="495.8" y="958.8">0.7</text><text x="475.2" y="984.2">0.8</text><text x="454.5" y="1009.7">0.9</text><text x="433.9" y="1035.2">1</text></g><text transform="translate(28.9,934.7) rotate(-90)" text-anchor="middle" font-size="12.8" font-family="Liberation Sans, Arial, Helvetica, sans-serif" fill="#262626">Gain (dB)</text><text x="231.4" y="1047.5" text-anchor="middle" font-size="14" font-family="Liberation Sans, Arial, Helvetica, sans-serif" fill="#262626">Angle (degree)</text><text transform="translate(467.6,1042.2) rotate(-52.2)" font-size="14.3" font-family="Liberation Sans, Arial, Helvetica, sans-serif" fill="#262626">Frequency (GHz)</text><text x="266.5" y="1071.7" text-anchor="middle" font-family="Liberation Serif, serif" font-weight="bold" font-size="21" fill="#111">(c)</text></svg></body></html>
